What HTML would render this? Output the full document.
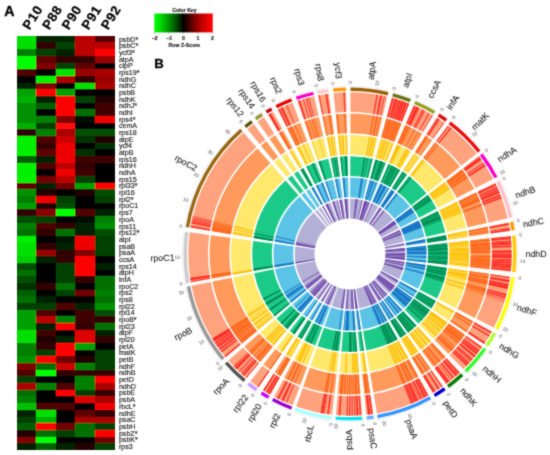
<!DOCTYPE html><html><head><meta charset="utf-8"><title>Figure</title><style>html,body{margin:0;padding:0;background:#fff}svg{display:block}#fig{width:550px;height:455px;overflow:hidden}text{font-family:"Liberation Sans",Arial,sans-serif}</style></head><body><div id="fig"><svg width="550" height="455" viewBox="0 0 550 455"><defs><filter id="sb" filterUnits="userSpaceOnUse" x="0" y="0" width="550" height="455"><feConvolveMatrix order="3" kernelMatrix="1 2 1 2 12 2 1 2 1" divisor="24" edgeMode="duplicate"/></filter></defs><rect width="550" height="455" fill="#fff"/><g filter="url(#sb)"><g shape-rendering="crispEdges"><rect x="16.50" y="35.80" width="19.65" height="6.73" fill="#00E000"/><rect x="36.10" y="35.80" width="19.65" height="6.73" fill="#002600"/><rect x="55.70" y="35.80" width="19.65" height="6.73" fill="#002600"/><rect x="75.30" y="35.80" width="19.65" height="6.73" fill="#BB0000"/><rect x="94.90" y="35.80" width="19.65" height="6.73" fill="#550000"/><rect x="16.50" y="42.48" width="19.65" height="6.73" fill="#00E000"/><rect x="36.10" y="42.48" width="19.65" height="6.73" fill="#300000"/><rect x="55.70" y="42.48" width="19.65" height="6.73" fill="#004000"/><rect x="75.30" y="42.48" width="19.65" height="6.73" fill="#BB0000"/><rect x="94.90" y="42.48" width="19.65" height="6.73" fill="#BB0000"/><rect x="16.50" y="49.16" width="19.65" height="6.73" fill="#008000"/><rect x="36.10" y="49.16" width="19.65" height="6.73" fill="#004000"/><rect x="55.70" y="49.16" width="19.65" height="6.73" fill="#002000"/><rect x="75.30" y="49.16" width="19.65" height="6.73" fill="#BB0000"/><rect x="94.90" y="49.16" width="19.65" height="6.73" fill="#FF0000"/><rect x="16.50" y="55.84" width="19.65" height="6.73" fill="#00FF00"/><rect x="36.10" y="55.84" width="19.65" height="6.73" fill="#600000"/><rect x="55.70" y="55.84" width="19.65" height="6.73" fill="#300000"/><rect x="75.30" y="55.84" width="19.65" height="6.73" fill="#300000"/><rect x="94.90" y="55.84" width="19.65" height="6.73" fill="#990000"/><rect x="16.50" y="62.52" width="19.65" height="6.73" fill="#00FF00"/><rect x="36.10" y="62.52" width="19.65" height="6.73" fill="#800000"/><rect x="55.70" y="62.52" width="19.65" height="6.73" fill="#004000"/><rect x="75.30" y="62.52" width="19.65" height="6.73" fill="#600000"/><rect x="94.90" y="62.52" width="19.65" height="6.73" fill="#000000"/><rect x="16.50" y="69.20" width="19.65" height="6.73" fill="#500000"/><rect x="36.10" y="69.20" width="19.65" height="6.73" fill="#000000"/><rect x="55.70" y="69.20" width="19.65" height="6.73" fill="#00E000"/><rect x="75.30" y="69.20" width="19.65" height="6.73" fill="#990000"/><rect x="94.90" y="69.20" width="19.65" height="6.73" fill="#AA0000"/><rect x="16.50" y="75.87" width="19.65" height="6.73" fill="#000000"/><rect x="36.10" y="75.87" width="19.65" height="6.73" fill="#00F000"/><rect x="55.70" y="75.87" width="19.65" height="6.73" fill="#AA0000"/><rect x="75.30" y="75.87" width="19.65" height="6.73" fill="#300000"/><rect x="94.90" y="75.87" width="19.65" height="6.73" fill="#990000"/><rect x="16.50" y="82.55" width="19.65" height="6.73" fill="#002000"/><rect x="36.10" y="82.55" width="19.65" height="6.73" fill="#800000"/><rect x="55.70" y="82.55" width="19.65" height="6.73" fill="#000000"/><rect x="75.30" y="82.55" width="19.65" height="6.73" fill="#00E000"/><rect x="94.90" y="82.55" width="19.65" height="6.73" fill="#AA0000"/><rect x="16.50" y="89.23" width="19.65" height="6.73" fill="#00A000"/><rect x="36.10" y="89.23" width="19.65" height="6.73" fill="#FF0000"/><rect x="55.70" y="89.23" width="19.65" height="6.73" fill="#00A000"/><rect x="75.30" y="89.23" width="19.65" height="6.73" fill="#000000"/><rect x="94.90" y="89.23" width="19.65" height="6.73" fill="#000000"/><rect x="16.50" y="95.91" width="19.65" height="6.73" fill="#00B000"/><rect x="36.10" y="95.91" width="19.65" height="6.73" fill="#002000"/><rect x="55.70" y="95.91" width="19.65" height="6.73" fill="#FF0000"/><rect x="75.30" y="95.91" width="19.65" height="6.73" fill="#004000"/><rect x="94.90" y="95.91" width="19.65" height="6.73" fill="#200000"/><rect x="16.50" y="102.59" width="19.65" height="6.73" fill="#009000"/><rect x="36.10" y="102.59" width="19.65" height="6.73" fill="#006000"/><rect x="55.70" y="102.59" width="19.65" height="6.73" fill="#FF0000"/><rect x="75.30" y="102.59" width="19.65" height="6.73" fill="#000000"/><rect x="94.90" y="102.59" width="19.65" height="6.73" fill="#400000"/><rect x="16.50" y="109.27" width="19.65" height="6.73" fill="#009000"/><rect x="36.10" y="109.27" width="19.65" height="6.73" fill="#000000"/><rect x="55.70" y="109.27" width="19.65" height="6.73" fill="#FF0000"/><rect x="75.30" y="109.27" width="19.65" height="6.73" fill="#007000"/><rect x="94.90" y="109.27" width="19.65" height="6.73" fill="#400000"/><rect x="16.50" y="115.95" width="19.65" height="6.73" fill="#009000"/><rect x="36.10" y="115.95" width="19.65" height="6.73" fill="#008000"/><rect x="55.70" y="115.95" width="19.65" height="6.73" fill="#800000"/><rect x="75.30" y="115.95" width="19.65" height="6.73" fill="#001000"/><rect x="94.90" y="115.95" width="19.65" height="6.73" fill="#EE0000"/><rect x="16.50" y="122.63" width="19.65" height="6.73" fill="#00B000"/><rect x="36.10" y="122.63" width="19.65" height="6.73" fill="#004000"/><rect x="55.70" y="122.63" width="19.65" height="6.73" fill="#FF1010"/><rect x="75.30" y="122.63" width="19.65" height="6.73" fill="#000000"/><rect x="94.90" y="122.63" width="19.65" height="6.73" fill="#000000"/><rect x="16.50" y="129.31" width="19.65" height="6.73" fill="#300000"/><rect x="36.10" y="129.31" width="19.65" height="6.73" fill="#008000"/><rect x="55.70" y="129.31" width="19.65" height="6.73" fill="#AA0000"/><rect x="75.30" y="129.31" width="19.65" height="6.73" fill="#005000"/><rect x="94.90" y="129.31" width="19.65" height="6.73" fill="#005000"/><rect x="16.50" y="135.99" width="19.65" height="6.73" fill="#00F000"/><rect x="36.10" y="135.99" width="19.65" height="6.73" fill="#500000"/><rect x="55.70" y="135.99" width="19.65" height="6.73" fill="#CC0000"/><rect x="75.30" y="135.99" width="19.65" height="6.73" fill="#003000"/><rect x="94.90" y="135.99" width="19.65" height="6.73" fill="#200000"/><rect x="16.50" y="142.66" width="19.65" height="6.73" fill="#00F000"/><rect x="36.10" y="142.66" width="19.65" height="6.73" fill="#300000"/><rect x="55.70" y="142.66" width="19.65" height="6.73" fill="#EE0000"/><rect x="75.30" y="142.66" width="19.65" height="6.73" fill="#000000"/><rect x="94.90" y="142.66" width="19.65" height="6.73" fill="#003000"/><rect x="16.50" y="149.34" width="19.65" height="6.73" fill="#00F000"/><rect x="36.10" y="149.34" width="19.65" height="6.73" fill="#600000"/><rect x="55.70" y="149.34" width="19.65" height="6.73" fill="#EE0000"/><rect x="75.30" y="149.34" width="19.65" height="6.73" fill="#003000"/><rect x="94.90" y="149.34" width="19.65" height="6.73" fill="#000000"/><rect x="16.50" y="156.02" width="19.65" height="6.73" fill="#006000"/><rect x="36.10" y="156.02" width="19.65" height="6.73" fill="#002000"/><rect x="55.70" y="156.02" width="19.65" height="6.73" fill="#EE0000"/><rect x="75.30" y="156.02" width="19.65" height="6.73" fill="#400000"/><rect x="94.90" y="156.02" width="19.65" height="6.73" fill="#400000"/><rect x="16.50" y="162.70" width="19.65" height="6.73" fill="#00F000"/><rect x="36.10" y="162.70" width="19.65" height="6.73" fill="#500000"/><rect x="55.70" y="162.70" width="19.65" height="6.73" fill="#BB0000"/><rect x="75.30" y="162.70" width="19.65" height="6.73" fill="#300000"/><rect x="94.90" y="162.70" width="19.65" height="6.73" fill="#000000"/><rect x="16.50" y="169.38" width="19.65" height="6.73" fill="#00F000"/><rect x="36.10" y="169.38" width="19.65" height="6.73" fill="#000000"/><rect x="55.70" y="169.38" width="19.65" height="6.73" fill="#EE0000"/><rect x="75.30" y="169.38" width="19.65" height="6.73" fill="#400000"/><rect x="94.90" y="169.38" width="19.65" height="6.73" fill="#000000"/><rect x="16.50" y="176.06" width="19.65" height="6.73" fill="#00F000"/><rect x="36.10" y="176.06" width="19.65" height="6.73" fill="#700000"/><rect x="55.70" y="176.06" width="19.65" height="6.73" fill="#BB0000"/><rect x="75.30" y="176.06" width="19.65" height="6.73" fill="#004000"/><rect x="94.90" y="176.06" width="19.65" height="6.73" fill="#000000"/><rect x="16.50" y="182.74" width="19.65" height="6.73" fill="#600000"/><rect x="36.10" y="182.74" width="19.65" height="6.73" fill="#002000"/><rect x="55.70" y="182.74" width="19.65" height="6.73" fill="#700000"/><rect x="75.30" y="182.74" width="19.65" height="6.73" fill="#00A000"/><rect x="94.90" y="182.74" width="19.65" height="6.73" fill="#FF0000"/><rect x="16.50" y="189.42" width="19.65" height="6.73" fill="#009000"/><rect x="36.10" y="189.42" width="19.65" height="6.73" fill="#200000"/><rect x="55.70" y="189.42" width="19.65" height="6.73" fill="#000000"/><rect x="75.30" y="189.42" width="19.65" height="6.73" fill="#200000"/><rect x="94.90" y="189.42" width="19.65" height="6.73" fill="#005000"/><rect x="16.50" y="196.10" width="19.65" height="6.73" fill="#008000"/><rect x="36.10" y="196.10" width="19.65" height="6.73" fill="#EE0000"/><rect x="55.70" y="196.10" width="19.65" height="6.73" fill="#004000"/><rect x="75.30" y="196.10" width="19.65" height="6.73" fill="#000000"/><rect x="94.90" y="196.10" width="19.65" height="6.73" fill="#004000"/><rect x="16.50" y="202.78" width="19.65" height="6.73" fill="#00A000"/><rect x="36.10" y="202.78" width="19.65" height="6.73" fill="#200000"/><rect x="55.70" y="202.78" width="19.65" height="6.73" fill="#005000"/><rect x="75.30" y="202.78" width="19.65" height="6.73" fill="#000000"/><rect x="94.90" y="202.78" width="19.65" height="6.73" fill="#000000"/><rect x="16.50" y="209.45" width="19.65" height="6.73" fill="#300000"/><rect x="36.10" y="209.45" width="19.65" height="6.73" fill="#880000"/><rect x="55.70" y="209.45" width="19.65" height="6.73" fill="#00FF00"/><rect x="75.30" y="209.45" width="19.65" height="6.73" fill="#500000"/><rect x="94.90" y="209.45" width="19.65" height="6.73" fill="#002000"/><rect x="16.50" y="216.13" width="19.65" height="6.73" fill="#005000"/><rect x="36.10" y="216.13" width="19.65" height="6.73" fill="#004000"/><rect x="55.70" y="216.13" width="19.65" height="6.73" fill="#000000"/><rect x="75.30" y="216.13" width="19.65" height="6.73" fill="#001000"/><rect x="94.90" y="216.13" width="19.65" height="6.73" fill="#008000"/><rect x="16.50" y="222.81" width="19.65" height="6.73" fill="#008000"/><rect x="36.10" y="222.81" width="19.65" height="6.73" fill="#500000"/><rect x="55.70" y="222.81" width="19.65" height="6.73" fill="#300000"/><rect x="75.30" y="222.81" width="19.65" height="6.73" fill="#002000"/><rect x="94.90" y="222.81" width="19.65" height="6.73" fill="#009000"/><rect x="16.50" y="229.49" width="19.65" height="6.73" fill="#007000"/><rect x="36.10" y="229.49" width="19.65" height="6.73" fill="#300000"/><rect x="55.70" y="229.49" width="19.65" height="6.73" fill="#007000"/><rect x="75.30" y="229.49" width="19.65" height="6.73" fill="#002000"/><rect x="94.90" y="229.49" width="19.65" height="6.73" fill="#005000"/><rect x="16.50" y="236.17" width="19.65" height="6.73" fill="#00EE00"/><rect x="36.10" y="236.17" width="19.65" height="6.73" fill="#000000"/><rect x="55.70" y="236.17" width="19.65" height="6.73" fill="#001800"/><rect x="75.30" y="236.17" width="19.65" height="6.73" fill="#EE0000"/><rect x="94.90" y="236.17" width="19.65" height="6.73" fill="#004000"/><rect x="16.50" y="242.85" width="19.65" height="6.73" fill="#00E000"/><rect x="36.10" y="242.85" width="19.65" height="6.73" fill="#300000"/><rect x="55.70" y="242.85" width="19.65" height="6.73" fill="#002000"/><rect x="75.30" y="242.85" width="19.65" height="6.73" fill="#EE0000"/><rect x="94.90" y="242.85" width="19.65" height="6.73" fill="#004000"/><rect x="16.50" y="249.53" width="19.65" height="6.73" fill="#00E000"/><rect x="36.10" y="249.53" width="19.65" height="6.73" fill="#990000"/><rect x="55.70" y="249.53" width="19.65" height="6.73" fill="#300000"/><rect x="75.30" y="249.53" width="19.65" height="6.73" fill="#800000"/><rect x="94.90" y="249.53" width="19.65" height="6.73" fill="#004000"/><rect x="16.50" y="256.21" width="19.65" height="6.73" fill="#00D000"/><rect x="36.10" y="256.21" width="19.65" height="6.73" fill="#002000"/><rect x="55.70" y="256.21" width="19.65" height="6.73" fill="#300000"/><rect x="75.30" y="256.21" width="19.65" height="6.73" fill="#FF0000"/><rect x="94.90" y="256.21" width="19.65" height="6.73" fill="#000000"/><rect x="16.50" y="262.89" width="19.65" height="6.73" fill="#005000"/><rect x="36.10" y="262.89" width="19.65" height="6.73" fill="#000000"/><rect x="55.70" y="262.89" width="19.65" height="6.73" fill="#004000"/><rect x="75.30" y="262.89" width="19.65" height="6.73" fill="#FF0000"/><rect x="94.90" y="262.89" width="19.65" height="6.73" fill="#002000"/><rect x="16.50" y="269.57" width="19.65" height="6.73" fill="#007000"/><rect x="36.10" y="269.57" width="19.65" height="6.73" fill="#000000"/><rect x="55.70" y="269.57" width="19.65" height="6.73" fill="#004000"/><rect x="75.30" y="269.57" width="19.65" height="6.73" fill="#FF0000"/><rect x="94.90" y="269.57" width="19.65" height="6.73" fill="#000000"/><rect x="16.50" y="276.25" width="19.65" height="6.73" fill="#005000"/><rect x="36.10" y="276.25" width="19.65" height="6.73" fill="#000000"/><rect x="55.70" y="276.25" width="19.65" height="6.73" fill="#004000"/><rect x="75.30" y="276.25" width="19.65" height="6.73" fill="#300000"/><rect x="94.90" y="276.25" width="19.65" height="6.73" fill="#007000"/><rect x="16.50" y="282.92" width="19.65" height="6.73" fill="#003000"/><rect x="36.10" y="282.92" width="19.65" height="6.73" fill="#300000"/><rect x="55.70" y="282.92" width="19.65" height="6.73" fill="#007000"/><rect x="75.30" y="282.92" width="19.65" height="6.73" fill="#000000"/><rect x="94.90" y="282.92" width="19.65" height="6.73" fill="#007000"/><rect x="16.50" y="289.60" width="19.65" height="6.73" fill="#006000"/><rect x="36.10" y="289.60" width="19.65" height="6.73" fill="#000000"/><rect x="55.70" y="289.60" width="19.65" height="6.73" fill="#004000"/><rect x="75.30" y="289.60" width="19.65" height="6.73" fill="#700000"/><rect x="94.90" y="289.60" width="19.65" height="6.73" fill="#008000"/><rect x="16.50" y="296.28" width="19.65" height="6.73" fill="#007000"/><rect x="36.10" y="296.28" width="19.65" height="6.73" fill="#002000"/><rect x="55.70" y="296.28" width="19.65" height="6.73" fill="#000000"/><rect x="75.30" y="296.28" width="19.65" height="6.73" fill="#000000"/><rect x="94.90" y="296.28" width="19.65" height="6.73" fill="#007000"/><rect x="16.50" y="302.96" width="19.65" height="6.73" fill="#004000"/><rect x="36.10" y="302.96" width="19.65" height="6.73" fill="#004000"/><rect x="55.70" y="302.96" width="19.65" height="6.73" fill="#500000"/><rect x="75.30" y="302.96" width="19.65" height="6.73" fill="#002000"/><rect x="94.90" y="302.96" width="19.65" height="6.73" fill="#009000"/><rect x="16.50" y="309.64" width="19.65" height="6.73" fill="#00A000"/><rect x="36.10" y="309.64" width="19.65" height="6.73" fill="#500000"/><rect x="55.70" y="309.64" width="19.65" height="6.73" fill="#000000"/><rect x="75.30" y="309.64" width="19.65" height="6.73" fill="#400000"/><rect x="94.90" y="309.64" width="19.65" height="6.73" fill="#005000"/><rect x="16.50" y="316.32" width="19.65" height="6.73" fill="#00A000"/><rect x="36.10" y="316.32" width="19.65" height="6.73" fill="#BB0000"/><rect x="55.70" y="316.32" width="19.65" height="6.73" fill="#008000"/><rect x="75.30" y="316.32" width="19.65" height="6.73" fill="#400000"/><rect x="94.90" y="316.32" width="19.65" height="6.73" fill="#300000"/><rect x="16.50" y="323.00" width="19.65" height="6.73" fill="#00A000"/><rect x="36.10" y="323.00" width="19.65" height="6.73" fill="#002000"/><rect x="55.70" y="323.00" width="19.65" height="6.73" fill="#FF0000"/><rect x="75.30" y="323.00" width="19.65" height="6.73" fill="#300000"/><rect x="94.90" y="323.00" width="19.65" height="6.73" fill="#007000"/><rect x="16.50" y="329.68" width="19.65" height="6.73" fill="#00E000"/><rect x="36.10" y="329.68" width="19.65" height="6.73" fill="#400000"/><rect x="55.70" y="329.68" width="19.65" height="6.73" fill="#000000"/><rect x="75.30" y="329.68" width="19.65" height="6.73" fill="#DD0000"/><rect x="94.90" y="329.68" width="19.65" height="6.73" fill="#002000"/><rect x="16.50" y="336.36" width="19.65" height="6.73" fill="#00E000"/><rect x="36.10" y="336.36" width="19.65" height="6.73" fill="#200000"/><rect x="55.70" y="336.36" width="19.65" height="6.73" fill="#002000"/><rect x="75.30" y="336.36" width="19.65" height="6.73" fill="#DD0000"/><rect x="94.90" y="336.36" width="19.65" height="6.73" fill="#300000"/><rect x="16.50" y="343.04" width="19.65" height="6.73" fill="#008000"/><rect x="36.10" y="343.04" width="19.65" height="6.73" fill="#300000"/><rect x="55.70" y="343.04" width="19.65" height="6.73" fill="#FF0000"/><rect x="75.30" y="343.04" width="19.65" height="6.73" fill="#00A000"/><rect x="94.90" y="343.04" width="19.65" height="6.73" fill="#000000"/><rect x="16.50" y="349.71" width="19.65" height="6.73" fill="#008000"/><rect x="36.10" y="349.71" width="19.65" height="6.73" fill="#004000"/><rect x="55.70" y="349.71" width="19.65" height="6.73" fill="#FF0000"/><rect x="75.30" y="349.71" width="19.65" height="6.73" fill="#000000"/><rect x="94.90" y="349.71" width="19.65" height="6.73" fill="#004000"/><rect x="16.50" y="356.39" width="19.65" height="6.73" fill="#009000"/><rect x="36.10" y="356.39" width="19.65" height="6.73" fill="#FF0000"/><rect x="55.70" y="356.39" width="19.65" height="6.73" fill="#700000"/><rect x="75.30" y="356.39" width="19.65" height="6.73" fill="#200000"/><rect x="94.90" y="356.39" width="19.65" height="6.73" fill="#004000"/><rect x="16.50" y="363.07" width="19.65" height="6.73" fill="#800000"/><rect x="36.10" y="363.07" width="19.65" height="6.73" fill="#007000"/><rect x="55.70" y="363.07" width="19.65" height="6.73" fill="#CC0000"/><rect x="75.30" y="363.07" width="19.65" height="6.73" fill="#008000"/><rect x="94.90" y="363.07" width="19.65" height="6.73" fill="#004000"/><rect x="16.50" y="369.75" width="19.65" height="6.73" fill="#500000"/><rect x="36.10" y="369.75" width="19.65" height="6.73" fill="#00FF00"/><rect x="55.70" y="369.75" width="19.65" height="6.73" fill="#300000"/><rect x="75.30" y="369.75" width="19.65" height="6.73" fill="#300000"/><rect x="94.90" y="369.75" width="19.65" height="6.73" fill="#300000"/><rect x="16.50" y="376.43" width="19.65" height="6.73" fill="#004000"/><rect x="36.10" y="376.43" width="19.65" height="6.73" fill="#000000"/><rect x="55.70" y="376.43" width="19.65" height="6.73" fill="#000000"/><rect x="75.30" y="376.43" width="19.65" height="6.73" fill="#008000"/><rect x="94.90" y="376.43" width="19.65" height="6.73" fill="#FF0000"/><rect x="16.50" y="383.11" width="19.65" height="6.73" fill="#AA0000"/><rect x="36.10" y="383.11" width="19.65" height="6.73" fill="#008000"/><rect x="55.70" y="383.11" width="19.65" height="6.73" fill="#500000"/><rect x="75.30" y="383.11" width="19.65" height="6.73" fill="#008000"/><rect x="94.90" y="383.11" width="19.65" height="6.73" fill="#AA0000"/><rect x="16.50" y="389.79" width="19.65" height="6.73" fill="#007000"/><rect x="36.10" y="389.79" width="19.65" height="6.73" fill="#000000"/><rect x="55.70" y="389.79" width="19.65" height="6.73" fill="#FF0000"/><rect x="75.30" y="389.79" width="19.65" height="6.73" fill="#004000"/><rect x="94.90" y="389.79" width="19.65" height="6.73" fill="#300000"/><rect x="16.50" y="396.47" width="19.65" height="6.73" fill="#008000"/><rect x="36.10" y="396.47" width="19.65" height="6.73" fill="#000000"/><rect x="55.70" y="396.47" width="19.65" height="6.73" fill="#000000"/><rect x="75.30" y="396.47" width="19.65" height="6.73" fill="#DD0000"/><rect x="94.90" y="396.47" width="19.65" height="6.73" fill="#AA0000"/><rect x="16.50" y="403.15" width="19.65" height="6.73" fill="#00C000"/><rect x="36.10" y="403.15" width="19.65" height="6.73" fill="#500000"/><rect x="55.70" y="403.15" width="19.65" height="6.73" fill="#500000"/><rect x="75.30" y="403.15" width="19.65" height="6.73" fill="#000000"/><rect x="94.90" y="403.15" width="19.65" height="6.73" fill="#EE0000"/><rect x="16.50" y="409.83" width="19.65" height="6.73" fill="#002000"/><rect x="36.10" y="409.83" width="19.65" height="6.73" fill="#00E000"/><rect x="55.70" y="409.83" width="19.65" height="6.73" fill="#000000"/><rect x="75.30" y="409.83" width="19.65" height="6.73" fill="#600000"/><rect x="94.90" y="409.83" width="19.65" height="6.73" fill="#300000"/><rect x="16.50" y="416.50" width="19.65" height="6.73" fill="#004000"/><rect x="36.10" y="416.50" width="19.65" height="6.73" fill="#00B000"/><rect x="55.70" y="416.50" width="19.65" height="6.73" fill="#000000"/><rect x="75.30" y="416.50" width="19.65" height="6.73" fill="#AA0000"/><rect x="94.90" y="416.50" width="19.65" height="6.73" fill="#AA0000"/><rect x="16.50" y="423.18" width="19.65" height="6.73" fill="#006000"/><rect x="36.10" y="423.18" width="19.65" height="6.73" fill="#FF0000"/><rect x="55.70" y="423.18" width="19.65" height="6.73" fill="#700000"/><rect x="75.30" y="423.18" width="19.65" height="6.73" fill="#007000"/><rect x="94.90" y="423.18" width="19.65" height="6.73" fill="#004000"/><rect x="16.50" y="429.86" width="19.65" height="6.73" fill="#200000"/><rect x="36.10" y="429.86" width="19.65" height="6.73" fill="#007000"/><rect x="55.70" y="429.86" width="19.65" height="6.73" fill="#004000"/><rect x="75.30" y="429.86" width="19.65" height="6.73" fill="#007000"/><rect x="94.90" y="429.86" width="19.65" height="6.73" fill="#FF0000"/><rect x="16.50" y="436.54" width="19.65" height="6.73" fill="#800000"/><rect x="36.10" y="436.54" width="19.65" height="6.73" fill="#00FF00"/><rect x="55.70" y="436.54" width="19.65" height="6.73" fill="#000000"/><rect x="75.30" y="436.54" width="19.65" height="6.73" fill="#000000"/><rect x="94.90" y="436.54" width="19.65" height="6.73" fill="#700000"/><rect x="16.50" y="443.22" width="19.65" height="6.73" fill="#002000"/><rect x="36.10" y="443.22" width="19.65" height="6.73" fill="#006000"/><rect x="55.70" y="443.22" width="19.65" height="6.73" fill="#002000"/><rect x="75.30" y="443.22" width="19.65" height="6.73" fill="#200000"/><rect x="94.90" y="443.22" width="19.65" height="6.73" fill="#004000"/></g><g font-size="7.1" fill="#1a1a1a" stroke="#333" stroke-width="0.18"><text x="118.9" y="41.50">psbD*</text><text x="118.9" y="48.18">psbC*</text><text x="118.9" y="54.86">ycf3*</text><text x="118.9" y="61.54">atpA</text><text x="118.9" y="68.22">clpP</text><text x="118.9" y="74.90">rps19*</text><text x="118.9" y="81.57">ndhG</text><text x="118.9" y="88.25">ndhC</text><text x="118.9" y="94.93">psbB</text><text x="118.9" y="101.61">ndhK</text><text x="118.9" y="108.29">ndhJ*</text><text x="118.9" y="114.97">ndhI</text><text x="118.9" y="121.65">rps4*</text><text x="118.9" y="128.33">cemA</text><text x="118.9" y="135.01">rps18</text><text x="118.9" y="141.69">atpE</text><text x="118.9" y="148.36">ycf4</text><text x="118.9" y="155.04">atpB</text><text x="118.9" y="161.72">rps16</text><text x="118.9" y="168.40">ndhH</text><text x="118.9" y="175.08">ndhA</text><text x="118.9" y="181.76">rps15</text><text x="118.9" y="188.44">rpl33*</text><text x="118.9" y="195.12">rpl16</text><text x="118.9" y="201.80">rpl2*</text><text x="118.9" y="208.48">rpoC1</text><text x="118.9" y="215.15">rps7</text><text x="118.9" y="221.83">rpoA</text><text x="118.9" y="228.51">rps11</text><text x="118.9" y="235.19">rps12*</text><text x="118.9" y="241.87">atpI</text><text x="118.9" y="248.55">psaB</text><text x="118.9" y="255.23">psaA</text><text x="118.9" y="261.91">ccsA</text><text x="118.9" y="268.59">rps14</text><text x="118.9" y="275.27">atpH</text><text x="118.9" y="281.95">infA</text><text x="118.9" y="288.62">rpoC2</text><text x="118.9" y="295.30">rps2</text><text x="118.9" y="301.98">rps8</text><text x="118.9" y="308.66">rpl22</text><text x="118.9" y="315.34">rpl14</text><text x="118.9" y="322.02">rpoB*</text><text x="118.9" y="328.70">rpl23</text><text x="118.9" y="335.38">atpF</text><text x="118.9" y="342.06">rpl20</text><text x="118.9" y="348.74">petA</text><text x="118.9" y="355.41">matK</text><text x="118.9" y="362.09">petB</text><text x="118.9" y="368.77">ndhF</text><text x="118.9" y="375.45">ndhB</text><text x="118.9" y="382.13">petD</text><text x="118.9" y="388.81">ndhD</text><text x="118.9" y="395.49">psbE</text><text x="118.9" y="402.17">psbA</text><text x="118.9" y="408.85">rbcL*</text><text x="118.9" y="415.53">ndhE</text><text x="118.9" y="422.20">psaC</text><text x="118.9" y="428.88">psbH</text><text x="118.9" y="435.56">psbZ*</text><text x="118.9" y="442.24">psbK*</text><text x="118.9" y="448.92">rps3</text></g><g font-size="13.2" font-weight="bold" fill="#000" stroke="#000" stroke-width="0.25" letter-spacing="0.7"><text transform="translate(29.60,30.5) rotate(-58)">P10</text><text transform="translate(49.20,30.5) rotate(-58)">P88</text><text transform="translate(68.80,30.5) rotate(-58)">P90</text><text transform="translate(88.40,30.5) rotate(-58)">P91</text><text transform="translate(108.00,30.5) rotate(-58)">P92</text></g><text x="4.2" y="15.5" font-size="14.2" font-weight="bold" stroke="#000" stroke-width="0.3">A</text><text x="154.3" y="68" font-size="13.2" font-weight="bold" stroke="#000" stroke-width="0.3">B</text><defs><linearGradient id="ck" x1="0" x2="1" y1="0" y2="0"><stop offset="0" stop-color="#00ff00"/><stop offset="0.06" stop-color="#00f000"/><stop offset="0.25" stop-color="#009400"/><stop offset="0.44" stop-color="#002800"/><stop offset="0.5" stop-color="#000"/><stop offset="0.56" stop-color="#2a0000"/><stop offset="0.75" stop-color="#a00000"/><stop offset="0.94" stop-color="#f50000"/><stop offset="1" stop-color="#ff0000"/></linearGradient></defs><rect x="154.3" y="13.5" width="58.4" height="18.9" fill="url(#ck)"/><g font-size="5.2" font-weight="bold" text-anchor="middle" fill="#111" stroke="#111" stroke-width="0.12"><text x="184.4" y="12">Color Key</text><line x1="154.70" y1="32.4" x2="154.70" y2="34" stroke="#333" stroke-width="0.4"/><text x="154.70" y="39.5">−2</text><line x1="169.13" y1="32.4" x2="169.13" y2="34" stroke="#333" stroke-width="0.4"/><text x="169.13" y="39.5">−1</text><line x1="183.56" y1="32.4" x2="183.56" y2="34" stroke="#333" stroke-width="0.4"/><text x="183.56" y="39.5">0</text><line x1="197.99" y1="32.4" x2="197.99" y2="34" stroke="#333" stroke-width="0.4"/><text x="197.99" y="39.5">1</text><line x1="212.42" y1="32.4" x2="212.42" y2="34" stroke="#333" stroke-width="0.4"/><text x="212.42" y="39.5">2</text><text x="184.4" y="47">Row Z-Score</text></g><path d="M350.16,198.80A55.20,55.20 0 0 1 362.73,200.29L358.18,219.46A35.50,35.50 0 0 0 350.11,218.50Z" fill="#b4afd7"/><path d="M350.23,177.50A76.50,76.50 0 0 1 367.64,179.56L363.10,198.73A56.80,56.80 0 0 0 350.17,197.20Z" fill="#5ac3e6"/><path d="M350.29,156.20A97.80,97.80 0 0 1 372.55,158.83L368.01,178.00A78.10,78.10 0 0 0 350.23,175.90Z" fill="#1fca88"/><path d="M350.35,134.90A119.10,119.10 0 0 1 377.46,138.11L372.92,157.28A99.40,99.40 0 0 0 350.29,154.60Z" fill="#ffe86c"/><path d="M350.42,113.60A140.40,140.40 0 0 1 382.37,117.38L377.83,136.55A120.70,120.70 0 0 0 350.36,133.30Z" fill="#ff9a5c"/><path d="M350.48,92.30A161.70,161.70 0 0 1 387.28,96.66L382.74,115.83A142.00,142.00 0 0 0 350.42,112.00Z" fill="#ffa37e"/><path d="M355.48,199.07A55.20,55.20 0 0 1 356.62,199.20L354.26,218.76A35.50,35.50 0 0 0 353.53,218.68Z" fill="#6c3fa7"/><path d="M356.81,199.22A55.20,55.20 0 0 1 357.94,199.37L355.11,218.87A35.50,35.50 0 0 0 354.38,218.77Z" fill="#754ead"/><path d="M361.62,200.04A55.20,55.20 0 0 1 362.73,200.29L358.18,219.46A35.50,35.50 0 0 0 357.47,219.29Z" fill="#7852af"/><path d="M360.88,178.28A76.50,76.50 0 0 1 363.27,178.66L359.85,198.06A56.80,56.80 0 0 0 358.08,197.78Z" fill="#1e7dc9"/><path d="M363.94,157.20A97.80,97.80 0 0 1 365.80,157.49L362.62,176.93A78.10,78.10 0 0 0 361.13,176.70Z" fill="#028e53"/><path d="M367.33,157.75A97.80,97.80 0 0 1 368.39,157.95L364.69,177.29A78.10,78.10 0 0 0 363.84,177.14Z" fill="#049358"/><path d="M371.27,158.54A97.80,97.80 0 0 1 372.55,158.83L368.01,178.00A78.10,78.10 0 0 0 366.99,177.77Z" fill="#039055"/><path d="M369.00,136.42A119.10,119.10 0 0 1 370.67,136.71L367.25,156.11A99.40,99.40 0 0 0 365.85,155.87Z" fill="#ffbd01"/><path d="M371.70,136.89A119.10,119.10 0 0 1 373.82,137.31L369.88,156.61A99.40,99.40 0 0 0 368.11,156.26Z" fill="#ffbe03"/><path d="M374.57,137.46A119.10,119.10 0 0 1 376.23,137.82L371.89,157.04A99.40,99.40 0 0 0 370.50,156.74Z" fill="#ffc411"/><path d="M372.89,115.48A140.40,140.40 0 0 1 374.32,115.72L370.91,135.12A120.70,120.70 0 0 0 369.68,134.92Z" fill="#ff6010"/><path d="M376.16,116.06A140.40,140.40 0 0 1 378.03,116.43L374.10,135.73A120.70,120.70 0 0 0 372.49,135.41Z" fill="#ff6415"/><path d="M379.47,116.73A140.40,140.40 0 0 1 380.52,116.96L376.24,136.19A120.70,120.70 0 0 0 375.33,135.99Z" fill="#ff6213"/><path d="M376.36,94.46A161.70,161.70 0 0 1 378.01,94.74L374.60,114.15A142.00,142.00 0 0 0 373.15,113.90Z" fill="#ff2f2b"/><path d="M380.13,95.13A161.70,161.70 0 0 1 382.28,95.56L378.35,114.86A142.00,142.00 0 0 0 376.46,114.49Z" fill="#ff2524"/><path d="M383.94,95.90A161.70,161.70 0 0 1 385.15,96.17L380.87,115.40A142.00,142.00 0 0 0 379.80,115.16Z" fill="#ff322d"/><path d="M350.49,87.50A166.50,166.50 0 0 1 388.39,91.99L387.58,95.39A163.00,163.00 0 0 0 350.48,91.00Z" fill="#9c6200"/><path d="M364.29,200.68A55.20,55.20 0 0 1 370.22,202.64L363.01,220.97A35.50,35.50 0 0 0 359.19,219.71Z" fill="#b4afd7"/><path d="M369.80,180.11A76.50,76.50 0 0 1 378.02,182.82L370.81,201.15A56.80,56.80 0 0 0 364.70,199.14Z" fill="#5ac3e6"/><path d="M375.31,159.53A97.80,97.80 0 0 1 385.83,163.00L378.61,181.33A78.10,78.10 0 0 0 370.21,178.56Z" fill="#1fca88"/><path d="M380.83,138.96A119.10,119.10 0 0 1 393.63,143.18L386.41,161.51A99.40,99.40 0 0 0 375.73,157.99Z" fill="#ffe86c"/><path d="M386.34,118.38A140.40,140.40 0 0 1 401.43,123.36L394.22,141.69A120.70,120.70 0 0 0 381.24,137.41Z" fill="#ff9a5c"/><path d="M391.85,97.81A161.70,161.70 0 0 1 409.24,103.54L402.02,121.87A142.00,142.00 0 0 0 386.75,116.84Z" fill="#ffa37e"/><path d="M364.44,200.72A55.20,55.20 0 0 1 367.06,201.50L360.97,220.24A35.50,35.50 0 0 0 359.28,219.74Z" fill="#6a3da6"/><path d="M367.56,201.67A55.20,55.20 0 0 1 369.22,202.26L362.36,220.72A35.50,35.50 0 0 0 361.29,220.34Z" fill="#754ead"/><path d="M369.91,202.52A55.20,55.20 0 0 1 370.22,202.64L363.01,220.97A35.50,35.50 0 0 0 362.80,220.89Z" fill="#754ead"/><path d="M369.95,180.15A76.50,76.50 0 0 1 371.57,180.60L366.02,199.51A56.80,56.80 0 0 0 364.81,199.16Z" fill="#1a79c7"/><path d="M372.41,180.86A76.50,76.50 0 0 1 374.10,181.40L367.89,200.09A56.80,56.80 0 0 0 366.64,199.69Z" fill="#1270c4"/><path d="M375.82,181.99A76.50,76.50 0 0 1 376.96,182.41L370.02,200.84A56.80,56.80 0 0 0 369.17,200.53Z" fill="#1c7bc8"/><path d="M375.55,159.60A97.80,97.80 0 0 1 378.01,160.30L372.36,179.17A78.10,78.10 0 0 0 370.40,178.61Z" fill="#049257"/><path d="M379.58,160.78A97.80,97.80 0 0 1 381.00,161.24L374.76,179.93A78.10,78.10 0 0 0 373.62,179.56Z" fill="#038f55"/><path d="M381.09,161.27A97.80,97.80 0 0 1 383.57,162.14L376.81,180.64A78.10,78.10 0 0 0 374.83,179.95Z" fill="#018c52"/><path d="M384.24,162.39A97.80,97.80 0 0 1 385.18,162.75L378.09,181.13A78.10,78.10 0 0 0 377.34,180.84Z" fill="#06965a"/><path d="M380.94,138.99A119.10,119.10 0 0 1 381.88,139.25L376.61,158.23A99.40,99.40 0 0 0 375.83,158.01Z" fill="#ffc109"/><path d="M382.54,139.43A119.10,119.10 0 0 1 383.59,139.74L378.04,158.64A99.40,99.40 0 0 0 377.16,158.38Z" fill="#ffc20d"/><path d="M383.96,139.85A119.10,119.10 0 0 1 385.28,140.25L379.44,159.06A99.40,99.40 0 0 0 378.35,158.73Z" fill="#ffc513"/><path d="M385.59,140.34A119.10,119.10 0 0 1 386.88,140.75L380.78,159.49A99.40,99.40 0 0 0 379.71,159.14Z" fill="#ffc008"/><path d="M387.82,141.06A119.10,119.10 0 0 1 389.72,141.72L383.15,160.29A99.40,99.40 0 0 0 381.56,159.74Z" fill="#ffc009"/><path d="M391.96,142.53A119.10,119.10 0 0 1 392.94,142.91L385.84,161.28A99.40,99.40 0 0 0 385.02,160.97Z" fill="#ffbf05"/><path d="M393.12,142.98A119.10,119.10 0 0 1 393.63,143.18L386.41,161.51A99.40,99.40 0 0 0 385.99,161.34Z" fill="#ffbd00"/><path d="M386.50,118.43A140.40,140.40 0 0 1 388.09,118.86L382.74,137.83A120.70,120.70 0 0 0 381.38,137.45Z" fill="#ff6416"/><path d="M388.72,119.04A140.40,140.40 0 0 1 390.69,119.63L384.98,138.48A120.70,120.70 0 0 0 383.29,137.98Z" fill="#ff6416"/><path d="M390.80,119.66A140.40,140.40 0 0 1 392.15,120.08L386.23,138.87A120.70,120.70 0 0 0 385.08,138.51Z" fill="#ff681a"/><path d="M392.55,120.20A140.40,140.40 0 0 1 393.94,120.65L387.78,139.36A120.70,120.70 0 0 0 386.58,138.98Z" fill="#ff6618"/><path d="M394.31,120.77A140.40,140.40 0 0 1 396.00,121.35L389.54,139.96A120.70,120.70 0 0 0 388.09,139.47Z" fill="#ff6a1e"/><path d="M396.17,121.41A140.40,140.40 0 0 1 397.48,121.87L390.81,140.41A120.70,120.70 0 0 0 389.69,140.01Z" fill="#ff6a1d"/><path d="M397.67,121.94A140.40,140.40 0 0 1 399.58,122.65L392.63,141.08A120.70,120.70 0 0 0 390.98,140.47Z" fill="#ff691c"/><path d="M400.02,122.81A140.40,140.40 0 0 1 401.43,123.36L394.22,141.69A120.70,120.70 0 0 0 393.00,141.22Z" fill="#ff691c"/><path d="M392.04,97.86A161.70,161.70 0 0 1 393.87,98.36L388.52,117.32A142.00,142.00 0 0 0 386.92,116.88Z" fill="#ff2927"/><path d="M394.59,98.57A161.70,161.70 0 0 1 396.86,99.24L391.16,118.09A142.00,142.00 0 0 0 389.16,117.51Z" fill="#ff2f2b"/><path d="M396.99,99.28A161.70,161.70 0 0 1 398.54,99.76L392.63,118.55A142.00,142.00 0 0 0 391.27,118.13Z" fill="#ff302b"/><path d="M399.01,99.91A161.70,161.70 0 0 1 400.61,100.42L394.44,119.13A142.00,142.00 0 0 0 393.04,118.68Z" fill="#ff2121"/><path d="M401.03,100.56A161.70,161.70 0 0 1 402.98,101.22L396.52,119.84A142.00,142.00 0 0 0 394.81,119.26Z" fill="#ff2b28"/><path d="M403.17,101.29A161.70,161.70 0 0 1 404.68,101.82L398.02,120.36A142.00,142.00 0 0 0 396.69,119.90Z" fill="#ff2120"/><path d="M404.90,101.90A161.70,161.70 0 0 1 407.11,102.72L400.15,121.15A142.00,142.00 0 0 0 398.21,120.43Z" fill="#ff2a27"/><path d="M407.60,102.91A161.70,161.70 0 0 1 409.24,103.54L402.02,121.87A142.00,142.00 0 0 0 400.59,121.32Z" fill="#ff2b28"/><path d="M393.09,93.17A166.50,166.50 0 0 1 411.00,99.07L409.71,102.33A163.00,163.00 0 0 0 392.19,96.55Z" fill="#6b7410"/><path d="M371.70,203.24A55.20,55.20 0 0 1 378.30,206.61L368.20,223.52A35.50,35.50 0 0 0 363.96,221.36Z" fill="#b4afd7"/><path d="M380.08,183.66A76.50,76.50 0 0 1 389.22,188.32L379.12,205.23A56.80,56.80 0 0 0 372.33,201.77Z" fill="#5ac3e6"/><path d="M388.45,164.07A97.80,97.80 0 0 1 400.14,170.03L390.04,186.94A78.10,78.10 0 0 0 380.70,182.19Z" fill="#1fca88"/><path d="M396.82,144.49A119.10,119.10 0 0 1 411.06,151.74L400.96,168.65A99.40,99.40 0 0 0 389.08,162.60Z" fill="#ffe86c"/><path d="M405.20,124.91A140.40,140.40 0 0 1 421.97,133.45L411.88,150.37A120.70,120.70 0 0 0 397.45,143.02Z" fill="#ff9a5c"/><path d="M413.57,105.32A161.70,161.70 0 0 1 432.89,115.16L422.80,132.08A142.00,142.00 0 0 0 405.83,123.43Z" fill="#ffa37e"/><path d="M371.80,203.29A55.20,55.20 0 0 1 372.71,203.69L364.61,221.64A35.50,35.50 0 0 0 364.02,221.39Z" fill="#7752af"/><path d="M378.24,206.57A55.20,55.20 0 0 1 378.30,206.61L368.20,223.52A35.50,35.50 0 0 0 368.16,223.50Z" fill="#754dad"/><path d="M380.32,183.77A76.50,76.50 0 0 1 383.06,185.01L374.55,202.78A56.80,56.80 0 0 0 372.51,201.85Z" fill="#1c7bc8"/><path d="M383.83,185.39A76.50,76.50 0 0 1 386.51,186.77L377.11,204.09A56.80,56.80 0 0 0 375.12,203.05Z" fill="#1574c5"/><path d="M388.07,187.65A76.50,76.50 0 0 1 389.22,188.32L379.12,205.23A56.80,56.80 0 0 0 378.27,204.73Z" fill="#1674c5"/><path d="M388.69,164.18A97.80,97.80 0 0 1 390.08,164.79L382.01,182.76A78.10,78.10 0 0 0 380.89,182.27Z" fill="#008a50"/><path d="M391.59,165.48A97.80,97.80 0 0 1 393.18,166.25L384.48,183.93A78.10,78.10 0 0 0 383.21,183.31Z" fill="#028f54"/><path d="M393.28,166.30A97.80,97.80 0 0 1 394.12,166.72L385.23,184.30A78.10,78.10 0 0 0 384.56,183.96Z" fill="#06975b"/><path d="M394.25,166.78A97.80,97.80 0 0 1 395.41,167.38L386.26,184.83A78.10,78.10 0 0 0 385.34,184.35Z" fill="#039056"/><path d="M395.78,167.58A97.80,97.80 0 0 1 397.20,168.34L387.69,185.60A78.10,78.10 0 0 0 386.56,184.99Z" fill="#018c52"/><path d="M398.10,168.85A97.80,97.80 0 0 1 399.00,169.36L389.13,186.41A78.10,78.10 0 0 0 388.41,186.00Z" fill="#028e53"/><path d="M399.07,169.40A97.80,97.80 0 0 1 400.14,170.03L390.04,186.94A78.10,78.10 0 0 0 389.18,186.44Z" fill="#028d53"/><path d="M396.95,144.54A119.10,119.10 0 0 1 399.15,145.51L391.02,163.46A99.40,99.40 0 0 0 389.18,162.65Z" fill="#ffbe02"/><path d="M399.20,145.54A119.10,119.10 0 0 1 400.63,146.20L392.26,164.03A99.40,99.40 0 0 0 391.06,163.48Z" fill="#ffbe03"/><path d="M405.89,148.83A119.10,119.10 0 0 1 407.76,149.84L398.21,167.07A99.40,99.40 0 0 0 396.65,166.22Z" fill="#ffc007"/><path d="M407.82,149.88A119.10,119.10 0 0 1 408.51,150.26L398.83,167.42A99.40,99.40 0 0 0 398.26,167.10Z" fill="#ffbf06"/><path d="M408.58,150.30A119.10,119.10 0 0 1 409.93,151.08L400.02,168.10A99.40,99.40 0 0 0 398.89,167.46Z" fill="#ffc20d"/><path d="M405.48,125.03A140.40,140.40 0 0 1 407.13,125.75L399.12,143.74A120.70,120.70 0 0 0 397.70,143.12Z" fill="#ff6516"/><path d="M407.45,125.89A140.40,140.40 0 0 1 409.42,126.79L401.08,144.64A120.70,120.70 0 0 0 399.39,143.87Z" fill="#ff691c"/><path d="M409.60,126.88A140.40,140.40 0 0 1 410.44,127.28L401.96,145.06A120.70,120.70 0 0 0 401.24,144.72Z" fill="#ff6111"/><path d="M414.18,129.13A140.40,140.40 0 0 1 415.22,129.67L406.07,147.11A120.70,120.70 0 0 0 405.17,146.65Z" fill="#ff6415"/><path d="M418.29,131.33A140.40,140.40 0 0 1 419.20,131.84L409.49,148.98A120.70,120.70 0 0 0 408.71,148.54Z" fill="#ff691c"/><path d="M421.38,133.10A140.40,140.40 0 0 1 421.97,133.45L411.88,150.37A120.70,120.70 0 0 0 411.37,150.06Z" fill="#ff6415"/><path d="M413.90,105.46A161.70,161.70 0 0 1 415.80,106.29L407.78,124.29A142.00,142.00 0 0 0 406.11,123.56Z" fill="#ff3730"/><path d="M416.17,106.46A161.70,161.70 0 0 1 418.43,107.50L410.10,125.34A142.00,142.00 0 0 0 408.11,124.43Z" fill="#ff2020"/><path d="M418.65,107.59A161.70,161.70 0 0 1 419.61,108.05L411.13,125.83A142.00,142.00 0 0 0 410.28,125.43Z" fill="#ff2d29"/><path d="M422.27,109.35A161.70,161.70 0 0 1 423.34,109.89L414.40,127.44A142.00,142.00 0 0 0 413.46,126.97Z" fill="#ff2221"/><path d="M423.92,110.18A161.70,161.70 0 0 1 425.11,110.81L415.96,128.25A142.00,142.00 0 0 0 414.91,127.70Z" fill="#ff2e2a"/><path d="M428.65,112.72A161.70,161.70 0 0 1 429.70,113.31L419.99,130.45A142.00,142.00 0 0 0 419.07,129.93Z" fill="#ff2423"/><path d="M432.21,114.76A161.70,161.70 0 0 1 432.89,115.16L422.80,132.08A142.00,142.00 0 0 0 422.20,131.72Z" fill="#ff2423"/><path d="M415.46,100.91A166.50,166.50 0 0 1 435.35,111.04L433.56,114.05A163.00,163.00 0 0 0 414.08,104.12Z" fill="#94a020"/><path d="M379.68,207.46A55.20,55.20 0 0 1 382.25,209.20L370.74,225.19A35.50,35.50 0 0 0 369.08,224.07Z" fill="#b4afd7"/><path d="M391.13,189.49A76.50,76.50 0 0 1 394.70,191.91L383.19,207.90A56.80,56.80 0 0 0 380.54,206.11Z" fill="#5ac3e6"/><path d="M402.58,171.53A97.80,97.80 0 0 1 407.14,174.63L395.63,190.62A78.10,78.10 0 0 0 391.99,188.15Z" fill="#1fca88"/><path d="M414.03,153.57A119.10,119.10 0 0 1 419.58,157.34L408.07,173.33A99.40,99.40 0 0 0 403.44,170.19Z" fill="#ffe86c"/><path d="M425.48,135.61A140.40,140.40 0 0 1 432.03,140.06L420.52,156.04A120.70,120.70 0 0 0 414.89,152.23Z" fill="#ff9a5c"/><path d="M436.93,117.65A161.70,161.70 0 0 1 444.47,122.77L432.96,138.76A142.00,142.00 0 0 0 426.34,134.27Z" fill="#ffa37e"/><path d="M379.78,207.52A55.20,55.20 0 0 1 381.36,208.58L370.17,224.79A35.50,35.50 0 0 0 369.15,224.11Z" fill="#744dad"/><path d="M382.04,209.05A55.20,55.20 0 0 1 382.25,209.20L370.74,225.19A35.50,35.50 0 0 0 370.61,225.09Z" fill="#7047aa"/><path d="M391.46,189.71A76.50,76.50 0 0 1 392.54,190.42L381.58,206.79A56.80,56.80 0 0 0 380.78,206.26Z" fill="#1775c6"/><path d="M392.65,190.49A76.50,76.50 0 0 1 394.54,191.80L383.07,207.82A56.80,56.80 0 0 0 381.66,206.84Z" fill="#106dc2"/><path d="M402.64,171.57A97.80,97.80 0 0 1 404.09,172.52L393.20,188.93A78.10,78.10 0 0 0 392.04,188.18Z" fill="#018d52"/><path d="M404.98,173.12A97.80,97.80 0 0 1 406.46,174.14L395.09,190.23A78.10,78.10 0 0 0 393.91,189.41Z" fill="#049257"/><path d="M414.17,153.66A119.10,119.10 0 0 1 415.63,154.61L404.77,171.05A99.40,99.40 0 0 0 403.55,170.26Z" fill="#ffc109"/><path d="M416.85,155.43A119.10,119.10 0 0 1 418.03,156.24L406.78,172.41A99.40,99.40 0 0 0 405.79,171.74Z" fill="#ffc20d"/><path d="M418.92,156.87A119.10,119.10 0 0 1 419.58,157.34L408.07,173.33A99.40,99.40 0 0 0 407.52,172.94Z" fill="#ffc006"/><path d="M425.69,135.75A140.40,140.40 0 0 1 426.33,136.16L415.62,152.69A120.70,120.70 0 0 0 415.07,152.34Z" fill="#ff681b"/><path d="M426.49,136.26A140.40,140.40 0 0 1 428.08,137.32L417.13,153.69A120.70,120.70 0 0 0 415.75,152.78Z" fill="#ff6719"/><path d="M431.49,139.67A140.40,140.40 0 0 1 432.03,140.06L420.52,156.04A120.70,120.70 0 0 0 420.05,155.71Z" fill="#ff6213"/><path d="M437.17,117.81A161.70,161.70 0 0 1 437.91,118.28L427.20,134.82A142.00,142.00 0 0 0 426.55,134.40Z" fill="#ff2826"/><path d="M438.09,118.40A161.70,161.70 0 0 1 439.93,119.61L428.97,135.99A142.00,142.00 0 0 0 427.36,134.92Z" fill="#ff322d"/><path d="M443.85,122.32A161.70,161.70 0 0 1 444.47,122.77L432.96,138.76A142.00,142.00 0 0 0 432.42,138.36Z" fill="#ff2b28"/><path d="M439.51,113.61A166.50,166.50 0 0 1 447.28,118.87L445.23,121.71A163.00,163.00 0 0 0 437.63,116.56Z" fill="#e01010"/><path d="M383.41,210.06A55.20,55.20 0 0 1 393.25,219.70L377.81,231.94A35.50,35.50 0 0 0 371.49,225.74Z" fill="#b4afd7"/><path d="M396.30,193.11A76.50,76.50 0 0 1 409.94,206.46L394.50,218.70A56.80,56.80 0 0 0 384.38,208.79Z" fill="#5ac3e6"/><path d="M409.20,176.15A97.80,97.80 0 0 1 426.62,193.22L411.19,205.47A78.10,78.10 0 0 0 397.27,191.83Z" fill="#1fca88"/><path d="M422.09,159.20A119.10,119.10 0 0 1 443.31,179.99L427.88,192.23A99.40,99.40 0 0 0 410.17,174.88Z" fill="#ffe86c"/><path d="M434.98,142.24A140.40,140.40 0 0 1 460.00,166.75L444.57,178.99A120.70,120.70 0 0 0 423.06,157.92Z" fill="#ff9a5c"/><path d="M447.88,125.29A161.70,161.70 0 0 1 476.69,153.52L461.25,165.76A142.00,142.00 0 0 0 435.95,140.97Z" fill="#ffa37e"/><path d="M383.52,210.15A55.20,55.20 0 0 1 384.72,211.08L372.33,226.40A35.50,35.50 0 0 0 371.56,225.80Z" fill="#754ead"/><path d="M396.36,193.15A76.50,76.50 0 0 1 397.83,194.29L385.51,209.67A56.80,56.80 0 0 0 384.42,208.82Z" fill="#1b7ac8"/><path d="M409.25,176.19A97.80,97.80 0 0 1 410.09,176.84L397.99,192.38A78.10,78.10 0 0 0 397.32,191.86Z" fill="#049358"/><path d="M410.42,177.10A97.80,97.80 0 0 1 411.51,177.96L399.12,193.28A78.10,78.10 0 0 0 398.25,192.59Z" fill="#039055"/><path d="M422.44,159.46A119.10,119.10 0 0 1 424.04,160.71L411.80,176.14A99.40,99.40 0 0 0 410.45,175.10Z" fill="#ffc20d"/><path d="M424.30,160.91A119.10,119.10 0 0 1 424.90,161.40L412.51,176.72A99.40,99.40 0 0 0 412.01,176.31Z" fill="#ffc007"/><path d="M435.24,142.44A140.40,140.40 0 0 1 436.18,143.16L424.09,158.71A120.70,120.70 0 0 0 423.28,158.09Z" fill="#ff6719"/><path d="M437.23,143.98A140.40,140.40 0 0 1 438.30,144.84L425.91,160.16A120.70,120.70 0 0 0 424.99,159.42Z" fill="#ff6112"/><path d="M448.17,125.51A161.70,161.70 0 0 1 449.26,126.35L437.16,141.90A142.00,142.00 0 0 0 436.21,141.17Z" fill="#ff3630"/><path d="M450.46,127.29A161.70,161.70 0 0 1 451.69,128.28L439.30,143.60A142.00,142.00 0 0 0 438.22,142.73Z" fill="#ff2221"/><path d="M450.78,121.47A166.50,166.50 0 0 1 480.45,150.53L477.71,152.71A163.00,163.00 0 0 0 448.66,124.25Z" fill="#ee0808"/><path d="M393.97,220.63A55.20,55.20 0 0 1 398.89,228.37L381.44,237.51A35.50,35.50 0 0 0 378.28,232.54Z" fill="#b4afd7"/><path d="M410.94,207.76A76.50,76.50 0 0 1 417.75,218.48L400.30,227.62A56.80,56.80 0 0 0 395.25,219.67Z" fill="#5ac3e6"/><path d="M427.91,194.88A97.80,97.80 0 0 1 436.62,208.58L419.17,217.73A78.10,78.10 0 0 0 412.22,206.79Z" fill="#1fca88"/><path d="M444.88,182.01A119.10,119.10 0 0 1 455.48,198.69L438.03,207.84A99.40,99.40 0 0 0 429.19,193.92Z" fill="#ffe86c"/><path d="M461.85,169.13A140.40,140.40 0 0 1 474.34,188.80L456.90,197.95A120.70,120.70 0 0 0 446.15,181.04Z" fill="#ff9a5c"/><path d="M478.82,156.26A161.70,161.70 0 0 1 493.21,178.91L475.76,188.06A142.00,142.00 0 0 0 463.12,168.17Z" fill="#ffa37e"/><path d="M394.04,220.72A55.20,55.20 0 0 1 395.37,222.55L379.18,233.78A35.50,35.50 0 0 0 378.32,232.60Z" fill="#6a3da6"/><path d="M395.38,222.57A55.20,55.20 0 0 1 396.34,224.01L379.80,234.71A35.50,35.50 0 0 0 379.18,233.78Z" fill="#6f45aa"/><path d="M411.03,207.88A76.50,76.50 0 0 1 412.66,210.12L396.53,221.42A56.80,56.80 0 0 0 395.32,219.76Z" fill="#1572c5"/><path d="M412.81,210.33A76.50,76.50 0 0 1 414.15,212.33L397.63,223.06A56.80,56.80 0 0 0 396.64,221.58Z" fill="#126fc3"/><path d="M427.91,194.89A97.80,97.80 0 0 1 429.04,196.40L413.12,208.00A78.10,78.10 0 0 0 412.22,206.80Z" fill="#049156"/><path d="M429.33,196.80A97.80,97.80 0 0 1 430.57,198.57L414.34,209.73A78.10,78.10 0 0 0 413.35,208.32Z" fill="#059459"/><path d="M430.61,198.61A97.80,97.80 0 0 1 431.93,200.59L415.43,211.35A78.10,78.10 0 0 0 414.37,209.77Z" fill="#05955a"/><path d="M444.88,182.01A119.10,119.10 0 0 1 446.27,183.89L430.35,195.48A99.40,99.40 0 0 0 429.19,193.92Z" fill="#ffc109"/><path d="M446.52,184.22A119.10,119.10 0 0 1 447.61,185.76L431.46,197.04A99.40,99.40 0 0 0 430.55,195.76Z" fill="#ffbf04"/><path d="M447.79,186.01A119.10,119.10 0 0 1 448.45,186.97L432.17,198.06A99.40,99.40 0 0 0 431.61,197.25Z" fill="#ffc10a"/><path d="M448.63,187.25A119.10,119.10 0 0 1 449.40,188.39L432.96,199.24A99.40,99.40 0 0 0 432.32,198.29Z" fill="#ffbf06"/><path d="M449.42,188.42A119.10,119.10 0 0 1 449.99,189.30L433.45,200.00A99.40,99.40 0 0 0 432.97,199.27Z" fill="#ffc412"/><path d="M462.15,169.53A140.40,140.40 0 0 1 462.96,170.62L447.11,182.32A120.70,120.70 0 0 0 446.41,181.39Z" fill="#ff6314"/><path d="M463.05,170.74A140.40,140.40 0 0 1 464.18,172.29L448.15,183.76A120.70,120.70 0 0 0 447.18,182.42Z" fill="#ff6111"/><path d="M464.57,172.85A140.40,140.40 0 0 1 465.69,174.45L449.46,185.61A120.70,120.70 0 0 0 448.49,184.23Z" fill="#ff6617"/><path d="M465.72,174.49A140.40,140.40 0 0 1 466.41,175.51L450.07,186.52A120.70,120.70 0 0 0 449.48,185.65Z" fill="#ff6719"/><path d="M466.82,176.12A140.40,140.40 0 0 1 467.87,177.73L451.34,188.43A120.70,120.70 0 0 0 450.43,187.05Z" fill="#ff6416"/><path d="M479.16,156.72A161.70,161.70 0 0 1 480.10,157.97L464.25,169.67A142.00,142.00 0 0 0 463.43,168.57Z" fill="#ff332e"/><path d="M480.20,158.11A161.70,161.70 0 0 1 481.50,159.90L465.48,171.36A142.00,142.00 0 0 0 464.33,169.79Z" fill="#ff2524"/><path d="M483.27,162.43A161.70,161.70 0 0 1 484.07,163.60L467.73,174.61A142.00,142.00 0 0 0 467.04,173.58Z" fill="#ff2725"/><path d="M484.55,164.31A161.70,161.70 0 0 1 485.76,166.15L469.22,176.86A142.00,142.00 0 0 0 468.15,175.24Z" fill="#ff2a27"/><path d="M482.64,153.36A166.50,166.50 0 0 1 497.46,176.68L494.36,178.31A163.00,163.00 0 0 0 479.85,155.47Z" fill="#ff00cc"/><path d="M399.58,229.74A55.20,55.20 0 0 1 403.84,241.82L384.62,246.17A35.50,35.50 0 0 0 381.89,238.40Z" fill="#b4afd7"/><path d="M418.72,220.38A76.50,76.50 0 0 1 424.61,237.12L405.40,241.46A56.80,56.80 0 0 0 401.02,229.04Z" fill="#5ac3e6"/><path d="M437.85,211.02A97.80,97.80 0 0 1 445.39,232.42L426.17,236.76A78.10,78.10 0 0 0 420.15,219.68Z" fill="#1fca88"/><path d="M456.98,201.66A119.10,119.10 0 0 1 466.16,227.71L446.95,232.06A99.40,99.40 0 0 0 439.29,210.32Z" fill="#ffe86c"/><path d="M476.12,192.30A140.40,140.40 0 0 1 486.94,223.01L467.72,227.36A120.70,120.70 0 0 0 458.42,200.96Z" fill="#ff9a5c"/><path d="M495.25,182.94A161.70,161.70 0 0 1 507.71,218.31L488.50,222.66A142.00,142.00 0 0 0 477.55,191.60Z" fill="#ffa37e"/><path d="M399.67,229.91A55.20,55.20 0 0 1 400.45,231.60L382.45,239.59A35.50,35.50 0 0 0 381.94,238.51Z" fill="#734bac"/><path d="M400.69,232.15A55.20,55.20 0 0 1 401.08,233.07L382.85,240.54A35.50,35.50 0 0 0 382.60,239.94Z" fill="#6b3ea7"/><path d="M401.16,233.26A55.20,55.20 0 0 1 401.66,234.56L383.23,241.50A35.50,35.50 0 0 0 382.90,240.66Z" fill="#6e43a9"/><path d="M401.76,234.81A55.20,55.20 0 0 1 401.85,235.05L383.34,241.81A35.50,35.50 0 0 0 383.29,241.66Z" fill="#7249ab"/><path d="M418.73,220.40A76.50,76.50 0 0 1 419.74,222.55L401.78,230.65A56.80,56.80 0 0 0 401.03,229.06Z" fill="#1977c7"/><path d="M419.76,222.61A76.50,76.50 0 0 1 420.95,225.39L402.68,232.76A56.80,56.80 0 0 0 401.80,230.69Z" fill="#126fc3"/><path d="M420.99,225.50A76.50,76.50 0 0 1 421.85,227.74L403.35,234.50A56.80,56.80 0 0 0 402.71,232.84Z" fill="#1674c5"/><path d="M437.91,211.14A97.80,97.80 0 0 1 438.77,212.96L420.89,221.23A78.10,78.10 0 0 0 420.20,219.77Z" fill="#06955a"/><path d="M438.81,213.05A97.80,97.80 0 0 1 439.41,214.37L421.40,222.35A78.10,78.10 0 0 0 420.92,221.30Z" fill="#059358"/><path d="M439.56,214.71A97.80,97.80 0 0 1 440.16,216.10L422.00,223.74A78.10,78.10 0 0 0 421.52,222.62Z" fill="#049257"/><path d="M440.22,216.24A97.80,97.80 0 0 1 441.27,218.87L422.89,225.95A78.10,78.10 0 0 0 422.05,223.85Z" fill="#008b50"/><path d="M441.51,219.50A97.80,97.80 0 0 1 441.86,220.43L423.35,227.19A78.10,78.10 0 0 0 423.08,226.45Z" fill="#059459"/><path d="M457.02,201.75A119.10,119.10 0 0 1 457.70,203.15L439.88,211.56A99.40,99.40 0 0 0 439.32,210.39Z" fill="#ffbf05"/><path d="M457.76,203.28A119.10,119.10 0 0 1 458.39,204.63L440.46,212.80A99.40,99.40 0 0 0 439.94,211.67Z" fill="#ffbf06"/><path d="M458.70,205.32A119.10,119.10 0 0 1 459.56,207.28L441.43,215.01A99.40,99.40 0 0 0 440.72,213.37Z" fill="#ffc008"/><path d="M459.66,207.54A119.10,119.10 0 0 1 460.14,208.67L441.92,216.17A99.40,99.40 0 0 0 441.52,215.22Z" fill="#ffc30f"/><path d="M460.17,208.76A119.10,119.10 0 0 1 460.73,210.15L442.42,217.40A99.40,99.40 0 0 0 441.95,216.25Z" fill="#ffc109"/><path d="M460.86,210.46A119.10,119.10 0 0 1 461.35,211.74L442.93,218.73A99.40,99.40 0 0 0 442.52,217.67Z" fill="#ffbf05"/><path d="M461.44,211.98A119.10,119.10 0 0 1 461.86,213.12L443.36,219.88A99.40,99.40 0 0 0 443.01,218.93Z" fill="#ffbf04"/><path d="M476.32,192.71A140.40,140.40 0 0 1 477.21,194.59L459.36,202.92A120.70,120.70 0 0 0 458.59,201.31Z" fill="#ff6415"/><path d="M477.56,195.33A140.40,140.40 0 0 1 477.98,196.27L460.03,204.37A120.70,120.70 0 0 0 459.66,203.57Z" fill="#ff6517"/><path d="M477.99,196.28A140.40,140.40 0 0 1 478.36,197.11L460.35,205.10A120.70,120.70 0 0 0 460.03,204.38Z" fill="#ff691b"/><path d="M478.55,197.55A140.40,140.40 0 0 1 479.16,198.95L461.04,206.67A120.70,120.70 0 0 0 460.51,205.47Z" fill="#ff6516"/><path d="M479.25,199.18A140.40,140.40 0 0 1 480.06,201.12L461.81,208.54A120.70,120.70 0 0 0 461.12,206.87Z" fill="#ff6111"/><path d="M481.23,204.08A140.40,140.40 0 0 1 481.87,205.81L463.37,212.57A120.70,120.70 0 0 0 462.81,211.09Z" fill="#ff6618"/><path d="M495.48,183.41A161.70,161.70 0 0 1 496.51,185.57L478.66,193.91A142.00,142.00 0 0 0 477.75,192.01Z" fill="#ff2625"/><path d="M496.91,186.43A161.70,161.70 0 0 1 497.40,187.52L479.44,195.62A142.00,142.00 0 0 0 479.01,194.67Z" fill="#ff352f"/><path d="M497.40,187.52A161.70,161.70 0 0 1 497.83,188.48L479.82,196.47A142.00,142.00 0 0 0 479.44,195.62Z" fill="#ff2826"/><path d="M498.05,188.98A161.70,161.70 0 0 1 498.75,190.60L480.63,198.32A142.00,142.00 0 0 0 480.02,196.90Z" fill="#ff2f2b"/><path d="M498.86,190.86A161.70,161.70 0 0 1 499.79,193.10L481.54,200.52A142.00,142.00 0 0 0 480.73,198.55Z" fill="#ff2b28"/><path d="M500.13,193.94A161.70,161.70 0 0 1 500.90,195.90L482.52,202.98A142.00,142.00 0 0 0 481.84,201.26Z" fill="#ff352f"/><path d="M501.13,196.51A161.70,161.70 0 0 1 501.87,198.49L483.37,205.26A142.00,142.00 0 0 0 482.72,203.51Z" fill="#ff352f"/><path d="M499.56,180.83A166.50,166.50 0 0 1 512.39,217.25L508.98,218.03A163.00,163.00 0 0 0 496.42,182.37Z" fill="#ffc0cb"/><path d="M404.14,243.23A55.20,55.20 0 0 1 404.62,246.03L385.13,248.88A35.50,35.50 0 0 0 384.82,247.07Z" fill="#b4afd7"/><path d="M425.03,239.08A76.50,76.50 0 0 1 425.70,242.96L406.21,245.80A56.80,56.80 0 0 0 405.71,242.92Z" fill="#5ac3e6"/><path d="M445.92,234.92A97.80,97.80 0 0 1 446.78,239.88L427.28,242.73A78.10,78.10 0 0 0 426.60,238.76Z" fill="#1fca88"/><path d="M466.81,230.76A119.10,119.10 0 0 1 467.85,236.81L448.36,239.65A99.40,99.40 0 0 0 447.49,234.61Z" fill="#ffe86c"/><path d="M487.70,226.61A140.40,140.40 0 0 1 488.93,233.73L469.44,236.58A120.70,120.70 0 0 0 468.38,230.45Z" fill="#ff9a5c"/><path d="M508.59,222.45A161.70,161.70 0 0 1 510.01,230.66L490.51,233.50A142.00,142.00 0 0 0 489.27,226.30Z" fill="#ffa37e"/><path d="M404.18,243.45A55.20,55.20 0 0 1 404.43,244.81L385.00,248.09A35.50,35.50 0 0 0 384.85,247.21Z" fill="#7046aa"/><path d="M425.04,239.14A76.50,76.50 0 0 1 425.57,242.08L406.11,245.15A56.80,56.80 0 0 0 405.72,242.97Z" fill="#1674c5"/><path d="M445.97,235.15A97.80,97.80 0 0 1 446.44,237.75L427.01,241.02A78.10,78.10 0 0 0 426.64,238.95Z" fill="#008b51"/><path d="M446.46,237.86A97.80,97.80 0 0 1 446.78,239.88L427.28,242.73A78.10,78.10 0 0 0 427.03,241.11Z" fill="#028d53"/><path d="M466.82,230.83A119.10,119.10 0 0 1 467.16,232.61L447.78,236.15A99.40,99.40 0 0 0 447.50,234.66Z" fill="#ffbf04"/><path d="M467.26,233.16A119.10,119.10 0 0 1 467.51,234.62L448.07,237.82A99.40,99.40 0 0 0 447.87,236.61Z" fill="#ffbe02"/><path d="M467.68,235.66A119.10,119.10 0 0 1 467.84,236.72L448.35,239.58A99.40,99.40 0 0 0 448.21,238.69Z" fill="#ffbf05"/><path d="M487.78,226.99A140.40,140.40 0 0 1 488.11,228.72L468.73,232.27A120.70,120.70 0 0 0 468.45,230.78Z" fill="#ff6a1d"/><path d="M488.32,229.94A140.40,140.40 0 0 1 488.47,230.83L469.04,234.08A120.70,120.70 0 0 0 468.91,233.32Z" fill="#ff6517"/><path d="M488.53,231.16A140.40,140.40 0 0 1 488.68,232.12L469.22,235.19A120.70,120.70 0 0 0 469.09,234.37Z" fill="#ff6313"/><path d="M508.68,222.89A161.70,161.70 0 0 1 509.06,224.89L489.68,228.44A142.00,142.00 0 0 0 489.35,226.68Z" fill="#ff2825"/><path d="M509.55,227.70A161.70,161.70 0 0 1 509.72,228.80L490.26,231.87A142.00,142.00 0 0 0 490.11,230.90Z" fill="#ff2423"/><path d="M509.73,228.83A161.70,161.70 0 0 1 510.01,230.66L490.51,233.50A142.00,142.00 0 0 0 490.27,231.90Z" fill="#ff332d"/><path d="M513.30,221.52A166.50,166.50 0 0 1 514.76,229.96L511.29,230.47A163.00,163.00 0 0 0 509.87,222.20Z" fill="#ff9900"/><path d="M404.85,247.83A55.20,55.20 0 0 1 404.86,260.09L385.28,257.91A35.50,35.50 0 0 0 385.28,250.03Z" fill="#b4afd7"/><path d="M426.02,245.45A76.50,76.50 0 0 1 426.03,262.43L406.45,260.26A56.80,56.80 0 0 0 406.44,247.65Z" fill="#5ac3e6"/><path d="M447.19,243.06A97.80,97.80 0 0 1 447.20,264.78L427.62,262.61A78.10,78.10 0 0 0 427.61,245.27Z" fill="#1fca88"/><path d="M468.35,240.68A119.10,119.10 0 0 1 468.37,267.13L448.79,264.96A99.40,99.40 0 0 0 448.78,242.89Z" fill="#ffe86c"/><path d="M489.52,238.30A140.40,140.40 0 0 1 489.54,269.48L469.96,267.31A120.70,120.70 0 0 0 469.94,240.50Z" fill="#ff9a5c"/><path d="M510.69,235.92A161.70,161.70 0 0 1 510.71,271.83L491.13,269.66A142.00,142.00 0 0 0 491.11,238.12Z" fill="#ffa37e"/><path d="M404.87,247.95A55.20,55.20 0 0 1 405.04,249.84L385.40,251.33A35.50,35.50 0 0 0 385.29,250.11Z" fill="#7046aa"/><path d="M405.06,250.03A55.20,55.20 0 0 1 405.12,251.00L385.45,252.07A35.50,35.50 0 0 0 385.41,251.45Z" fill="#6e44a9"/><path d="M405.19,253.07A55.20,55.20 0 0 1 405.19,255.19L385.49,254.76A35.50,35.50 0 0 0 385.49,253.40Z" fill="#7148ab"/><path d="M405.18,255.41A55.20,55.20 0 0 1 405.12,257.01L385.45,255.93A35.50,35.50 0 0 0 385.49,254.91Z" fill="#744dad"/><path d="M405.09,257.51A55.20,55.20 0 0 1 404.88,259.89L385.30,257.79A35.50,35.50 0 0 0 385.43,256.26Z" fill="#7148ab"/><path d="M426.06,245.84A76.50,76.50 0 0 1 426.19,247.12L406.57,248.89A56.80,56.80 0 0 0 406.48,247.94Z" fill="#1370c4"/><path d="M426.19,247.15A76.50,76.50 0 0 1 426.36,249.45L406.70,250.62A56.80,56.80 0 0 0 406.57,248.91Z" fill="#1471c4"/><path d="M426.37,249.58A76.50,76.50 0 0 1 426.44,251.03L406.76,251.79A56.80,56.80 0 0 0 406.70,250.72Z" fill="#1b7ac8"/><path d="M426.46,251.48A76.50,76.50 0 0 1 426.50,254.17L406.80,254.13A56.80,56.80 0 0 0 406.77,252.13Z" fill="#1876c6"/><path d="M426.46,256.33A76.50,76.50 0 0 1 426.41,257.68L406.73,256.74A56.80,56.80 0 0 0 406.77,255.73Z" fill="#1573c5"/><path d="M426.21,260.70A76.50,76.50 0 0 1 426.03,262.43L406.45,260.26A56.80,56.80 0 0 0 406.58,258.97Z" fill="#1978c7"/><path d="M447.19,243.14A97.80,97.80 0 0 1 447.37,244.87L427.76,246.71A78.10,78.10 0 0 0 427.62,245.33Z" fill="#05955a"/><path d="M447.39,245.10A97.80,97.80 0 0 1 447.54,246.89L427.89,248.33A78.10,78.10 0 0 0 427.78,246.89Z" fill="#018b51"/><path d="M447.58,247.46A97.80,97.80 0 0 1 447.73,250.27L428.04,251.02A78.10,78.10 0 0 0 427.93,248.78Z" fill="#018d52"/><path d="M447.76,251.24A97.80,97.80 0 0 1 447.80,254.03L428.10,254.03A78.10,78.10 0 0 0 428.07,251.80Z" fill="#06975b"/><path d="M447.80,254.32A97.80,97.80 0 0 1 447.79,255.51L428.09,255.21A78.10,78.10 0 0 0 428.10,254.26Z" fill="#049358"/><path d="M447.77,256.51A97.80,97.80 0 0 1 447.71,258.13L428.03,257.30A78.10,78.10 0 0 0 428.07,256.00Z" fill="#028e54"/><path d="M447.70,258.47A97.80,97.80 0 0 1 447.62,259.95L427.96,258.75A78.10,78.10 0 0 0 428.02,257.57Z" fill="#039055"/><path d="M447.56,260.86A97.80,97.80 0 0 1 447.46,262.17L427.83,260.53A78.10,78.10 0 0 0 427.91,259.48Z" fill="#059358"/><path d="M447.44,262.34A97.80,97.80 0 0 1 447.20,264.78L427.62,262.61A78.10,78.10 0 0 0 427.82,260.66Z" fill="#018b51"/><path d="M468.37,240.85A119.10,119.10 0 0 1 468.55,242.58L448.94,244.47A99.40,99.40 0 0 0 448.79,243.02Z" fill="#ffbe02"/><path d="M468.58,242.90A119.10,119.10 0 0 1 468.71,244.33L449.07,245.93A99.40,99.40 0 0 0 448.97,244.74Z" fill="#ffbf06"/><path d="M468.73,244.57A119.10,119.10 0 0 1 468.80,245.60L449.15,246.99A99.40,99.40 0 0 0 449.09,246.13Z" fill="#ffbf06"/><path d="M468.86,246.38A119.10,119.10 0 0 1 468.91,247.25L449.24,248.37A99.40,99.40 0 0 0 449.20,247.64Z" fill="#ffc008"/><path d="M468.93,247.66A119.10,119.10 0 0 1 469.02,249.62L449.33,250.35A99.40,99.40 0 0 0 449.26,248.71Z" fill="#ffbd01"/><path d="M469.03,249.85A119.10,119.10 0 0 1 469.08,251.90L449.38,252.25A99.40,99.40 0 0 0 449.34,250.54Z" fill="#ffc310"/><path d="M469.09,252.49A119.10,119.10 0 0 1 469.10,254.18L449.40,254.15A99.40,99.40 0 0 0 449.39,252.74Z" fill="#ffbd01"/><path d="M469.10,254.28A119.10,119.10 0 0 1 469.09,255.26L449.39,255.05A99.40,99.40 0 0 0 449.40,254.23Z" fill="#ffbd01"/><path d="M469.09,255.27A119.10,119.10 0 0 1 469.07,256.71L449.37,256.26A99.40,99.40 0 0 0 449.39,255.06Z" fill="#ffbf06"/><path d="M469.06,257.11A119.10,119.10 0 0 1 469.01,258.75L449.32,257.97A99.40,99.40 0 0 0 449.37,256.60Z" fill="#ffc412"/><path d="M469.00,258.80A119.10,119.10 0 0 1 468.92,260.64L449.25,259.54A99.40,99.40 0 0 0 449.32,258.01Z" fill="#ffc30f"/><path d="M468.90,260.94A119.10,119.10 0 0 1 468.84,261.82L449.19,260.53A99.40,99.40 0 0 0 449.23,259.79Z" fill="#ffc412"/><path d="M468.81,262.29A119.10,119.10 0 0 1 468.74,263.30L449.10,261.76A99.40,99.40 0 0 0 449.16,260.92Z" fill="#ffc412"/><path d="M468.69,263.87A119.10,119.10 0 0 1 468.50,265.95L448.90,263.97A99.40,99.40 0 0 0 449.06,262.24Z" fill="#ffc20c"/><path d="M468.41,266.76A119.10,119.10 0 0 1 468.37,267.13L448.79,264.96A99.40,99.40 0 0 0 448.83,264.65Z" fill="#ffc310"/><path d="M489.55,238.55A140.40,140.40 0 0 1 489.63,239.30L470.04,241.37A120.70,120.70 0 0 0 469.97,240.72Z" fill="#ff681b"/><path d="M489.63,239.35A140.40,140.40 0 0 1 489.82,241.25L470.20,243.04A120.70,120.70 0 0 0 470.04,241.40Z" fill="#ff6719"/><path d="M489.90,242.17A140.40,140.40 0 0 1 490.03,243.81L470.38,245.24A120.70,120.70 0 0 0 470.27,243.83Z" fill="#ff6213"/><path d="M490.04,243.93A140.40,140.40 0 0 1 490.16,245.82L470.50,246.97A120.70,120.70 0 0 0 470.39,245.35Z" fill="#ff6112"/><path d="M490.20,246.46A140.40,140.40 0 0 1 490.28,248.12L470.59,248.94A120.70,120.70 0 0 0 470.53,247.52Z" fill="#ff6111"/><path d="M490.28,248.21A140.40,140.40 0 0 1 490.35,250.23L470.66,250.76A120.70,120.70 0 0 0 470.60,249.02Z" fill="#ff681a"/><path d="M490.36,250.65A140.40,140.40 0 0 1 490.40,252.83L470.70,253.00A120.70,120.70 0 0 0 470.67,251.12Z" fill="#ff6112"/><path d="M490.39,255.73A140.40,140.40 0 0 1 490.34,257.99L470.65,257.43A120.70,120.70 0 0 0 470.69,255.49Z" fill="#ff681b"/><path d="M490.32,258.76A140.40,140.40 0 0 1 490.26,260.37L470.58,259.48A120.70,120.70 0 0 0 470.63,258.09Z" fill="#ff6415"/><path d="M490.25,260.58A140.40,140.40 0 0 1 490.14,262.54L470.48,261.34A120.70,120.70 0 0 0 470.57,259.66Z" fill="#ff6517"/><path d="M490.13,262.71A140.40,140.40 0 0 1 489.99,264.66L470.35,263.17A120.70,120.70 0 0 0 470.47,261.49Z" fill="#ff6a1c"/><path d="M489.99,264.71A140.40,140.40 0 0 1 489.84,266.57L470.22,264.81A120.70,120.70 0 0 0 470.35,263.21Z" fill="#ff6719"/><path d="M489.79,267.12A140.40,140.40 0 0 1 489.61,268.85L470.02,266.77A120.70,120.70 0 0 0 470.17,265.28Z" fill="#ff691c"/><path d="M510.72,236.21A161.70,161.70 0 0 1 510.81,237.07L491.22,239.14A142.00,142.00 0 0 0 491.14,238.37Z" fill="#ff2826"/><path d="M510.82,237.12A161.70,161.70 0 0 1 511.03,239.32L491.41,241.11A142.00,142.00 0 0 0 491.22,239.18Z" fill="#ff322d"/><path d="M511.12,240.37A161.70,161.70 0 0 1 511.27,242.27L491.63,243.70A142.00,142.00 0 0 0 491.49,242.03Z" fill="#ff2b28"/><path d="M511.28,242.41A161.70,161.70 0 0 1 511.43,244.58L491.76,245.73A142.00,142.00 0 0 0 491.63,243.82Z" fill="#ff2725"/><path d="M511.47,245.32A161.70,161.70 0 0 1 511.56,247.22L491.88,248.05A142.00,142.00 0 0 0 491.80,246.37Z" fill="#ff2e2a"/><path d="M511.65,250.15A161.70,161.70 0 0 1 511.69,252.66L492.00,252.82A142.00,142.00 0 0 0 491.96,250.62Z" fill="#ff2926"/><path d="M511.70,253.39A161.70,161.70 0 0 1 511.69,255.88L491.99,255.65A142.00,142.00 0 0 0 492.00,253.47Z" fill="#ff2a27"/><path d="M511.69,255.99A161.70,161.70 0 0 1 511.63,258.60L491.94,258.04A142.00,142.00 0 0 0 491.99,255.75Z" fill="#ff2d29"/><path d="M511.61,259.48A161.70,161.70 0 0 1 511.53,261.33L491.85,260.44A142.00,142.00 0 0 0 491.92,258.81Z" fill="#ff2d2a"/><path d="M511.52,261.58A161.70,161.70 0 0 1 511.40,263.84L491.74,262.64A142.00,142.00 0 0 0 491.84,260.65Z" fill="#ff352f"/><path d="M511.39,264.03A161.70,161.70 0 0 1 511.23,266.28L491.59,264.79A142.00,142.00 0 0 0 491.73,262.81Z" fill="#ff3630"/><path d="M511.23,266.34A161.70,161.70 0 0 1 511.05,268.48L491.43,266.71A142.00,142.00 0 0 0 491.59,264.83Z" fill="#ff312c"/><path d="M510.99,269.11A161.70,161.70 0 0 1 510.79,271.10L491.20,269.02A142.00,142.00 0 0 0 491.38,267.27Z" fill="#ff2020"/><path d="M515.46,235.38A166.50,166.50 0 0 1 515.48,272.36L512.01,271.97A163.00,163.00 0 0 0 511.98,235.77Z" fill="#ffcc00"/><path d="M404.65,261.81A55.20,55.20 0 0 1 399.14,279.14L381.61,270.17A35.50,35.50 0 0 0 385.14,259.02Z" fill="#b4afd7"/><path d="M425.73,264.82A76.50,76.50 0 0 1 418.11,288.84L400.57,279.87A56.80,56.80 0 0 0 406.23,262.03Z" fill="#5ac3e6"/><path d="M446.82,267.83A97.80,97.80 0 0 1 437.07,298.54L419.53,289.57A78.10,78.10 0 0 0 427.32,265.04Z" fill="#1fca88"/><path d="M467.90,270.84A119.10,119.10 0 0 1 456.03,308.24L438.50,299.27A99.40,99.40 0 0 0 448.40,268.06Z" fill="#ffe86c"/><path d="M488.99,273.86A140.40,140.40 0 0 1 475.00,317.94L457.46,308.97A120.70,120.70 0 0 0 469.49,271.07Z" fill="#ff9a5c"/><path d="M510.07,276.87A161.70,161.70 0 0 1 493.96,327.64L476.42,318.67A142.00,142.00 0 0 0 490.57,274.08Z" fill="#ffa37e"/><path d="M404.63,261.92A55.20,55.20 0 0 1 404.32,263.80L384.94,260.30A35.50,35.50 0 0 0 385.13,259.10Z" fill="#764fae"/><path d="M404.19,264.51A55.20,55.20 0 0 1 403.90,265.90L384.66,261.66A35.50,35.50 0 0 0 384.85,260.76Z" fill="#754ead"/><path d="M403.45,267.81A55.20,55.20 0 0 1 402.79,270.12L383.95,264.36A35.50,35.50 0 0 0 384.37,262.88Z" fill="#6b3fa7"/><path d="M425.71,265.00A76.50,76.50 0 0 1 425.34,267.26L405.94,263.84A56.80,56.80 0 0 0 406.21,262.16Z" fill="#116fc3"/><path d="M425.20,268.03A76.50,76.50 0 0 1 424.84,269.87L405.56,265.78A56.80,56.80 0 0 0 405.84,264.42Z" fill="#1675c6"/><path d="M424.19,272.67A76.50,76.50 0 0 1 423.79,274.18L404.79,268.98A56.80,56.80 0 0 0 405.08,267.86Z" fill="#1573c5"/><path d="M446.78,268.10A97.80,97.80 0 0 1 446.33,270.92L426.92,267.51A78.10,78.10 0 0 0 427.28,265.26Z" fill="#059459"/><path d="M446.22,271.51A97.80,97.80 0 0 1 445.80,273.66L426.51,269.70A78.10,78.10 0 0 0 426.84,267.98Z" fill="#039156"/><path d="M445.80,273.68A97.80,97.80 0 0 1 445.29,276.03L426.09,271.60A78.10,78.10 0 0 0 426.50,269.71Z" fill="#049257"/><path d="M444.99,277.26A97.80,97.80 0 0 1 444.40,279.55L425.39,274.40A78.10,78.10 0 0 0 425.86,272.57Z" fill="#008b51"/><path d="M444.38,279.64A97.80,97.80 0 0 1 443.99,281.04L425.06,275.59A78.10,78.10 0 0 0 425.37,274.48Z" fill="#028d53"/><path d="M443.94,281.21A97.80,97.80 0 0 1 443.63,282.24L424.77,276.55A78.10,78.10 0 0 0 425.02,275.73Z" fill="#018c51"/><path d="M467.86,271.15A119.10,119.10 0 0 1 467.63,272.64L448.18,269.56A99.40,99.40 0 0 0 448.36,268.32Z" fill="#ffbd01"/><path d="M467.48,273.55A119.10,119.10 0 0 1 467.28,274.72L447.88,271.30A99.40,99.40 0 0 0 448.05,270.32Z" fill="#ffbe02"/><path d="M467.26,274.87A119.10,119.10 0 0 1 466.90,276.78L447.56,273.01A99.40,99.40 0 0 0 447.86,271.42Z" fill="#ffbe02"/><path d="M466.90,276.79A119.10,119.10 0 0 1 466.64,278.09L447.34,274.11A99.40,99.40 0 0 0 447.56,273.02Z" fill="#ffc310"/><path d="M466.63,278.15A119.10,119.10 0 0 1 466.45,278.98L447.19,274.85A99.40,99.40 0 0 0 447.33,274.16Z" fill="#ffc20c"/><path d="M466.37,279.38A119.10,119.10 0 0 1 466.19,280.19L446.97,275.85A99.40,99.40 0 0 0 447.12,275.18Z" fill="#ffbf04"/><path d="M465.43,283.34A119.10,119.10 0 0 1 464.86,285.50L445.86,280.29A99.40,99.40 0 0 0 446.34,278.49Z" fill="#ffc412"/><path d="M464.35,287.30A119.10,119.10 0 0 1 463.76,289.25L444.95,283.42A99.40,99.40 0 0 0 445.43,281.79Z" fill="#ffc412"/><path d="M488.97,274.00A140.40,140.40 0 0 1 488.80,275.15L469.32,272.18A120.70,120.70 0 0 0 469.47,271.19Z" fill="#ff6416"/><path d="M488.61,276.38A140.40,140.40 0 0 1 488.22,278.65L468.82,275.19A120.70,120.70 0 0 0 469.16,273.24Z" fill="#ff6517"/><path d="M487.97,279.98A140.40,140.40 0 0 1 487.66,281.59L468.35,277.72A120.70,120.70 0 0 0 468.62,276.34Z" fill="#ff6516"/><path d="M487.64,281.72A140.40,140.40 0 0 1 487.49,282.45L468.20,278.46A120.70,120.70 0 0 0 468.32,277.83Z" fill="#ff6111"/><path d="M487.47,282.52A140.40,140.40 0 0 1 487.02,284.60L467.80,280.31A120.70,120.70 0 0 0 468.18,278.52Z" fill="#ff6415"/><path d="M486.07,288.61A140.40,140.40 0 0 1 485.60,290.39L466.57,285.29A120.70,120.70 0 0 0 466.98,283.75Z" fill="#ff6314"/><path d="M485.47,290.87A140.40,140.40 0 0 1 485.03,292.47L466.08,287.07A120.70,120.70 0 0 0 466.46,285.70Z" fill="#ff691b"/><path d="M484.82,293.20A140.40,140.40 0 0 1 484.58,294.01L465.70,288.39A120.70,120.70 0 0 0 465.90,287.70Z" fill="#ff691c"/><path d="M484.21,295.23A140.40,140.40 0 0 1 484.10,295.59L465.28,289.75A120.70,120.70 0 0 0 465.38,289.44Z" fill="#ff6618"/><path d="M510.05,277.03A161.70,161.70 0 0 1 509.85,278.36L490.38,275.39A142.00,142.00 0 0 0 490.55,274.23Z" fill="#ff312c"/><path d="M509.63,279.77A161.70,161.70 0 0 1 509.19,282.39L489.79,278.93A142.00,142.00 0 0 0 490.18,276.63Z" fill="#ff2b28"/><path d="M508.91,283.93A161.70,161.70 0 0 1 508.55,285.78L489.23,281.91A142.00,142.00 0 0 0 489.55,280.28Z" fill="#ff2322"/><path d="M508.52,285.93A161.70,161.70 0 0 1 508.35,286.76L489.05,282.77A142.00,142.00 0 0 0 489.20,282.04Z" fill="#ff2222"/><path d="M508.33,286.85A161.70,161.70 0 0 1 507.81,289.24L488.59,284.95A142.00,142.00 0 0 0 489.04,282.85Z" fill="#ff2524"/><path d="M506.71,293.86A161.70,161.70 0 0 1 506.17,295.91L487.15,290.81A142.00,142.00 0 0 0 487.62,289.00Z" fill="#ff3630"/><path d="M506.02,296.46A161.70,161.70 0 0 1 505.51,298.30L486.57,292.91A142.00,142.00 0 0 0 487.02,291.29Z" fill="#ff352f"/><path d="M505.27,299.15A161.70,161.70 0 0 1 505.00,300.07L486.11,294.46A142.00,142.00 0 0 0 486.35,293.65Z" fill="#ff362f"/><path d="M504.57,301.48A161.70,161.70 0 0 1 504.44,301.90L485.63,296.06A142.00,142.00 0 0 0 485.74,295.70Z" fill="#ff2c29"/><path d="M514.83,277.55A166.50,166.50 0 0 1 498.23,329.82L495.12,328.23A163.00,163.00 0 0 0 511.36,277.05Z" fill="#ffff00"/><path d="M398.45,280.46A55.20,55.20 0 0 1 395.83,284.76L379.48,273.78A35.50,35.50 0 0 0 381.16,271.02Z" fill="#b4afd7"/><path d="M417.14,290.67A76.50,76.50 0 0 1 413.52,296.63L397.16,285.66A56.80,56.80 0 0 0 399.85,281.22Z" fill="#5ac3e6"/><path d="M435.83,300.88A97.80,97.80 0 0 1 431.20,308.50L414.85,297.53A78.10,78.10 0 0 0 418.54,291.43Z" fill="#1fca88"/><path d="M454.53,311.09A119.10,119.10 0 0 1 448.89,320.38L432.53,309.40A99.40,99.40 0 0 0 437.24,301.64Z" fill="#ffe86c"/><path d="M473.22,321.29A140.40,140.40 0 0 1 466.57,332.25L450.22,321.27A120.70,120.70 0 0 0 455.93,311.85Z" fill="#ff9a5c"/><path d="M491.92,331.50A161.70,161.70 0 0 1 484.26,344.12L467.90,333.14A142.00,142.00 0 0 0 474.63,322.06Z" fill="#ffa37e"/><path d="M398.38,280.58A55.20,55.20 0 0 1 397.71,281.77L380.68,271.86A35.50,35.50 0 0 0 381.11,271.10Z" fill="#6c40a7"/><path d="M397.68,281.81A55.20,55.20 0 0 1 397.24,282.56L380.38,272.37A35.50,35.50 0 0 0 380.67,271.89Z" fill="#744cac"/><path d="M417.00,290.91A76.50,76.50 0 0 1 416.16,292.40L399.12,282.51A56.80,56.80 0 0 0 399.75,281.41Z" fill="#116fc3"/><path d="M414.08,295.79A76.50,76.50 0 0 1 413.52,296.63L397.16,285.66A56.80,56.80 0 0 0 397.58,285.03Z" fill="#1876c6"/><path d="M435.80,300.94A97.80,97.80 0 0 1 434.52,303.20L417.50,293.29A78.10,78.10 0 0 0 418.52,291.49Z" fill="#06975b"/><path d="M434.28,303.62A97.80,97.80 0 0 1 433.34,305.17L416.56,294.86A78.10,78.10 0 0 0 417.30,293.63Z" fill="#06965a"/><path d="M433.14,305.50A97.80,97.80 0 0 1 431.80,307.61L415.32,296.81A78.10,78.10 0 0 0 416.39,295.13Z" fill="#049358"/><path d="M431.61,307.89A97.80,97.80 0 0 1 431.20,308.50L414.85,297.53A78.10,78.10 0 0 0 415.17,297.03Z" fill="#059459"/><path d="M454.35,311.40A119.10,119.10 0 0 1 453.43,313.05L436.32,303.29A99.40,99.40 0 0 0 437.09,301.91Z" fill="#ffbe04"/><path d="M473.07,321.57A140.40,140.40 0 0 1 472.21,323.11L455.06,313.41A120.70,120.70 0 0 0 455.80,312.09Z" fill="#ff671a"/><path d="M471.40,324.53A140.40,140.40 0 0 1 470.62,325.86L453.69,315.77A120.70,120.70 0 0 0 454.37,314.63Z" fill="#ff6618"/><path d="M467.58,330.72A140.40,140.40 0 0 1 466.57,332.25L450.22,321.27A120.70,120.70 0 0 0 451.09,319.96Z" fill="#ff6618"/><path d="M491.74,331.82A161.70,161.70 0 0 1 490.75,333.60L473.60,323.90A142.00,142.00 0 0 0 474.47,322.34Z" fill="#ff3730"/><path d="M489.82,335.23A161.70,161.70 0 0 1 488.92,336.76L471.99,326.68A142.00,142.00 0 0 0 472.78,325.33Z" fill="#ff332e"/><path d="M485.42,342.36A161.70,161.70 0 0 1 484.26,344.12L467.90,333.14A142.00,142.00 0 0 0 468.92,331.60Z" fill="#ff2a27"/><path d="M496.13,333.80A166.50,166.50 0 0 1 488.25,346.79L485.34,344.84A163.00,163.00 0 0 0 493.06,332.13Z" fill="#b0ff30"/><path d="M395.21,285.67A55.20,55.20 0 0 1 388.71,293.35L374.90,279.31A35.50,35.50 0 0 0 379.08,274.37Z" fill="#b4afd7"/><path d="M412.66,297.89A76.50,76.50 0 0 1 403.65,308.54L389.83,294.49A56.80,56.80 0 0 0 396.52,286.59Z" fill="#5ac3e6"/><path d="M430.10,310.11A97.80,97.80 0 0 1 418.59,323.72L404.77,309.68A78.10,78.10 0 0 0 413.97,298.81Z" fill="#1fca88"/><path d="M447.55,322.33A119.10,119.10 0 0 1 433.52,338.90L419.71,324.86A99.40,99.40 0 0 0 431.41,311.03Z" fill="#ffe86c"/><path d="M464.99,334.55A140.40,140.40 0 0 1 448.46,354.09L434.64,340.05A120.70,120.70 0 0 0 448.86,323.25Z" fill="#ff9a5c"/><path d="M482.44,346.77A161.70,161.70 0 0 1 463.40,369.27L449.58,355.23A142.00,142.00 0 0 0 466.31,335.47Z" fill="#ffa37e"/><path d="M395.10,285.83A55.20,55.20 0 0 1 394.30,286.94L378.49,275.18A35.50,35.50 0 0 0 379.01,274.47Z" fill="#734bac"/><path d="M394.29,286.95A55.20,55.20 0 0 1 393.41,288.10L377.92,275.93A35.50,35.50 0 0 0 378.48,275.19Z" fill="#7148ab"/><path d="M393.36,288.16A55.20,55.20 0 0 1 392.08,289.72L377.07,276.97A35.50,35.50 0 0 0 377.89,275.97Z" fill="#6d41a8"/><path d="M391.94,289.89A55.20,55.20 0 0 1 390.51,291.49L376.06,278.11A35.50,35.50 0 0 0 376.97,277.08Z" fill="#7751af"/><path d="M412.43,298.21A76.50,76.50 0 0 1 411.31,299.75L395.52,287.97A56.80,56.80 0 0 0 396.35,286.83Z" fill="#1675c6"/><path d="M410.91,300.29A76.50,76.50 0 0 1 409.08,302.60L393.87,290.08A56.80,56.80 0 0 0 395.22,288.37Z" fill="#0f6dc2"/><path d="M408.75,303.00A76.50,76.50 0 0 1 407.17,304.83L392.45,291.74A56.80,56.80 0 0 0 393.62,290.38Z" fill="#1a79c7"/><path d="M407.14,304.87A76.50,76.50 0 0 1 405.66,306.48L391.33,292.96A56.80,56.80 0 0 0 392.42,291.77Z" fill="#1371c4"/><path d="M430.07,310.16A97.80,97.80 0 0 1 429.07,311.56L413.14,299.97A78.10,78.10 0 0 0 413.94,298.85Z" fill="#028d53"/><path d="M428.67,312.10A97.80,97.80 0 0 1 427.52,313.63L411.90,301.62A78.10,78.10 0 0 0 412.83,300.39Z" fill="#008a50"/><path d="M427.42,313.76A97.80,97.80 0 0 1 426.23,315.26L410.88,302.92A78.10,78.10 0 0 0 411.82,301.72Z" fill="#018d52"/><path d="M425.98,315.57A97.80,97.80 0 0 1 424.96,316.82L409.86,304.17A78.10,78.10 0 0 0 410.68,303.17Z" fill="#049358"/><path d="M424.58,317.26A97.80,97.80 0 0 1 423.71,318.28L408.86,305.33A78.10,78.10 0 0 0 409.56,304.52Z" fill="#059559"/><path d="M422.92,319.18A97.80,97.80 0 0 1 422.09,320.09L407.57,306.78A78.10,78.10 0 0 0 408.23,306.05Z" fill="#049357"/><path d="M422.05,320.13A97.80,97.80 0 0 1 421.37,320.87L406.99,307.40A78.10,78.10 0 0 0 407.54,306.81Z" fill="#049257"/><path d="M447.31,322.67A119.10,119.10 0 0 1 446.75,323.46L430.74,311.97A99.40,99.40 0 0 0 431.21,311.31Z" fill="#ffbd01"/><path d="M446.66,323.58A119.10,119.10 0 0 1 445.70,324.89L429.87,313.17A99.40,99.40 0 0 0 430.67,312.07Z" fill="#ffbf06"/><path d="M445.55,325.10A119.10,119.10 0 0 1 444.69,326.23L429.03,314.29A99.40,99.40 0 0 0 429.75,313.34Z" fill="#ffbf04"/><path d="M444.26,326.81A119.10,119.10 0 0 1 443.62,327.63L428.13,315.45A99.40,99.40 0 0 0 428.67,314.76Z" fill="#ffc513"/><path d="M443.50,327.77A119.10,119.10 0 0 1 442.16,329.44L426.92,316.96A99.40,99.40 0 0 0 428.04,315.57Z" fill="#ffc20c"/><path d="M441.32,330.45A119.10,119.10 0 0 1 440.38,331.57L425.43,318.74A99.40,99.40 0 0 0 426.22,317.81Z" fill="#ffbf04"/><path d="M439.96,332.05A119.10,119.10 0 0 1 439.21,332.90L424.46,319.85A99.40,99.40 0 0 0 425.08,319.14Z" fill="#ffc109"/><path d="M438.42,333.79A119.10,119.10 0 0 1 437.55,334.74L423.07,321.39A99.40,99.40 0 0 0 423.80,320.59Z" fill="#ffc413"/><path d="M436.99,335.35A119.10,119.10 0 0 1 435.82,336.59L421.62,322.93A99.40,99.40 0 0 0 422.60,321.89Z" fill="#ffbd00"/><path d="M464.63,335.07A140.40,140.40 0 0 1 463.75,336.30L447.79,324.75A120.70,120.70 0 0 0 448.54,323.70Z" fill="#ff6618"/><path d="M463.67,336.40A140.40,140.40 0 0 1 463.14,337.14L447.26,325.47A120.70,120.70 0 0 0 447.72,324.84Z" fill="#ff681a"/><path d="M462.83,337.55A140.40,140.40 0 0 1 462.01,338.65L446.29,326.77A120.70,120.70 0 0 0 447.00,325.83Z" fill="#ff681a"/><path d="M461.94,338.74A140.40,140.40 0 0 1 461.20,339.71L445.60,327.69A120.70,120.70 0 0 0 446.23,326.85Z" fill="#ff6415"/><path d="M461.05,339.91A140.40,140.40 0 0 1 459.81,341.48L444.40,329.21A120.70,120.70 0 0 0 445.47,327.85Z" fill="#ff6213"/><path d="M459.20,342.24A140.40,140.40 0 0 1 457.89,343.85L442.75,331.24A120.70,120.70 0 0 0 443.88,329.86Z" fill="#ff691c"/><path d="M455.39,346.76A140.40,140.40 0 0 1 454.69,347.55L440.00,334.43A120.70,120.70 0 0 0 440.61,333.74Z" fill="#ff6415"/><path d="M453.93,348.39A140.40,140.40 0 0 1 452.72,349.72L438.30,336.29A120.70,120.70 0 0 0 439.35,335.15Z" fill="#ff6719"/><path d="M452.55,349.90A140.40,140.40 0 0 1 451.16,351.36L436.97,337.70A120.70,120.70 0 0 0 438.16,336.44Z" fill="#ff681b"/><path d="M482.02,347.37A161.70,161.70 0 0 1 481.01,348.79L465.05,337.24A142.00,142.00 0 0 0 465.93,335.99Z" fill="#ff322d"/><path d="M479.95,350.23A161.70,161.70 0 0 1 479.00,351.49L463.29,339.61A142.00,142.00 0 0 0 464.12,338.50Z" fill="#ff2b28"/><path d="M478.92,351.60A161.70,161.70 0 0 1 478.07,352.72L462.47,340.69A142.00,142.00 0 0 0 463.22,339.71Z" fill="#ff3630"/><path d="M477.90,352.94A161.70,161.70 0 0 1 476.47,354.76L461.06,342.48A142.00,142.00 0 0 0 462.32,340.89Z" fill="#ff2c29"/><path d="M475.77,355.63A161.70,161.70 0 0 1 474.26,357.48L459.12,344.87A142.00,142.00 0 0 0 460.45,343.25Z" fill="#ff2423"/><path d="M472.95,359.02A161.70,161.70 0 0 1 471.70,360.47L456.87,347.50A142.00,142.00 0 0 0 457.97,346.23Z" fill="#ff3731"/><path d="M471.38,360.83A161.70,161.70 0 0 1 470.57,361.74L455.88,348.62A142.00,142.00 0 0 0 456.59,347.82Z" fill="#ff2e2a"/><path d="M469.70,362.71A161.70,161.70 0 0 1 468.30,364.24L453.89,350.81A142.00,142.00 0 0 0 455.12,349.47Z" fill="#ff312d"/><path d="M468.11,364.44A161.70,161.70 0 0 1 466.51,366.13L452.32,352.46A142.00,142.00 0 0 0 453.72,350.99Z" fill="#ff3731"/><path d="M486.37,349.52A166.50,166.50 0 0 1 466.76,372.70L464.31,370.20A163.00,163.00 0 0 0 483.51,347.52Z" fill="#33ff33"/><path d="M387.59,294.42A55.20,55.20 0 0 1 382.82,298.38L371.11,282.54A35.50,35.50 0 0 0 374.17,280.00Z" fill="#b4afd7"/><path d="M402.09,310.02A76.50,76.50 0 0 1 395.48,315.51L383.77,299.67A56.80,56.80 0 0 0 388.68,295.59Z" fill="#5ac3e6"/><path d="M416.60,325.62A97.80,97.80 0 0 1 408.15,332.64L396.43,316.80A78.10,78.10 0 0 0 403.18,311.19Z" fill="#1fca88"/><path d="M431.10,341.22A119.10,119.10 0 0 1 420.81,349.76L409.10,333.92A99.40,99.40 0 0 0 417.69,326.79Z" fill="#ffe86c"/><path d="M445.61,356.82A140.40,140.40 0 0 1 433.47,366.89L421.76,351.05A120.70,120.70 0 0 0 432.19,342.39Z" fill="#ff9a5c"/><path d="M460.11,372.41A161.70,161.70 0 0 1 446.14,384.02L434.42,368.18A142.00,142.00 0 0 0 446.70,357.99Z" fill="#ffa37e"/><path d="M387.48,294.53A55.20,55.20 0 0 1 386.67,295.26L373.58,280.54A35.50,35.50 0 0 0 374.10,280.06Z" fill="#6e44a9"/><path d="M386.07,295.78A55.20,55.20 0 0 1 384.87,296.79L372.42,281.52A35.50,35.50 0 0 0 373.20,280.87Z" fill="#764fae"/><path d="M384.10,297.41A55.20,55.20 0 0 1 382.82,298.38L371.11,282.54A35.50,35.50 0 0 0 371.93,281.92Z" fill="#7249ab"/><path d="M402.04,310.07A76.50,76.50 0 0 1 400.61,311.36L387.58,296.59A56.80,56.80 0 0 0 388.64,295.63Z" fill="#1977c7"/><path d="M399.45,312.37A76.50,76.50 0 0 1 398.10,313.49L385.71,298.17A56.80,56.80 0 0 0 386.71,297.34Z" fill="#1c7bc8"/><path d="M396.30,314.90A76.50,76.50 0 0 1 395.48,315.51L383.77,299.67A56.80,56.80 0 0 0 384.38,299.22Z" fill="#1776c6"/><path d="M416.37,325.84A97.80,97.80 0 0 1 414.57,327.45L401.57,312.66A78.10,78.10 0 0 0 403.00,311.37Z" fill="#028f54"/><path d="M413.64,328.27A97.80,97.80 0 0 1 412.24,329.44L399.70,314.24A78.10,78.10 0 0 0 400.82,313.31Z" fill="#018c51"/><path d="M411.82,329.78A97.80,97.80 0 0 1 410.00,331.24L397.91,315.68A78.10,78.10 0 0 0 399.37,314.52Z" fill="#059459"/><path d="M409.67,331.49A97.80,97.80 0 0 1 408.15,332.64L396.43,316.80A78.10,78.10 0 0 0 397.65,315.88Z" fill="#008b51"/><path d="M431.10,341.23A119.10,119.10 0 0 1 429.95,342.28L416.73,327.68A99.40,99.40 0 0 0 417.68,326.80Z" fill="#ffc20e"/><path d="M429.80,342.42A119.10,119.10 0 0 1 428.92,343.20L415.86,328.45A99.40,99.40 0 0 0 416.60,327.79Z" fill="#ffc30f"/><path d="M427.62,344.33A119.10,119.10 0 0 1 425.90,345.78L413.34,330.60A99.40,99.40 0 0 0 414.78,329.39Z" fill="#ffbd01"/><path d="M424.67,346.78A119.10,119.10 0 0 1 423.18,347.96L411.08,332.42A99.40,99.40 0 0 0 412.32,331.44Z" fill="#ffc20c"/><path d="M422.53,348.47A119.10,119.10 0 0 1 421.12,349.54L409.35,333.73A99.40,99.40 0 0 0 410.53,332.85Z" fill="#ffbe03"/><path d="M445.27,357.13A140.40,140.40 0 0 1 444.13,358.17L430.92,343.56A120.70,120.70 0 0 0 431.90,342.66Z" fill="#ff691c"/><path d="M443.81,358.46A140.40,140.40 0 0 1 443.19,359.02L430.11,344.28A120.70,120.70 0 0 0 430.65,343.80Z" fill="#ff6111"/><path d="M440.52,361.32A140.40,140.40 0 0 1 439.24,362.39L426.72,347.18A120.70,120.70 0 0 0 427.82,346.26Z" fill="#ff6111"/><path d="M438.35,363.12A140.40,140.40 0 0 1 437.72,363.62L425.41,348.24A120.70,120.70 0 0 0 425.95,347.81Z" fill="#ff6617"/><path d="M436.59,364.52A140.40,140.40 0 0 1 435.03,365.72L423.10,350.04A120.70,120.70 0 0 0 424.44,349.01Z" fill="#ff681b"/><path d="M459.72,372.78A161.70,161.70 0 0 1 458.41,373.98L445.20,359.36A142.00,142.00 0 0 0 446.35,358.31Z" fill="#ff322d"/><path d="M458.04,374.31A161.70,161.70 0 0 1 457.32,374.95L444.25,360.21A142.00,142.00 0 0 0 444.88,359.65Z" fill="#ff2725"/><path d="M457.18,375.08A161.70,161.70 0 0 1 455.48,376.56L442.63,361.63A142.00,142.00 0 0 0 444.12,360.33Z" fill="#ff332e"/><path d="M454.26,377.60A161.70,161.70 0 0 1 452.78,378.83L440.26,363.62A142.00,142.00 0 0 0 441.56,362.54Z" fill="#ff2e2a"/><path d="M451.75,379.67A161.70,161.70 0 0 1 451.03,380.25L438.72,364.87A142.00,142.00 0 0 0 439.35,364.36Z" fill="#ff3630"/><path d="M449.73,381.29A161.70,161.70 0 0 1 447.94,382.67L436.00,366.99A142.00,142.00 0 0 0 437.58,365.78Z" fill="#ff332e"/><path d="M447.90,382.69A161.70,161.70 0 0 1 446.46,383.78L434.71,367.97A142.00,142.00 0 0 0 435.97,367.02Z" fill="#ff2c29"/><path d="M463.38,375.93A166.50,166.50 0 0 1 448.99,387.88L446.91,385.06A163.00,163.00 0 0 0 461.00,373.37Z" fill="#008000"/><path d="M381.74,299.16A55.20,55.20 0 0 1 378.31,301.39L368.20,284.48A35.50,35.50 0 0 0 370.41,283.04Z" fill="#b4afd7"/><path d="M393.99,316.59A76.50,76.50 0 0 1 389.23,319.68L379.13,302.76A56.80,56.80 0 0 0 382.66,300.47Z" fill="#5ac3e6"/><path d="M406.24,334.02A97.80,97.80 0 0 1 400.15,337.96L390.05,321.05A78.10,78.10 0 0 0 394.91,317.90Z" fill="#1fca88"/><path d="M418.48,351.44A119.10,119.10 0 0 1 411.07,356.25L400.97,339.34A99.40,99.40 0 0 0 407.16,335.32Z" fill="#ffe86c"/><path d="M430.73,368.87A140.40,140.40 0 0 1 422.00,374.54L411.89,357.62A120.70,120.70 0 0 0 419.40,352.75Z" fill="#ff9a5c"/><path d="M442.98,386.29A161.70,161.70 0 0 1 432.92,392.82L422.82,375.91A142.00,142.00 0 0 0 431.65,370.18Z" fill="#ffa37e"/><path d="M381.63,299.24A55.20,55.20 0 0 1 379.67,300.55L369.08,283.94A35.50,35.50 0 0 0 370.34,283.10Z" fill="#754ead"/><path d="M393.93,316.63A76.50,76.50 0 0 1 392.40,317.68L381.48,301.28A56.80,56.80 0 0 0 382.62,300.50Z" fill="#1d7dc9"/><path d="M391.09,318.53A76.50,76.50 0 0 1 390.24,319.06L379.88,302.31A56.80,56.80 0 0 0 380.51,301.91Z" fill="#1a78c7"/><path d="M389.75,319.36A76.50,76.50 0 0 1 389.23,319.68L379.13,302.76A56.80,56.80 0 0 0 379.51,302.53Z" fill="#1573c5"/><path d="M406.18,334.05A97.80,97.80 0 0 1 405.31,334.66L394.17,318.41A78.10,78.10 0 0 0 394.86,317.93Z" fill="#039055"/><path d="M404.79,335.01A97.80,97.80 0 0 1 403.26,336.02L392.53,319.50A78.10,78.10 0 0 0 393.76,318.69Z" fill="#06975b"/><path d="M402.95,336.23A97.80,97.80 0 0 1 400.71,337.62L390.50,320.78A78.10,78.10 0 0 0 392.28,319.67Z" fill="#008a50"/><path d="M418.13,351.69A119.10,119.10 0 0 1 416.45,352.84L405.46,336.49A99.40,99.40 0 0 0 406.86,335.53Z" fill="#ffc20e"/><path d="M416.04,353.11A119.10,119.10 0 0 1 414.24,354.29L403.61,337.70A99.40,99.40 0 0 0 405.12,336.72Z" fill="#ffbd00"/><path d="M413.82,354.56A119.10,119.10 0 0 1 412.03,355.67L401.77,338.85A99.40,99.40 0 0 0 403.27,337.92Z" fill="#ffc20c"/><path d="M411.31,356.11A119.10,119.10 0 0 1 411.07,356.25L400.97,339.34A99.40,99.40 0 0 0 401.17,339.22Z" fill="#ffc411"/><path d="M430.46,369.06A140.40,140.40 0 0 1 429.49,369.73L418.34,353.49A120.70,120.70 0 0 0 419.17,352.91Z" fill="#ff6719"/><path d="M427.85,370.84A140.40,140.40 0 0 1 426.44,371.76L415.72,355.24A120.70,120.70 0 0 0 416.92,354.45Z" fill="#ff6112"/><path d="M424.31,373.12A140.40,140.40 0 0 1 423.59,373.57L413.26,356.79A120.70,120.70 0 0 0 413.88,356.41Z" fill="#ff6212"/><path d="M423.57,373.58A140.40,140.40 0 0 1 422.39,374.30L412.23,357.42A120.70,120.70 0 0 0 413.24,356.80Z" fill="#ff671a"/><path d="M422.38,374.31A140.40,140.40 0 0 1 422.00,374.54L411.89,357.62A120.70,120.70 0 0 0 412.22,357.43Z" fill="#ff6517"/><path d="M442.67,386.51A161.70,161.70 0 0 1 441.55,387.29L430.40,371.05A142.00,142.00 0 0 0 431.38,370.37Z" fill="#ff3630"/><path d="M439.66,388.57A161.70,161.70 0 0 1 438.04,389.63L427.31,373.11A142.00,142.00 0 0 0 428.73,372.17Z" fill="#ff2221"/><path d="M435.58,391.20A161.70,161.70 0 0 1 434.75,391.71L424.43,374.93A142.00,142.00 0 0 0 425.15,374.48Z" fill="#ff2725"/><path d="M434.73,391.72A161.70,161.70 0 0 1 433.37,392.55L423.21,375.67A142.00,142.00 0 0 0 424.41,374.95Z" fill="#ff2322"/><path d="M433.36,392.56A161.70,161.70 0 0 1 432.92,392.82L422.82,375.91A142.00,142.00 0 0 0 423.20,375.68Z" fill="#ff332d"/><path d="M445.74,390.22A166.50,166.50 0 0 1 435.38,396.94L433.59,393.94A163.00,163.00 0 0 0 443.73,387.36Z" fill="#0000cc"/><path d="M376.94,302.18A55.20,55.20 0 0 1 359.21,308.43L355.92,289.00A35.50,35.50 0 0 0 367.32,284.99Z" fill="#b4afd7"/><path d="M387.33,320.77A76.50,76.50 0 0 1 362.76,329.43L359.47,310.00A56.80,56.80 0 0 0 377.72,303.58Z" fill="#5ac3e6"/><path d="M397.73,339.36A97.80,97.80 0 0 1 366.31,350.43L363.02,331.01A78.10,78.10 0 0 0 388.11,322.17Z" fill="#1fca88"/><path d="M408.12,357.95A119.10,119.10 0 0 1 369.86,371.43L366.58,352.01A99.40,99.40 0 0 0 398.51,340.76Z" fill="#ffe86c"/><path d="M418.52,376.55A140.40,140.40 0 0 1 373.41,392.43L370.13,373.01A120.70,120.70 0 0 0 408.90,359.35Z" fill="#ff9a5c"/><path d="M428.91,395.14A161.70,161.70 0 0 1 376.97,413.44L373.68,394.01A142.00,142.00 0 0 0 419.30,377.94Z" fill="#ffa37e"/><path d="M376.80,302.25A55.20,55.20 0 0 1 375.84,302.78L366.62,285.37A35.50,35.50 0 0 0 367.24,285.03Z" fill="#6e44a9"/><path d="M375.42,303.00A55.20,55.20 0 0 1 374.02,303.70L365.45,285.96A35.50,35.50 0 0 0 366.35,285.51Z" fill="#764fae"/><path d="M373.49,303.95A55.20,55.20 0 0 1 371.17,304.98L363.61,286.79A35.50,35.50 0 0 0 365.10,286.13Z" fill="#7249ab"/><path d="M387.27,320.81A76.50,76.50 0 0 1 385.58,321.72L376.41,304.28A56.80,56.80 0 0 0 377.67,303.60Z" fill="#1c7bc8"/><path d="M384.75,322.15A76.50,76.50 0 0 1 383.19,322.93L374.64,305.18A56.80,56.80 0 0 0 375.80,304.60Z" fill="#1776c6"/><path d="M381.95,323.51A76.50,76.50 0 0 1 379.86,324.43L372.17,306.29A56.80,56.80 0 0 0 373.72,305.61Z" fill="#126fc3"/><path d="M379.60,324.54A76.50,76.50 0 0 1 378.84,324.85L371.42,306.61A56.80,56.80 0 0 0 371.98,306.38Z" fill="#1371c4"/><path d="M397.45,339.52A97.80,97.80 0 0 1 395.33,340.66L386.20,323.21A78.10,78.10 0 0 0 387.89,322.29Z" fill="#018c51"/><path d="M394.66,341.01A97.80,97.80 0 0 1 393.04,341.82L384.37,324.13A78.10,78.10 0 0 0 385.67,323.48Z" fill="#059459"/><path d="M392.74,341.96A97.80,97.80 0 0 1 390.63,342.96L382.45,325.04A78.10,78.10 0 0 0 384.13,324.25Z" fill="#008b51"/><path d="M390.40,343.06A97.80,97.80 0 0 1 387.92,344.15L380.28,325.99A78.10,78.10 0 0 0 382.27,325.12Z" fill="#049257"/><path d="M387.37,344.38A97.80,97.80 0 0 1 386.87,344.58L379.45,326.34A78.10,78.10 0 0 0 379.85,326.17Z" fill="#039055"/><path d="M408.11,357.96A119.10,119.10 0 0 1 406.75,358.71L397.36,341.39A99.40,99.40 0 0 0 398.50,340.76Z" fill="#ffbd01"/><path d="M406.64,358.77A119.10,119.10 0 0 1 405.60,359.32L396.41,341.90A99.40,99.40 0 0 0 397.27,341.44Z" fill="#ffc20c"/><path d="M404.69,359.80A119.10,119.10 0 0 1 402.68,360.82L393.96,343.15A99.40,99.40 0 0 0 395.64,342.30Z" fill="#ffbe03"/><path d="M401.83,361.23A119.10,119.10 0 0 1 400.11,362.05L391.82,344.17A99.40,99.40 0 0 0 393.25,343.50Z" fill="#ffc007"/><path d="M399.65,362.26A119.10,119.10 0 0 1 398.04,362.98L390.10,344.95A99.40,99.40 0 0 0 391.44,344.35Z" fill="#ffc007"/><path d="M397.52,363.21A119.10,119.10 0 0 1 396.38,363.70L388.70,345.55A99.40,99.40 0 0 0 389.66,345.15Z" fill="#ffbf05"/><path d="M396.23,363.76A119.10,119.10 0 0 1 394.91,364.31L387.48,346.06A99.40,99.40 0 0 0 388.58,345.61Z" fill="#ffc10b"/><path d="M418.11,376.77A140.40,140.40 0 0 1 416.75,377.52L407.39,360.18A120.70,120.70 0 0 0 408.55,359.55Z" fill="#ff691c"/><path d="M416.53,377.64A140.40,140.40 0 0 1 415.79,378.03L406.56,360.63A120.70,120.70 0 0 0 407.19,360.29Z" fill="#ff6111"/><path d="M413.22,379.36A140.40,140.40 0 0 1 411.73,380.10L403.07,362.41A120.70,120.70 0 0 0 404.35,361.77Z" fill="#ff6111"/><path d="M411.11,380.41A140.40,140.40 0 0 1 410.38,380.75L401.91,362.97A120.70,120.70 0 0 0 402.53,362.67Z" fill="#ff6617"/><path d="M409.60,381.12A140.40,140.40 0 0 1 407.81,381.94L399.70,363.99A120.70,120.70 0 0 0 401.24,363.29Z" fill="#ff681b"/><path d="M405.97,382.76A140.40,140.40 0 0 1 404.22,383.51L396.61,365.34A120.70,120.70 0 0 0 398.12,364.69Z" fill="#ff6719"/><path d="M404.09,383.56A140.40,140.40 0 0 1 402.94,384.04L395.51,365.79A120.70,120.70 0 0 0 396.50,365.38Z" fill="#ff6618"/><path d="M428.44,395.40A161.70,161.70 0 0 1 426.88,396.25L417.52,378.92A142.00,142.00 0 0 0 418.88,378.17Z" fill="#ff322d"/><path d="M426.62,396.39A161.70,161.70 0 0 1 425.77,396.85L416.54,379.44A142.00,142.00 0 0 0 417.29,379.05Z" fill="#ff2725"/><path d="M425.67,396.90A161.70,161.70 0 0 1 423.67,397.94L414.70,380.40A142.00,142.00 0 0 0 416.45,379.49Z" fill="#ff332e"/><path d="M422.82,398.38A161.70,161.70 0 0 1 421.09,399.23L412.43,381.54A142.00,142.00 0 0 0 413.94,380.79Z" fill="#ff2e2a"/><path d="M420.38,399.58A161.70,161.70 0 0 1 419.54,399.98L411.07,382.20A142.00,142.00 0 0 0 411.80,381.85Z" fill="#ff3630"/><path d="M418.64,400.41A161.70,161.70 0 0 1 416.59,401.35L408.47,383.40A142.00,142.00 0 0 0 410.28,382.57Z" fill="#ff332e"/><path d="M416.56,401.36A161.70,161.70 0 0 1 414.91,402.10L407.00,384.06A142.00,142.00 0 0 0 408.45,383.41Z" fill="#ff2c29"/><path d="M414.46,402.30A161.70,161.70 0 0 1 412.44,403.16L404.83,384.99A142.00,142.00 0 0 0 406.61,384.23Z" fill="#ff302c"/><path d="M412.30,403.22A161.70,161.70 0 0 1 410.97,403.77L403.54,385.52A142.00,142.00 0 0 0 404.71,385.04Z" fill="#ff352f"/><path d="M431.25,399.33A166.50,166.50 0 0 1 377.77,418.17L377.18,414.72A163.00,163.00 0 0 0 429.55,396.27Z" fill="#3399ff"/><path d="M357.95,308.62A55.20,55.20 0 0 1 355.58,308.92L353.59,289.32A35.50,35.50 0 0 0 355.11,289.13Z" fill="#b4afd7"/><path d="M361.02,329.70A76.50,76.50 0 0 1 357.73,330.11L355.74,310.51A56.80,56.80 0 0 0 358.18,310.21Z" fill="#5ac3e6"/><path d="M364.08,350.78A97.80,97.80 0 0 1 359.88,351.30L357.89,331.70A78.10,78.10 0 0 0 361.25,331.29Z" fill="#1fca88"/><path d="M367.15,371.86A119.10,119.10 0 0 1 362.04,372.49L360.04,352.89A99.40,99.40 0 0 0 364.31,352.36Z" fill="#ffe86c"/><path d="M370.22,392.94A140.40,140.40 0 0 1 364.19,393.68L362.20,374.08A120.70,120.70 0 0 0 367.38,373.44Z" fill="#ff9a5c"/><path d="M373.29,414.01A161.70,161.70 0 0 1 366.34,414.87L364.35,395.27A142.00,142.00 0 0 0 370.45,394.52Z" fill="#ffa37e"/><path d="M357.70,308.66A55.20,55.20 0 0 1 355.58,308.92L353.59,289.32A35.50,35.50 0 0 0 354.95,289.15Z" fill="#7046aa"/><path d="M360.76,329.74A76.50,76.50 0 0 1 359.11,329.96L356.76,310.40A56.80,56.80 0 0 0 357.99,310.24Z" fill="#1674c5"/><path d="M363.78,350.82A97.80,97.80 0 0 1 362.74,350.97L360.18,331.43A78.10,78.10 0 0 0 361.01,331.32Z" fill="#008b51"/><path d="M366.70,371.92A119.10,119.10 0 0 1 364.29,372.24L361.93,352.68A99.40,99.40 0 0 0 363.93,352.42Z" fill="#ffc008"/><path d="M369.78,393.00A140.40,140.40 0 0 1 368.29,393.20L365.72,373.67A120.70,120.70 0 0 0 367.00,373.50Z" fill="#ff6415"/><path d="M367.66,393.28A140.40,140.40 0 0 1 365.55,393.54L363.36,373.96A120.70,120.70 0 0 0 365.19,373.74Z" fill="#ff6011"/><path d="M372.78,414.09A161.70,161.70 0 0 1 371.06,414.32L368.49,394.79A142.00,142.00 0 0 0 370.00,394.58Z" fill="#ff2322"/><path d="M370.34,414.42A161.70,161.70 0 0 1 367.90,414.71L365.72,395.13A142.00,142.00 0 0 0 367.86,394.87Z" fill="#ff2322"/><path d="M373.98,418.76A166.50,166.50 0 0 1 366.83,419.65L366.47,416.17A163.00,163.00 0 0 0 373.47,415.30Z" fill="#66b3ff"/><path d="M354.12,309.05A55.20,55.20 0 0 1 345.18,308.99L346.90,289.36A35.50,35.50 0 0 0 352.65,289.40Z" fill="#b4afd7"/><path d="M355.71,330.29A76.50,76.50 0 0 1 343.32,330.21L345.04,310.58A56.80,56.80 0 0 0 354.24,310.64Z" fill="#5ac3e6"/><path d="M357.30,351.53A97.80,97.80 0 0 1 341.46,351.43L343.18,331.80A78.10,78.10 0 0 0 355.83,331.88Z" fill="#1fca88"/><path d="M358.89,372.77A119.10,119.10 0 0 1 339.60,372.64L341.32,353.02A99.40,99.40 0 0 0 357.42,353.12Z" fill="#ffe86c"/><path d="M360.48,394.01A140.40,140.40 0 0 1 337.74,393.86L339.46,374.24A120.70,120.70 0 0 0 359.01,374.36Z" fill="#ff9a5c"/><path d="M362.07,415.25A161.70,161.70 0 0 1 335.88,415.08L337.60,395.46A142.00,142.00 0 0 0 360.60,395.60Z" fill="#ffa37e"/><path d="M353.86,309.06A55.20,55.20 0 0 1 352.72,309.13L351.75,289.46A35.50,35.50 0 0 0 352.48,289.41Z" fill="#6c3fa7"/><path d="M352.53,309.14A55.20,55.20 0 0 1 351.39,309.18L350.90,289.49A35.50,35.50 0 0 0 351.63,289.46Z" fill="#754ead"/><path d="M347.66,309.15A55.20,55.20 0 0 1 345.84,309.04L347.33,289.40A35.50,35.50 0 0 0 348.49,289.47Z" fill="#7852af"/><path d="M355.56,330.30A76.50,76.50 0 0 1 353.15,330.44L352.34,310.75A56.80,56.80 0 0 0 354.13,310.65Z" fill="#1e7dc9"/><path d="M348.78,330.49A76.50,76.50 0 0 1 347.24,330.45L347.95,310.76A56.80,56.80 0 0 0 349.09,310.79Z" fill="#106ec3"/><path d="M347.18,330.45A76.50,76.50 0 0 1 345.29,330.36L346.51,310.69A56.80,56.80 0 0 0 347.91,310.76Z" fill="#106dc2"/><path d="M344.02,330.27A76.50,76.50 0 0 1 343.32,330.21L345.04,310.58A56.80,56.80 0 0 0 345.56,310.63Z" fill="#106dc2"/><path d="M357.08,351.54A97.80,97.80 0 0 1 355.20,351.66L354.15,331.99A78.10,78.10 0 0 0 355.65,331.90Z" fill="#049358"/><path d="M354.39,351.70A97.80,97.80 0 0 1 353.31,351.74L352.64,332.06A78.10,78.10 0 0 0 353.50,332.02Z" fill="#039055"/><path d="M351.77,351.78A97.80,97.80 0 0 1 348.94,351.79L349.16,332.10A78.10,78.10 0 0 0 351.41,332.09Z" fill="#008a50"/><path d="M341.64,351.44A97.80,97.80 0 0 1 341.46,351.43L343.18,331.80A78.10,78.10 0 0 0 343.33,331.81Z" fill="#018c51"/><path d="M358.77,372.78A119.10,119.10 0 0 1 357.07,372.89L355.90,353.22A99.40,99.40 0 0 0 357.32,353.13Z" fill="#ffbe03"/><path d="M356.52,372.92A119.10,119.10 0 0 1 354.37,373.02L353.64,353.33A99.40,99.40 0 0 0 355.44,353.25Z" fill="#ffc411"/><path d="M353.97,373.03A119.10,119.10 0 0 1 352.27,373.08L351.90,353.38A99.40,99.40 0 0 0 353.31,353.34Z" fill="#ffc109"/><path d="M346.76,373.06A119.10,119.10 0 0 1 344.87,372.99L345.72,353.31A99.40,99.40 0 0 0 347.30,353.36Z" fill="#ffc412"/><path d="M359.83,394.06A140.40,140.40 0 0 1 358.38,394.15L357.21,374.48A120.70,120.70 0 0 0 358.45,374.40Z" fill="#ff6010"/><path d="M357.40,394.20A140.40,140.40 0 0 1 355.50,394.29L354.73,374.61A120.70,120.70 0 0 0 356.36,374.53Z" fill="#ff6415"/><path d="M354.74,394.32A140.40,140.40 0 0 1 353.65,394.35L353.14,374.66A120.70,120.70 0 0 0 354.07,374.63Z" fill="#ff6213"/><path d="M352.51,394.38A140.40,140.40 0 0 1 351.56,394.39L351.34,374.69A120.70,120.70 0 0 0 352.16,374.68Z" fill="#ff6719"/><path d="M350.47,394.40A140.40,140.40 0 0 1 349.04,394.40L349.17,374.70A120.70,120.70 0 0 0 350.40,374.70Z" fill="#ff6719"/><path d="M348.11,394.39A140.40,140.40 0 0 1 346.95,394.37L347.38,374.67A120.70,120.70 0 0 0 348.38,374.69Z" fill="#ff6719"/><path d="M345.52,394.33A140.40,140.40 0 0 1 344.02,394.27L344.85,374.59A120.70,120.70 0 0 0 346.14,374.64Z" fill="#ff6010"/><path d="M342.95,394.22A140.40,140.40 0 0 1 341.87,394.16L343.01,374.50A120.70,120.70 0 0 0 343.94,374.55Z" fill="#ff6719"/><path d="M341.81,394.16A140.40,140.40 0 0 1 339.87,394.03L341.29,374.39A120.70,120.70 0 0 0 342.96,374.49Z" fill="#ff6314"/><path d="M361.32,415.30A161.70,161.70 0 0 1 359.65,415.41L358.48,395.75A142.00,142.00 0 0 0 359.94,395.65Z" fill="#ff2f2b"/><path d="M358.53,415.48A161.70,161.70 0 0 1 356.34,415.58L355.57,395.89A142.00,142.00 0 0 0 357.49,395.80Z" fill="#ff2524"/><path d="M355.45,415.61A161.70,161.70 0 0 1 354.21,415.65L353.70,395.95A142.00,142.00 0 0 0 354.79,395.92Z" fill="#ff322d"/><path d="M352.90,415.67A161.70,161.70 0 0 1 351.79,415.69L351.57,395.99A142.00,142.00 0 0 0 352.54,395.98Z" fill="#ff2624"/><path d="M350.54,415.70A161.70,161.70 0 0 1 348.89,415.70L349.03,396.00A142.00,142.00 0 0 0 350.47,396.00Z" fill="#ff342e"/><path d="M347.83,415.69A161.70,161.70 0 0 1 346.49,415.66L346.92,395.97A142.00,142.00 0 0 0 348.09,395.99Z" fill="#ff2a27"/><path d="M340.57,415.42A161.70,161.70 0 0 1 338.33,415.28L339.75,395.63A142.00,142.00 0 0 0 341.71,395.76Z" fill="#ff3630"/><path d="M362.43,420.04A166.50,166.50 0 0 1 335.46,419.86L335.77,416.38A163.00,163.00 0 0 0 362.16,416.55Z" fill="#00e5ee"/><path d="M343.88,308.86A55.20,55.20 0 0 1 331.63,306.05L338.18,287.48A35.50,35.50 0 0 0 346.06,289.28Z" fill="#b4afd7"/><path d="M341.51,330.03A76.50,76.50 0 0 1 324.54,326.14L331.10,307.56A56.80,56.80 0 0 0 343.70,310.45Z" fill="#5ac3e6"/><path d="M339.15,351.20A97.80,97.80 0 0 1 317.45,346.22L324.01,327.65A78.10,78.10 0 0 0 341.33,331.62Z" fill="#1fca88"/><path d="M336.79,372.36A119.10,119.10 0 0 1 310.36,366.31L316.92,347.73A99.40,99.40 0 0 0 338.97,352.79Z" fill="#ffe86c"/><path d="M334.42,393.53A140.40,140.40 0 0 1 303.27,386.40L309.83,367.82A120.70,120.70 0 0 0 336.61,373.95Z" fill="#ff9a5c"/><path d="M332.06,414.70A161.70,161.70 0 0 1 296.18,406.48L302.74,387.90A142.00,142.00 0 0 0 334.25,395.12Z" fill="#ffa37e"/><path d="M342.72,308.72A55.20,55.20 0 0 1 340.87,308.44L344.13,289.01A35.50,35.50 0 0 0 345.32,289.19Z" fill="#7046aa"/><path d="M339.82,329.82A76.50,76.50 0 0 1 338.66,329.66L341.58,310.17A56.80,56.80 0 0 0 342.44,310.30Z" fill="#1775c6"/><path d="M337.25,350.97A97.80,97.80 0 0 1 334.66,350.59L337.75,331.13A78.10,78.10 0 0 0 339.82,331.43Z" fill="#039055"/><path d="M334.05,350.49A97.80,97.80 0 0 1 332.09,350.15L335.70,330.78A78.10,78.10 0 0 0 337.26,331.05Z" fill="#028e53"/><path d="M334.06,372.03A119.10,119.10 0 0 1 332.72,371.84L335.58,352.35A99.40,99.40 0 0 0 336.69,352.51Z" fill="#ffc20c"/><path d="M332.50,371.81A119.10,119.10 0 0 1 330.50,371.49L333.72,352.06A99.40,99.40 0 0 0 335.40,352.32Z" fill="#ffc411"/><path d="M329.78,371.37A119.10,119.10 0 0 1 328.68,371.18L332.20,351.79A99.40,99.40 0 0 0 333.12,351.96Z" fill="#ffc10a"/><path d="M331.66,393.20A140.40,140.40 0 0 1 330.03,392.97L332.84,373.47A120.70,120.70 0 0 0 334.23,373.67Z" fill="#ff681b"/><path d="M327.78,392.63A140.40,140.40 0 0 1 326.68,392.45L329.95,373.02A120.70,120.70 0 0 0 330.90,373.18Z" fill="#ff681a"/><path d="M326.42,392.41A140.40,140.40 0 0 1 324.29,392.03L327.90,372.66A120.70,120.70 0 0 0 329.73,372.99Z" fill="#ff691c"/><path d="M328.88,414.31A161.70,161.70 0 0 1 327.01,414.06L329.81,394.56A142.00,142.00 0 0 0 331.45,394.78Z" fill="#ff2221"/><path d="M324.41,413.66A161.70,161.70 0 0 1 323.14,413.45L326.41,394.03A142.00,142.00 0 0 0 327.53,394.21Z" fill="#ff352f"/><path d="M322.85,413.40A161.70,161.70 0 0 1 320.39,412.97L324.00,393.60A142.00,142.00 0 0 0 326.15,393.98Z" fill="#ff2725"/><path d="M331.53,419.47A166.50,166.50 0 0 1 294.59,411.01L295.75,407.71A163.00,163.00 0 0 0 331.92,415.99Z" fill="#aaffff"/><path d="M330.45,305.62A55.20,55.20 0 0 1 324.09,302.74L333.34,285.35A35.50,35.50 0 0 0 337.43,287.20Z" fill="#b4afd7"/><path d="M322.91,325.54A76.50,76.50 0 0 1 314.10,321.55L323.34,304.16A56.80,56.80 0 0 0 329.89,307.12Z" fill="#5ac3e6"/><path d="M315.37,345.46A97.80,97.80 0 0 1 304.10,340.36L313.35,322.96A78.10,78.10 0 0 0 322.34,327.04Z" fill="#1fca88"/><path d="M307.82,365.38A119.10,119.10 0 0 1 294.10,359.17L303.35,341.77A99.40,99.40 0 0 0 314.80,346.96Z" fill="#ffe86c"/><path d="M300.28,385.30A140.40,140.40 0 0 1 284.11,377.98L293.35,360.58A120.70,120.70 0 0 0 307.26,366.88Z" fill="#ff9a5c"/><path d="M292.74,405.22A161.70,161.70 0 0 1 274.11,396.79L283.36,379.39A142.00,142.00 0 0 0 299.71,386.80Z" fill="#ffa37e"/><path d="M328.40,304.80A55.20,55.20 0 0 1 326.66,304.02L334.99,286.17A35.50,35.50 0 0 0 336.11,286.67Z" fill="#7046aa"/><path d="M325.68,303.55A55.20,55.20 0 0 1 325.02,303.23L333.94,285.66A35.50,35.50 0 0 0 334.36,285.87Z" fill="#764fae"/><path d="M320.05,324.39A76.50,76.50 0 0 1 317.95,323.46L326.21,305.58A56.80,56.80 0 0 0 327.76,306.27Z" fill="#0f6cc2"/><path d="M316.89,322.96A76.50,76.50 0 0 1 315.39,322.22L324.30,304.65A56.80,56.80 0 0 0 325.41,305.20Z" fill="#116fc3"/><path d="M311.67,343.97A97.80,97.80 0 0 1 309.06,342.82L317.31,324.93A78.10,78.10 0 0 0 319.39,325.85Z" fill="#06965a"/><path d="M308.25,342.44A97.80,97.80 0 0 1 306.27,341.48L315.08,323.86A78.10,78.10 0 0 0 316.66,324.62Z" fill="#05955a"/><path d="M306.25,341.47A97.80,97.80 0 0 1 305.75,341.22L314.66,323.65A78.10,78.10 0 0 0 315.06,323.85Z" fill="#039156"/><path d="M303.34,363.58A119.10,119.10 0 0 1 301.96,362.98L309.91,344.96A99.40,99.40 0 0 0 311.06,345.45Z" fill="#ffbd01"/><path d="M300.69,362.41A119.10,119.10 0 0 1 299.61,361.92L307.95,344.07A99.40,99.40 0 0 0 308.85,344.48Z" fill="#ffbe03"/><path d="M299.41,361.82A119.10,119.10 0 0 1 297.65,360.98L306.31,343.28A99.40,99.40 0 0 0 307.78,343.99Z" fill="#ffc10b"/><path d="M297.65,360.98A119.10,119.10 0 0 1 296.45,360.38L305.31,342.79A99.40,99.40 0 0 0 306.31,343.28Z" fill="#ffbd01"/><path d="M296.37,360.34A119.10,119.10 0 0 1 296.11,360.21L305.02,342.64A99.40,99.40 0 0 0 305.24,342.75Z" fill="#ffbe02"/><path d="M295.20,383.26A140.40,140.40 0 0 1 294.13,382.80L301.97,364.73A120.70,120.70 0 0 0 302.89,365.13Z" fill="#ff6416"/><path d="M292.43,382.05A140.40,140.40 0 0 1 290.33,381.09L298.70,363.26A120.70,120.70 0 0 0 300.50,364.08Z" fill="#ff6517"/><path d="M288.50,380.21A140.40,140.40 0 0 1 287.03,379.49L295.87,361.88A120.70,120.70 0 0 0 297.13,362.50Z" fill="#ff6516"/><path d="M286.85,379.40A140.40,140.40 0 0 1 286.47,379.21L295.39,361.64A120.70,120.70 0 0 0 295.71,361.80Z" fill="#ff6111"/><path d="M286.89,402.87A161.70,161.70 0 0 1 285.65,402.34L293.49,384.27A142.00,142.00 0 0 0 294.58,384.74Z" fill="#ff312c"/><path d="M283.69,401.48A161.70,161.70 0 0 1 281.28,400.37L289.65,382.54A142.00,142.00 0 0 0 291.77,383.51Z" fill="#ff2b28"/><path d="M279.17,399.36A161.70,161.70 0 0 1 277.48,398.53L286.31,380.92A142.00,142.00 0 0 0 287.80,381.65Z" fill="#ff2322"/><path d="M277.27,398.42A161.70,161.70 0 0 1 276.84,398.20L285.75,380.63A142.00,142.00 0 0 0 286.13,380.83Z" fill="#ff2222"/><path d="M291.04,409.71A166.50,166.50 0 0 1 271.86,401.02L273.50,397.93A163.00,163.00 0 0 0 292.28,406.44Z" fill="#9900cc"/><path d="M322.76,302.01A55.20,55.20 0 0 1 320.32,300.54L330.91,283.93A35.50,35.50 0 0 0 332.48,284.88Z" fill="#b4afd7"/><path d="M312.25,320.54A76.50,76.50 0 0 1 308.86,318.50L319.46,301.89A56.80,56.80 0 0 0 321.97,303.40Z" fill="#5ac3e6"/><path d="M301.74,339.06A97.80,97.80 0 0 1 297.41,336.46L308.00,319.85A78.10,78.10 0 0 0 311.46,321.93Z" fill="#1fca88"/><path d="M291.23,357.59A119.10,119.10 0 0 1 285.96,354.41L296.55,337.81A99.40,99.40 0 0 0 300.95,340.45Z" fill="#ffe86c"/><path d="M280.71,376.11A140.40,140.40 0 0 1 274.50,372.37L285.09,355.76A120.70,120.70 0 0 0 290.44,358.98Z" fill="#ff9a5c"/><path d="M270.20,394.64A161.70,161.70 0 0 1 263.05,390.33L273.64,373.72A142.00,142.00 0 0 0 279.92,377.50Z" fill="#ffa37e"/><path d="M322.54,301.89A55.20,55.20 0 0 1 321.46,301.25L331.65,284.39A35.50,35.50 0 0 0 332.34,284.80Z" fill="#6b3fa7"/><path d="M311.97,320.38A76.50,76.50 0 0 1 310.88,319.74L320.95,302.81A56.80,56.80 0 0 0 321.76,303.28Z" fill="#116ec3"/><path d="M301.64,339.01A97.80,97.80 0 0 1 300.25,338.20L310.27,321.24A78.10,78.10 0 0 0 311.38,321.89Z" fill="#018b51"/><path d="M299.57,337.79A97.80,97.80 0 0 1 298.37,337.06L308.77,320.33A78.10,78.10 0 0 0 309.73,320.92Z" fill="#028f54"/><path d="M290.76,357.32A119.10,119.10 0 0 1 289.72,356.72L299.69,339.73A99.40,99.40 0 0 0 300.56,340.23Z" fill="#ffc30e"/><path d="M288.37,355.91A119.10,119.10 0 0 1 286.74,354.91L297.20,338.22A99.40,99.40 0 0 0 298.56,339.06Z" fill="#ffbf04"/><path d="M286.69,354.88A119.10,119.10 0 0 1 285.96,354.41L296.55,337.81A99.40,99.40 0 0 0 297.16,338.19Z" fill="#ffbf04"/><path d="M280.63,376.06A140.40,140.40 0 0 1 278.87,375.05L288.85,358.07A120.70,120.70 0 0 0 290.36,358.94Z" fill="#ff681a"/><path d="M278.62,374.90A140.40,140.40 0 0 1 276.89,373.86L287.15,357.05A120.70,120.70 0 0 0 288.64,357.94Z" fill="#ff691b"/><path d="M270.10,394.58A161.70,161.70 0 0 1 268.08,393.41L278.06,376.43A142.00,142.00 0 0 0 279.84,377.46Z" fill="#ff352f"/><path d="M267.79,393.24A161.70,161.70 0 0 1 265.80,392.05L276.06,375.23A142.00,142.00 0 0 0 277.81,376.28Z" fill="#ff332e"/><path d="M264.67,391.35A161.70,161.70 0 0 1 263.05,390.33L273.64,373.72A142.00,142.00 0 0 0 275.07,374.62Z" fill="#ff2927"/><path d="M267.83,398.81A166.50,166.50 0 0 1 260.47,394.38L262.35,391.43A163.00,163.00 0 0 0 269.56,395.77Z" fill="#cc00ff"/><path d="M318.73,299.49A55.20,55.20 0 0 1 315.95,297.45L328.10,281.94A35.50,35.50 0 0 0 329.89,283.26Z" fill="#b4afd7"/><path d="M306.67,317.05A76.50,76.50 0 0 1 302.82,314.22L314.97,298.71A56.80,56.80 0 0 0 317.83,300.81Z" fill="#5ac3e6"/><path d="M294.61,334.60A97.80,97.80 0 0 1 289.68,330.98L301.83,315.48A78.10,78.10 0 0 0 305.76,318.36Z" fill="#1fca88"/><path d="M282.54,352.15A119.10,119.10 0 0 1 276.54,347.75L288.69,332.24A99.40,99.40 0 0 0 293.70,335.92Z" fill="#ffe86c"/><path d="M270.48,369.71A140.40,140.40 0 0 1 263.41,364.52L275.56,349.01A120.70,120.70 0 0 0 281.63,353.47Z" fill="#ff9a5c"/><path d="M258.41,387.26A161.70,161.70 0 0 1 250.27,381.28L262.42,365.78A142.00,142.00 0 0 0 269.57,371.03Z" fill="#ffa37e"/><path d="M318.68,299.45A55.20,55.20 0 0 1 317.55,298.66L329.13,282.72A35.50,35.50 0 0 0 329.86,283.23Z" fill="#7148ab"/><path d="M316.20,297.64A55.20,55.20 0 0 1 315.95,297.45L328.10,281.94A35.50,35.50 0 0 0 328.26,282.07Z" fill="#764fae"/><path d="M306.61,317.01A76.50,76.50 0 0 1 305.78,316.42L317.16,300.35A56.80,56.80 0 0 0 317.79,300.78Z" fill="#106ec3"/><path d="M294.36,334.43A97.80,97.80 0 0 1 292.16,332.87L303.81,316.98A78.10,78.10 0 0 0 305.57,318.23Z" fill="#018d53"/><path d="M282.43,352.08A119.10,119.10 0 0 1 280.48,350.71L291.98,334.71A99.40,99.40 0 0 0 293.60,335.85Z" fill="#ffc310"/><path d="M270.41,369.66A140.40,140.40 0 0 1 269.41,368.97L280.72,352.84A120.70,120.70 0 0 0 281.57,353.43Z" fill="#ff6111"/><path d="M258.33,387.20A161.70,161.70 0 0 1 257.19,386.41L268.49,370.28A142.00,142.00 0 0 0 269.50,370.98Z" fill="#ff2e2a"/><path d="M255.69,391.22A166.50,166.50 0 0 1 247.31,385.06L249.47,382.31A163.00,163.00 0 0 0 257.68,388.33Z" fill="#cc99ff"/><path d="M314.68,296.42A55.20,55.20 0 0 1 308.48,290.37L323.30,277.39A35.50,35.50 0 0 0 327.29,281.28Z" fill="#b4afd7"/><path d="M301.05,312.79A76.50,76.50 0 0 1 292.46,304.41L307.28,291.43A56.80,56.80 0 0 0 313.66,297.65Z" fill="#5ac3e6"/><path d="M287.42,329.16A97.80,97.80 0 0 1 276.44,318.45L291.25,305.46A78.10,78.10 0 0 0 300.03,314.02Z" fill="#1fca88"/><path d="M273.79,345.53A119.10,119.10 0 0 1 260.41,332.48L275.23,319.50A99.40,99.40 0 0 0 286.40,330.39Z" fill="#ffe86c"/><path d="M260.17,361.90A140.40,140.40 0 0 1 244.39,346.52L259.21,333.54A120.70,120.70 0 0 0 272.77,346.76Z" fill="#ff9a5c"/><path d="M246.54,378.27A161.70,161.70 0 0 1 228.37,360.55L243.19,347.57A142.00,142.00 0 0 0 259.14,363.13Z" fill="#ffa37e"/><path d="M314.67,296.41A55.20,55.20 0 0 1 313.07,295.03L326.25,280.39A35.50,35.50 0 0 0 327.28,281.28Z" fill="#6d42a8"/><path d="M312.70,294.69A55.20,55.20 0 0 1 311.43,293.49L325.19,279.39A35.50,35.50 0 0 0 326.01,280.17Z" fill="#7046aa"/><path d="M311.03,293.09A55.20,55.20 0 0 1 310.24,292.29L324.43,278.62A35.50,35.50 0 0 0 324.94,279.14Z" fill="#7751af"/><path d="M300.76,312.55A76.50,76.50 0 0 1 299.73,311.67L312.68,296.82A56.80,56.80 0 0 0 313.44,297.47Z" fill="#116fc3"/><path d="M299.38,311.36A76.50,76.50 0 0 1 297.29,309.44L310.86,295.16A56.80,56.80 0 0 0 312.42,296.59Z" fill="#126fc3"/><path d="M295.50,307.69A76.50,76.50 0 0 1 294.90,307.06L309.09,293.40A56.80,56.80 0 0 0 309.54,293.86Z" fill="#1a79c7"/><path d="M287.11,328.90A97.80,97.80 0 0 1 285.20,327.25L298.25,312.50A78.10,78.10 0 0 0 299.78,313.81Z" fill="#028e54"/><path d="M284.89,326.97A97.80,97.80 0 0 1 284.04,326.21L297.33,311.67A78.10,78.10 0 0 0 298.00,312.27Z" fill="#018b51"/><path d="M281.94,324.23A97.80,97.80 0 0 1 280.61,322.92L294.58,309.03A78.10,78.10 0 0 0 295.65,310.08Z" fill="#008b51"/><path d="M273.76,345.50A119.10,119.10 0 0 1 273.12,344.97L285.84,329.92A99.40,99.40 0 0 0 286.37,330.36Z" fill="#ffc109"/><path d="M273.04,344.90A119.10,119.10 0 0 1 271.85,343.88L284.78,329.01A99.40,99.40 0 0 0 285.77,329.86Z" fill="#ffbe03"/><path d="M270.77,342.93A119.10,119.10 0 0 1 269.47,341.75L282.79,327.24A99.40,99.40 0 0 0 283.88,328.22Z" fill="#ffc10a"/><path d="M268.98,341.30A119.10,119.10 0 0 1 267.82,340.21L281.41,325.95A99.40,99.40 0 0 0 282.38,326.86Z" fill="#ffbd00"/><path d="M267.31,339.72A119.10,119.10 0 0 1 265.95,338.38L279.85,324.42A99.40,99.40 0 0 0 280.99,325.54Z" fill="#ffbd01"/><path d="M260.00,361.76A140.40,140.40 0 0 1 259.40,361.26L272.11,346.21A120.70,120.70 0 0 0 272.63,346.64Z" fill="#ff6212"/><path d="M259.21,361.10A140.40,140.40 0 0 1 258.58,360.56L271.41,345.60A120.70,120.70 0 0 0 271.95,346.07Z" fill="#ff681b"/><path d="M257.91,359.98A140.40,140.40 0 0 1 256.37,358.62L269.51,343.94A120.70,120.70 0 0 0 270.83,345.11Z" fill="#ff6112"/><path d="M255.94,358.23A140.40,140.40 0 0 1 255.27,357.63L268.57,343.09A120.70,120.70 0 0 0 269.14,343.61Z" fill="#ff6010"/><path d="M254.03,356.48A140.40,140.40 0 0 1 253.37,355.86L266.93,341.57A120.70,120.70 0 0 0 267.49,342.10Z" fill="#ff6314"/><path d="M251.66,354.20A140.40,140.40 0 0 1 250.05,352.60L264.07,338.76A120.70,120.70 0 0 0 265.46,340.14Z" fill="#ff6a1d"/><path d="M249.70,352.24A140.40,140.40 0 0 1 248.87,351.39L263.06,337.72A120.70,120.70 0 0 0 263.77,338.46Z" fill="#ff6415"/><path d="M246.35,378.11A161.70,161.70 0 0 1 245.65,377.53L258.37,362.48A142.00,142.00 0 0 0 258.98,362.99Z" fill="#ff3731"/><path d="M243.94,376.06A161.70,161.70 0 0 1 242.16,374.49L255.30,359.81A142.00,142.00 0 0 0 256.86,361.19Z" fill="#ff2e2a"/><path d="M241.67,374.05A161.70,161.70 0 0 1 240.90,373.35L254.20,358.81A142.00,142.00 0 0 0 254.87,359.42Z" fill="#ff2725"/><path d="M239.47,372.02A161.70,161.70 0 0 1 238.71,371.31L252.27,357.02A142.00,142.00 0 0 0 252.93,357.64Z" fill="#ff2020"/><path d="M236.74,369.41A161.70,161.70 0 0 1 234.88,367.56L248.91,353.72A142.00,142.00 0 0 0 250.54,355.35Z" fill="#ff2020"/><path d="M234.48,367.14A161.70,161.70 0 0 1 233.53,366.16L247.72,352.50A142.00,142.00 0 0 0 248.55,353.36Z" fill="#ff2c29"/><path d="M243.47,381.96A166.50,166.50 0 0 1 224.76,363.72L227.39,361.41A163.00,163.00 0 0 0 245.71,379.27Z" fill="#555555"/><path d="M307.50,289.22A55.20,55.20 0 0 1 295.88,264.85L315.19,260.98A35.50,35.50 0 0 0 322.67,276.65Z" fill="#b4afd7"/><path d="M291.10,302.81A76.50,76.50 0 0 1 274.99,269.04L294.31,265.17A56.80,56.80 0 0 0 306.27,290.24Z" fill="#5ac3e6"/><path d="M274.70,316.41A97.80,97.80 0 0 1 254.11,273.23L273.42,269.36A78.10,78.10 0 0 0 289.87,303.84Z" fill="#1fca88"/><path d="M258.30,330.00A119.10,119.10 0 0 1 233.23,277.42L252.54,273.55A99.40,99.40 0 0 0 273.47,317.43Z" fill="#ffe86c"/><path d="M241.90,343.59A140.40,140.40 0 0 1 212.34,281.61L231.66,277.73A120.70,120.70 0 0 0 257.07,331.02Z" fill="#ff9a5c"/><path d="M225.50,357.18A161.70,161.70 0 0 1 191.46,285.80L210.77,281.92A142.00,142.00 0 0 0 240.67,344.61Z" fill="#ffa37e"/><path d="M307.44,289.15A55.20,55.20 0 0 1 306.05,287.40L321.74,275.48A35.50,35.50 0 0 0 322.63,276.61Z" fill="#744cad"/><path d="M305.89,287.19A55.20,55.20 0 0 1 304.95,285.91L321.03,274.52A35.50,35.50 0 0 0 321.63,275.35Z" fill="#7046aa"/><path d="M302.56,282.22A55.20,55.20 0 0 1 302.07,281.38L319.18,271.61A35.50,35.50 0 0 0 319.49,272.15Z" fill="#744dad"/><path d="M291.06,302.77A76.50,76.50 0 0 1 289.79,301.18L305.29,289.03A56.80,56.80 0 0 0 306.24,290.21Z" fill="#1b7ac8"/><path d="M287.83,298.58A76.50,76.50 0 0 1 286.53,296.71L302.87,285.71A56.80,56.80 0 0 0 303.84,287.10Z" fill="#1c7bc8"/><path d="M286.46,296.60A76.50,76.50 0 0 1 285.61,295.31L302.19,284.67A56.80,56.80 0 0 0 302.82,285.63Z" fill="#116fc3"/><path d="M284.57,293.64A76.50,76.50 0 0 1 284.01,292.70L301.01,282.74A56.80,56.80 0 0 0 301.42,283.43Z" fill="#1775c6"/><path d="M274.56,316.23A97.80,97.80 0 0 1 273.54,314.98L288.94,302.69A78.10,78.10 0 0 0 289.75,303.70Z" fill="#028e53"/><path d="M270.29,310.66A97.80,97.80 0 0 1 269.15,309.03L285.43,297.94A78.10,78.10 0 0 0 286.34,299.25Z" fill="#018c52"/><path d="M266.69,305.23A97.80,97.80 0 0 1 265.26,302.83L282.33,293.00A78.10,78.10 0 0 0 283.47,294.91Z" fill="#039055"/><path d="M263.73,300.07A97.80,97.80 0 0 1 262.82,298.32L280.38,289.40A78.10,78.10 0 0 0 281.11,290.79Z" fill="#018c52"/><path d="M257.95,329.58A119.10,119.10 0 0 1 256.76,328.10L272.18,315.84A99.40,99.40 0 0 0 273.18,317.08Z" fill="#ffc10a"/><path d="M256.07,327.22A119.10,119.10 0 0 1 255.43,326.39L271.07,314.42A99.40,99.40 0 0 0 271.60,315.11Z" fill="#ffc10b"/><path d="M254.59,325.28A119.10,119.10 0 0 1 253.52,323.83L269.48,312.28A99.40,99.40 0 0 0 270.37,313.49Z" fill="#ffbd00"/><path d="M252.17,321.93A119.10,119.10 0 0 1 251.01,320.22L267.38,309.27A99.40,99.40 0 0 0 268.36,310.70Z" fill="#ffc30e"/><path d="M250.12,318.88A119.10,119.10 0 0 1 249.68,318.19L266.27,307.57A99.40,99.40 0 0 0 266.64,308.15Z" fill="#ffc10b"/><path d="M248.52,316.35A119.10,119.10 0 0 1 247.74,315.06L264.66,304.96A99.40,99.40 0 0 0 265.31,306.03Z" fill="#ffbe03"/><path d="M247.51,314.67A119.10,119.10 0 0 1 247.02,313.83L264.05,303.94A99.40,99.40 0 0 0 264.46,304.63Z" fill="#ffc30f"/><path d="M241.88,343.56A140.40,140.40 0 0 1 240.82,342.27L256.14,329.88A120.70,120.70 0 0 0 257.05,331.00Z" fill="#ff6314"/><path d="M240.52,341.91A140.40,140.40 0 0 1 239.19,340.21L254.74,328.12A120.70,120.70 0 0 0 255.89,329.57Z" fill="#ff6112"/><path d="M238.69,339.57A140.40,140.40 0 0 1 237.64,338.19L253.41,326.38A120.70,120.70 0 0 0 254.31,327.57Z" fill="#ff671a"/><path d="M237.10,337.47A140.40,140.40 0 0 1 236.11,336.11L252.09,324.59A120.70,120.70 0 0 0 252.95,325.76Z" fill="#ff6010"/><path d="M235.65,335.46A140.40,140.40 0 0 1 234.67,334.07L250.86,322.84A120.70,120.70 0 0 0 251.70,324.03Z" fill="#ff6719"/><path d="M234.56,333.91A140.40,140.40 0 0 1 233.71,332.67L250.03,321.63A120.70,120.70 0 0 0 250.76,322.70Z" fill="#ff6415"/><path d="M233.43,332.25A140.40,140.40 0 0 1 232.42,330.73L248.92,319.96A120.70,120.70 0 0 0 249.78,321.27Z" fill="#ff6010"/><path d="M232.12,330.26A140.40,140.40 0 0 1 231.51,329.32L248.14,318.75A120.70,120.70 0 0 0 248.66,319.56Z" fill="#ff6212"/><path d="M231.49,329.29A140.40,140.40 0 0 1 230.28,327.35L247.08,317.05A120.70,120.70 0 0 0 248.12,318.72Z" fill="#ff6719"/><path d="M225.47,357.15A161.70,161.70 0 0 1 224.25,355.66L239.57,343.27A142.00,142.00 0 0 0 240.64,344.58Z" fill="#ff352f"/><path d="M221.81,352.55A161.70,161.70 0 0 1 220.60,350.96L236.36,339.15A142.00,142.00 0 0 0 237.42,340.55Z" fill="#ff2a27"/><path d="M219.98,350.13A161.70,161.70 0 0 1 218.84,348.57L234.81,337.04A142.00,142.00 0 0 0 235.82,338.42Z" fill="#ff2a27"/><path d="M218.30,347.82A161.70,161.70 0 0 1 217.18,346.22L233.36,334.99A142.00,142.00 0 0 0 234.35,336.39Z" fill="#ff302b"/><path d="M217.04,346.03A161.70,161.70 0 0 1 216.07,344.60L232.38,333.57A142.00,142.00 0 0 0 233.24,334.82Z" fill="#ff2f2b"/><path d="M215.74,344.12A161.70,161.70 0 0 1 214.58,342.37L231.08,331.60A142.00,142.00 0 0 0 232.10,333.14Z" fill="#ff352f"/><path d="M214.23,341.83A161.70,161.70 0 0 1 213.54,340.74L230.16,330.18A142.00,142.00 0 0 0 230.77,331.13Z" fill="#ff2524"/><path d="M213.51,340.71A161.70,161.70 0 0 1 212.12,338.47L228.92,328.18A142.00,142.00 0 0 0 230.14,330.14Z" fill="#ff2423"/><path d="M221.80,360.24A166.50,166.50 0 0 1 186.75,286.74L190.18,286.05A163.00,163.00 0 0 0 224.50,358.01Z" fill="#999999"/><path d="M295.65,263.66A55.20,55.20 0 0 1 295.30,246.59L314.82,249.24A35.50,35.50 0 0 0 315.05,260.21Z" fill="#b4afd7"/><path d="M274.68,267.39A76.50,76.50 0 0 1 274.19,243.74L293.71,246.38A56.80,56.80 0 0 0 294.08,263.94Z" fill="#5ac3e6"/><path d="M253.71,271.12A97.80,97.80 0 0 1 253.08,240.88L272.61,243.52A78.10,78.10 0 0 0 273.11,267.67Z" fill="#1fca88"/><path d="M232.74,274.85A119.10,119.10 0 0 1 231.98,238.02L251.50,240.66A99.40,99.40 0 0 0 252.13,271.40Z" fill="#ffe86c"/><path d="M211.77,278.57A140.40,140.40 0 0 1 210.87,235.16L230.39,237.81A120.70,120.70 0 0 0 231.16,275.13Z" fill="#ff9a5c"/><path d="M190.80,282.30A161.70,161.70 0 0 1 189.76,232.31L209.28,234.95A142.00,142.00 0 0 0 210.19,278.85Z" fill="#ffa37e"/><path d="M295.61,263.43A55.20,55.20 0 0 1 295.38,261.97L314.87,259.13A35.50,35.50 0 0 0 315.02,260.06Z" fill="#6c41a8"/><path d="M274.68,267.37A76.50,76.50 0 0 1 274.30,265.04L293.80,262.20A56.80,56.80 0 0 0 294.07,263.93Z" fill="#1775c6"/><path d="M253.63,270.65A97.80,97.80 0 0 1 253.26,268.34L272.74,265.45A78.10,78.10 0 0 0 273.04,267.30Z" fill="#039156"/><path d="M232.74,274.83A119.10,119.10 0 0 1 232.36,272.56L251.81,269.49A99.40,99.40 0 0 0 252.13,271.39Z" fill="#ffbf05"/><path d="M211.76,278.54A140.40,140.40 0 0 1 211.58,277.52L231.01,274.22A120.70,120.70 0 0 0 231.16,275.10Z" fill="#ff691c"/><path d="M211.48,276.90A140.40,140.40 0 0 1 211.13,274.65L230.61,271.75A120.70,120.70 0 0 0 230.92,273.68Z" fill="#ff6112"/><path d="M190.79,282.27A161.70,161.70 0 0 1 190.58,281.09L210.01,277.79A142.00,142.00 0 0 0 210.19,278.82Z" fill="#ff332e"/><path d="M190.46,280.37A161.70,161.70 0 0 1 190.06,277.78L209.54,274.88A142.00,142.00 0 0 0 209.90,277.16Z" fill="#ff2524"/><path d="M186.07,283.14A166.50,166.50 0 0 1 185.01,231.66L188.47,232.13A163.00,163.00 0 0 0 189.52,282.53Z" fill="#cccccc"/><path d="M295.53,245.03A55.20,55.20 0 0 1 313.62,212.49L326.60,227.30A35.50,35.50 0 0 0 314.97,248.23Z" fill="#b4afd7"/><path d="M274.52,241.57A76.50,76.50 0 0 1 299.58,196.47L312.56,211.28A56.80,56.80 0 0 0 293.95,244.77Z" fill="#5ac3e6"/><path d="M253.50,238.11A97.80,97.80 0 0 1 285.54,180.45L298.53,195.26A78.10,78.10 0 0 0 272.94,241.31Z" fill="#1fca88"/><path d="M232.48,234.65A119.10,119.10 0 0 1 271.50,164.43L284.49,179.24A99.40,99.40 0 0 0 251.92,237.85Z" fill="#ffe86c"/><path d="M211.47,231.19A140.40,140.40 0 0 1 257.46,148.41L270.45,163.23A120.70,120.70 0 0 0 230.90,234.39Z" fill="#ff9a5c"/><path d="M190.45,227.73A161.70,161.70 0 0 1 243.43,132.39L256.41,147.21A142.00,142.00 0 0 0 209.89,230.93Z" fill="#ffa37e"/><path d="M295.54,245.00A55.20,55.20 0 0 1 296.04,242.35L315.30,246.50A35.50,35.50 0 0 0 314.98,248.21Z" fill="#744dad"/><path d="M296.27,241.36A55.20,55.20 0 0 1 296.37,240.94L315.51,245.60A35.50,35.50 0 0 0 315.44,245.87Z" fill="#6d42a8"/><path d="M274.54,241.46A76.50,76.50 0 0 1 274.89,239.48L294.23,243.22A56.80,56.80 0 0 0 293.97,244.69Z" fill="#1a79c8"/><path d="M275.39,237.12A76.50,76.50 0 0 1 275.67,235.90L294.81,240.56A56.80,56.80 0 0 0 294.60,241.47Z" fill="#1a79c7"/><path d="M253.53,237.93A97.80,97.80 0 0 1 253.94,235.66L273.29,239.35A78.10,78.10 0 0 0 272.96,241.17Z" fill="#018b51"/><path d="M254.29,233.90A97.80,97.80 0 0 1 254.52,232.81L273.76,237.08A78.10,78.10 0 0 0 273.57,237.95Z" fill="#018c52"/><path d="M254.96,230.94A97.80,97.80 0 0 1 254.98,230.86L274.12,235.52A78.10,78.10 0 0 0 274.10,235.58Z" fill="#059458"/><path d="M232.58,234.08A119.10,119.10 0 0 1 232.80,232.82L252.18,236.32A99.40,99.40 0 0 0 252.00,237.37Z" fill="#ffc20d"/><path d="M232.80,232.82A119.10,119.10 0 0 1 233.00,231.74L252.35,235.42A99.40,99.40 0 0 0 252.18,236.32Z" fill="#ffc008"/><path d="M233.36,229.93A119.10,119.10 0 0 1 233.63,228.63L252.88,232.83A99.40,99.40 0 0 0 252.65,233.91Z" fill="#ffc30f"/><path d="M233.91,227.37A119.10,119.10 0 0 1 234.28,225.82L253.42,230.48A99.40,99.40 0 0 0 253.12,231.78Z" fill="#ffbe02"/><path d="M211.55,230.69A140.40,140.40 0 0 1 211.79,229.32L231.18,232.79A120.70,120.70 0 0 0 230.98,233.96Z" fill="#ff6314"/><path d="M211.82,229.15A140.40,140.40 0 0 1 212.05,227.87L231.41,231.53A120.70,120.70 0 0 0 231.21,232.64Z" fill="#ff6111"/><path d="M212.11,227.59A140.40,140.40 0 0 1 212.46,225.81L231.76,229.77A120.70,120.70 0 0 0 231.46,231.29Z" fill="#ff6a1d"/><path d="M212.54,225.43A140.40,140.40 0 0 1 212.83,224.07L232.07,228.27A120.70,120.70 0 0 0 231.83,229.44Z" fill="#ff671a"/><path d="M212.97,223.43A140.40,140.40 0 0 1 213.24,222.23L232.43,226.69A120.70,120.70 0 0 0 232.20,227.72Z" fill="#ff6517"/><path d="M213.44,221.39A140.40,140.40 0 0 1 213.59,220.78L232.73,225.44A120.70,120.70 0 0 0 232.60,225.97Z" fill="#ff6a1d"/><path d="M190.54,227.15A161.70,161.70 0 0 1 190.82,225.58L210.21,229.04A142.00,142.00 0 0 0 209.97,230.42Z" fill="#ff2423"/><path d="M191.19,223.58A161.70,161.70 0 0 1 191.59,221.54L210.89,225.49A142.00,142.00 0 0 0 210.54,227.28Z" fill="#ff2b28"/><path d="M191.68,221.10A161.70,161.70 0 0 1 192.02,219.53L211.26,223.73A142.00,142.00 0 0 0 210.97,225.10Z" fill="#ff302c"/><path d="M192.18,218.79A161.70,161.70 0 0 1 192.49,217.41L211.68,221.87A142.00,142.00 0 0 0 211.41,223.08Z" fill="#ff332e"/><path d="M192.72,216.45A161.70,161.70 0 0 1 192.89,215.74L212.03,220.40A142.00,142.00 0 0 0 211.88,221.02Z" fill="#ff2222"/><path d="M185.71,226.95A166.50,166.50 0 0 1 240.26,128.78L242.57,131.41A163.00,163.00 0 0 0 189.17,227.52Z" fill="#9a6810"/><path d="M314.93,211.37A55.20,55.20 0 0 1 317.15,209.64L328.87,225.47A35.50,35.50 0 0 0 327.45,226.58Z" fill="#b4afd7"/><path d="M301.40,194.92A76.50,76.50 0 0 1 304.47,192.52L316.20,208.35A56.80,56.80 0 0 0 313.92,210.13Z" fill="#5ac3e6"/><path d="M287.87,178.47A97.80,97.80 0 0 1 291.80,175.40L303.52,191.23A78.10,78.10 0 0 0 300.39,193.68Z" fill="#1fca88"/><path d="M274.34,162.02A119.10,119.10 0 0 1 279.12,158.29L290.85,174.12A99.40,99.40 0 0 0 286.85,177.23Z" fill="#ffe86c"/><path d="M260.81,145.57A140.40,140.40 0 0 1 266.45,141.17L278.17,157.00A120.70,120.70 0 0 0 273.32,160.78Z" fill="#ff9a5c"/><path d="M247.28,129.12A161.70,161.70 0 0 1 253.77,124.05L265.50,139.88A142.00,142.00 0 0 0 259.79,144.33Z" fill="#ffa37e"/><path d="M244.23,125.41A166.50,166.50 0 0 1 250.92,120.19L253.00,123.01A163.00,163.00 0 0 0 246.45,128.12Z" fill="#555500"/><path d="M318.39,208.74A55.20,55.20 0 0 1 320.59,207.29L331.09,223.96A35.50,35.50 0 0 0 329.67,224.90Z" fill="#b4afd7"/><path d="M306.20,191.28A76.50,76.50 0 0 1 309.25,189.26L319.74,205.93A56.80,56.80 0 0 0 317.48,207.43Z" fill="#5ac3e6"/><path d="M294.00,173.82A97.80,97.80 0 0 1 297.90,171.23L308.39,187.91A78.10,78.10 0 0 0 305.28,189.97Z" fill="#1fca88"/><path d="M281.81,156.36A119.10,119.10 0 0 1 286.55,153.21L297.05,169.88A99.40,99.40 0 0 0 293.09,172.51Z" fill="#ffe86c"/><path d="M269.61,138.89A140.40,140.40 0 0 1 275.20,135.18L285.70,151.85A120.70,120.70 0 0 0 280.89,155.04Z" fill="#ff9a5c"/><path d="M257.41,121.43A161.70,161.70 0 0 1 263.86,117.16L274.35,133.83A142.00,142.00 0 0 0 268.69,137.58Z" fill="#ffa37e"/><path d="M254.67,117.49A166.50,166.50 0 0 1 261.30,113.09L263.17,116.06A163.00,163.00 0 0 0 256.67,120.36Z" fill="#999933"/><path d="M321.97,206.45A55.20,55.20 0 0 1 323.76,205.43L333.13,222.77A35.50,35.50 0 0 0 331.97,223.42Z" fill="#b4afd7"/><path d="M311.15,188.10A76.50,76.50 0 0 1 313.64,186.69L323.00,204.03A56.80,56.80 0 0 0 321.15,205.07Z" fill="#5ac3e6"/><path d="M300.33,169.75A97.80,97.80 0 0 1 303.51,167.95L312.88,185.29A78.10,78.10 0 0 0 310.34,186.72Z" fill="#1fca88"/><path d="M289.52,151.40A119.10,119.10 0 0 1 293.39,149.21L302.75,166.55A99.40,99.40 0 0 0 299.52,168.37Z" fill="#ffe86c"/><path d="M278.70,133.05A140.40,140.40 0 0 1 283.27,130.47L292.63,147.81A120.70,120.70 0 0 0 288.70,150.02Z" fill="#ff9a5c"/><path d="M267.88,114.70A161.70,161.70 0 0 1 273.14,111.73L282.50,129.07A142.00,142.00 0 0 0 277.89,131.67Z" fill="#ffa37e"/><path d="M322.12,206.36A55.20,55.20 0 0 1 323.03,205.83L332.66,223.02A35.50,35.50 0 0 0 332.07,223.36Z" fill="#764fae"/><path d="M311.46,187.91A76.50,76.50 0 0 1 313.08,187.00L322.59,204.25A56.80,56.80 0 0 0 321.39,204.93Z" fill="#1675c6"/><path d="M300.56,169.61A97.80,97.80 0 0 1 302.98,168.24L312.45,185.52A78.10,78.10 0 0 0 310.52,186.61Z" fill="#018d52"/><path d="M289.75,151.26A119.10,119.10 0 0 1 291.58,150.21L301.24,167.38A99.40,99.40 0 0 0 299.72,168.26Z" fill="#ffc412"/><path d="M279.27,132.72A140.40,140.40 0 0 1 281.24,131.59L290.89,148.77A120.70,120.70 0 0 0 289.19,149.74Z" fill="#ff6415"/><path d="M268.54,114.32A161.70,161.70 0 0 1 270.81,113.02L280.46,130.19A142.00,142.00 0 0 0 278.46,131.34Z" fill="#ff2423"/><path d="M265.44,110.57A166.50,166.50 0 0 1 270.86,107.51L272.52,110.59A163.00,163.00 0 0 0 267.22,113.58Z" fill="#cc0000"/><path d="M325.28,204.64A55.20,55.20 0 0 1 330.43,202.39L337.41,220.81A35.50,35.50 0 0 0 334.10,222.26Z" fill="#b4afd7"/><path d="M315.75,185.60A76.50,76.50 0 0 1 322.87,182.47L329.86,200.89A56.80,56.80 0 0 0 324.57,203.21Z" fill="#5ac3e6"/><path d="M306.21,166.55A97.80,97.80 0 0 1 315.32,162.56L322.30,180.98A78.10,78.10 0 0 0 315.03,184.17Z" fill="#1fca88"/><path d="M296.67,147.51A119.10,119.10 0 0 1 307.77,142.64L314.75,161.06A99.40,99.40 0 0 0 305.49,165.12Z" fill="#ffe86c"/><path d="M287.13,128.46A140.40,140.40 0 0 1 300.21,122.72L307.20,141.14A120.70,120.70 0 0 0 295.96,146.08Z" fill="#ff9a5c"/><path d="M277.60,109.42A161.70,161.70 0 0 1 292.66,102.81L299.64,121.23A142.00,142.00 0 0 0 286.42,127.03Z" fill="#ffa37e"/><path d="M325.51,204.53A55.20,55.20 0 0 1 327.75,203.48L335.69,221.51A35.50,35.50 0 0 0 334.25,222.19Z" fill="#7046aa"/><path d="M315.98,185.48A76.50,76.50 0 0 1 317.48,184.76L325.85,202.59A56.80,56.80 0 0 0 324.74,203.13Z" fill="#1876c6"/><path d="M321.23,183.12A76.50,76.50 0 0 1 322.87,182.47L329.86,200.89A56.80,56.80 0 0 0 328.64,201.37Z" fill="#1674c5"/><path d="M306.48,166.42A97.80,97.80 0 0 1 307.42,165.95L316.00,183.69A78.10,78.10 0 0 0 315.25,184.06Z" fill="#018d52"/><path d="M311.67,164.02A97.80,97.80 0 0 1 313.33,163.33L320.72,181.60A78.10,78.10 0 0 0 319.39,182.15Z" fill="#028e54"/><path d="M297.08,147.30A119.10,119.10 0 0 1 299.27,146.25L307.66,164.07A99.40,99.40 0 0 0 305.84,164.95Z" fill="#ffc20c"/><path d="M302.64,144.72A119.10,119.10 0 0 1 303.92,144.17L311.54,162.34A99.40,99.40 0 0 0 310.47,162.80Z" fill="#ffc006"/><path d="M307.19,142.86A119.10,119.10 0 0 1 307.77,142.64L314.75,161.06A99.40,99.40 0 0 0 314.27,161.24Z" fill="#ffbe03"/><path d="M287.54,128.26A140.40,140.40 0 0 1 288.89,127.60L297.46,145.34A120.70,120.70 0 0 0 296.30,145.90Z" fill="#ff6415"/><path d="M289.60,127.26A140.40,140.40 0 0 1 291.53,126.35L299.73,144.26A120.70,120.70 0 0 0 298.07,145.04Z" fill="#ff6011"/><path d="M294.49,125.04A140.40,140.40 0 0 1 295.37,124.67L303.03,142.81A120.70,120.70 0 0 0 302.28,143.13Z" fill="#ff6213"/><path d="M278.06,109.19A161.70,161.70 0 0 1 279.61,108.42L288.19,126.16A142.00,142.00 0 0 0 286.82,126.83Z" fill="#ff2322"/><path d="M280.43,108.03A161.70,161.70 0 0 1 282.66,106.99L290.86,124.90A142.00,142.00 0 0 0 288.91,125.81Z" fill="#ff2322"/><path d="M286.07,105.47A161.70,161.70 0 0 1 287.08,105.04L294.74,123.19A142.00,142.00 0 0 0 293.86,123.57Z" fill="#ff2926"/><path d="M275.45,105.12A166.50,166.50 0 0 1 290.96,98.32L292.20,101.59A163.00,163.00 0 0 0 277.02,108.25Z" fill="#ee0000"/><path d="M332.02,201.81A55.20,55.20 0 0 1 337.76,200.17L342.13,219.38A35.50,35.50 0 0 0 338.44,220.44Z" fill="#b4afd7"/><path d="M325.08,181.67A76.50,76.50 0 0 1 333.04,179.40L337.41,198.61A56.80,56.80 0 0 0 331.50,200.30Z" fill="#5ac3e6"/><path d="M318.14,161.53A97.80,97.80 0 0 1 328.32,158.63L332.68,177.84A78.10,78.10 0 0 0 324.56,180.16Z" fill="#1fca88"/><path d="M311.21,141.40A119.10,119.10 0 0 1 323.59,137.86L327.96,157.07A99.40,99.40 0 0 0 317.62,160.02Z" fill="#ffe86c"/><path d="M304.27,121.26A140.40,140.40 0 0 1 318.87,117.09L323.24,136.30A120.70,120.70 0 0 0 310.68,139.88Z" fill="#ff9a5c"/><path d="M297.33,101.12A161.70,161.70 0 0 1 314.15,96.32L318.52,115.53A142.00,142.00 0 0 0 303.75,119.74Z" fill="#ffa37e"/><path d="M332.13,201.77A55.20,55.20 0 0 1 334.11,201.14L339.78,220.00A35.50,35.50 0 0 0 338.51,220.41Z" fill="#744cac"/><path d="M336.96,200.36A55.20,55.20 0 0 1 337.76,200.17L342.13,219.38A35.50,35.50 0 0 0 341.61,219.51Z" fill="#7751ae"/><path d="M325.31,181.60A76.50,76.50 0 0 1 326.57,181.18L332.61,199.93A56.80,56.80 0 0 0 331.66,200.24Z" fill="#1b7ac8"/><path d="M318.46,161.43A97.80,97.80 0 0 1 320.40,160.79L326.36,179.56A78.10,78.10 0 0 0 324.81,180.07Z" fill="#039156"/><path d="M311.56,141.27A119.10,119.10 0 0 1 312.36,141.00L318.59,159.69A99.40,99.40 0 0 0 317.92,159.92Z" fill="#ffc412"/><path d="M318.75,139.07A119.10,119.10 0 0 1 319.71,138.82L324.72,157.87A99.40,99.40 0 0 0 323.92,158.08Z" fill="#ffc30f"/><path d="M304.95,121.03A140.40,140.40 0 0 1 306.67,120.45L312.75,139.19A120.70,120.70 0 0 0 311.27,139.68Z" fill="#ff6a1d"/><path d="M308.99,119.72A140.40,140.40 0 0 1 309.91,119.45L315.53,138.33A120.70,120.70 0 0 0 314.75,138.56Z" fill="#ff6617"/><path d="M311.51,118.98A140.40,140.40 0 0 1 312.64,118.66L317.89,137.65A120.70,120.70 0 0 0 316.91,137.92Z" fill="#ff6516"/><path d="M313.59,118.40A140.40,140.40 0 0 1 314.51,118.16L319.49,137.22A120.70,120.70 0 0 0 318.70,137.43Z" fill="#ff6a1d"/><path d="M298.11,100.85A161.70,161.70 0 0 1 300.10,100.19L306.18,118.93A142.00,142.00 0 0 0 304.43,119.51Z" fill="#ff2826"/><path d="M302.77,99.35A161.70,161.70 0 0 1 303.82,99.03L309.45,117.91A142.00,142.00 0 0 0 308.53,118.19Z" fill="#ff2d29"/><path d="M305.67,98.50A161.70,161.70 0 0 1 306.98,98.13L312.22,117.12A142.00,142.00 0 0 0 311.07,117.44Z" fill="#ff312c"/><path d="M308.07,97.83A161.70,161.70 0 0 1 309.13,97.55L314.11,116.61A142.00,142.00 0 0 0 313.18,116.86Z" fill="#ff322d"/><path d="M295.77,96.58A166.50,166.50 0 0 1 313.08,91.64L313.86,95.06A163.00,163.00 0 0 0 296.91,99.89Z" fill="#ff00cc"/><path d="M339.12,199.88A55.20,55.20 0 0 1 342.75,199.28L345.34,218.81A35.50,35.50 0 0 0 343.00,219.20Z" fill="#b4afd7"/><path d="M334.92,179.00A76.50,76.50 0 0 1 339.95,178.16L342.54,197.69A56.80,56.80 0 0 0 338.80,198.31Z" fill="#5ac3e6"/><path d="M330.72,158.12A97.80,97.80 0 0 1 337.15,157.05L339.74,176.58A78.10,78.10 0 0 0 334.60,177.43Z" fill="#1fca88"/><path d="M326.52,137.24A119.10,119.10 0 0 1 334.35,135.93L336.94,155.46A99.40,99.40 0 0 0 330.40,156.55Z" fill="#ffe86c"/><path d="M322.32,116.36A140.40,140.40 0 0 1 331.55,114.82L334.14,134.35A120.70,120.70 0 0 0 326.20,135.67Z" fill="#ff9a5c"/><path d="M318.12,95.47A161.70,161.70 0 0 1 328.75,93.70L331.34,113.23A142.00,142.00 0 0 0 322.01,114.79Z" fill="#ffa37e"/><path d="M339.26,199.86A55.20,55.20 0 0 1 341.57,199.45L344.58,218.92A35.50,35.50 0 0 0 343.09,219.18Z" fill="#754ead"/><path d="M334.99,178.99A76.50,76.50 0 0 1 336.81,178.64L340.21,198.05A56.80,56.80 0 0 0 338.85,198.30Z" fill="#1b7ac8"/><path d="M330.79,158.11A97.80,97.80 0 0 1 331.83,157.90L335.49,177.26A78.10,78.10 0 0 0 334.66,177.42Z" fill="#039055"/><path d="M333.33,157.63A97.80,97.80 0 0 1 335.14,157.33L338.14,176.81A78.10,78.10 0 0 0 336.69,177.04Z" fill="#06975b"/><path d="M336.06,157.20A97.80,97.80 0 0 1 337.15,157.05L339.74,176.58A78.10,78.10 0 0 0 338.87,176.70Z" fill="#008a50"/><path d="M326.95,137.15A119.10,119.10 0 0 1 328.95,136.78L332.43,156.17A99.40,99.40 0 0 0 330.76,156.48Z" fill="#ffc007"/><path d="M330.12,136.57A119.10,119.10 0 0 1 332.25,136.23L335.18,155.71A99.40,99.40 0 0 0 333.40,156.00Z" fill="#ffc20e"/><path d="M333.44,136.06A119.10,119.10 0 0 1 334.35,135.93L336.94,155.46A99.40,99.40 0 0 0 336.18,155.56Z" fill="#ffbd00"/><path d="M322.64,116.29A140.40,140.40 0 0 1 323.80,116.07L327.48,135.42A120.70,120.70 0 0 0 326.48,135.61Z" fill="#ff6719"/><path d="M328.61,115.24A140.40,140.40 0 0 1 330.27,114.99L333.04,134.50A120.70,120.70 0 0 0 331.61,134.71Z" fill="#ff6112"/><path d="M318.49,95.40A161.70,161.70 0 0 1 319.83,95.14L323.50,114.49A142.00,142.00 0 0 0 322.33,114.72Z" fill="#ff3630"/><path d="M325.36,94.19A161.70,161.70 0 0 1 327.27,93.91L330.04,113.41A142.00,142.00 0 0 0 328.36,113.66Z" fill="#ff2221"/><path d="M317.18,90.77A166.50,166.50 0 0 1 328.12,88.94L328.58,92.41A163.00,163.00 0 0 0 317.87,94.20Z" fill="#ffcccc"/><path d="M344.39,199.09A55.20,55.20 0 0 1 348.64,198.82L349.13,218.51A35.50,35.50 0 0 0 346.39,218.68Z" fill="#b4afd7"/><path d="M342.23,177.90A76.50,76.50 0 0 1 348.12,177.52L348.60,197.22A56.80,56.80 0 0 0 344.23,197.49Z" fill="#5ac3e6"/><path d="M340.07,156.71A97.80,97.80 0 0 1 347.59,156.23L348.08,175.92A78.10,78.10 0 0 0 342.07,176.30Z" fill="#1fca88"/><path d="M337.90,135.52A119.10,119.10 0 0 1 347.07,134.94L347.55,154.63A99.40,99.40 0 0 0 339.90,155.11Z" fill="#ffe86c"/><path d="M335.74,114.33A140.40,140.40 0 0 1 346.55,113.64L347.03,133.34A120.70,120.70 0 0 0 337.74,133.92Z" fill="#ff9a5c"/><path d="M333.57,93.14A161.70,161.70 0 0 1 346.02,92.35L346.51,112.04A142.00,142.00 0 0 0 335.58,112.73Z" fill="#ffa37e"/><path d="M344.40,199.09A55.20,55.20 0 0 1 346.99,198.88L348.06,218.55A35.50,35.50 0 0 0 346.40,218.68Z" fill="#6d42a8"/><path d="M342.58,177.86A76.50,76.50 0 0 1 344.57,177.69L345.97,197.34A56.80,56.80 0 0 0 344.49,197.47Z" fill="#1a79c7"/><path d="M340.23,156.69A97.80,97.80 0 0 1 341.77,156.55L343.43,176.18A78.10,78.10 0 0 0 342.20,176.29Z" fill="#049257"/><path d="M344.57,156.35A97.80,97.80 0 0 1 346.97,156.25L347.58,175.94A78.10,78.10 0 0 0 345.66,176.02Z" fill="#018c52"/><path d="M338.11,135.50A119.10,119.10 0 0 1 340.19,135.30L341.81,154.94A99.40,99.40 0 0 0 340.08,155.10Z" fill="#ffc007"/><path d="M341.37,135.21A119.10,119.10 0 0 1 343.48,135.08L344.56,154.75A99.40,99.40 0 0 0 342.80,154.86Z" fill="#ffbe03"/><path d="M345.63,134.98A119.10,119.10 0 0 1 347.07,134.94L347.55,154.63A99.40,99.40 0 0 0 346.35,154.67Z" fill="#ffbf05"/><path d="M336.18,114.28A140.40,140.40 0 0 1 337.86,114.13L339.56,133.75A120.70,120.70 0 0 0 338.12,133.89Z" fill="#ff6a1d"/><path d="M344.19,113.72A140.40,140.40 0 0 1 345.59,113.67L346.21,133.36A120.70,120.70 0 0 0 345.01,133.40Z" fill="#ff6517"/><path d="M343.31,92.44A161.70,161.70 0 0 1 344.92,92.38L345.54,112.07A142.00,142.00 0 0 0 344.13,112.12Z" fill="#ff2c29"/><path d="M333.09,88.36A166.50,166.50 0 0 1 345.90,87.55L345.99,91.05A163.00,163.00 0 0 0 333.44,91.84Z" fill="#ff9900"/><path d="M350.49,87.50L350.50,84.60M353.08,87.53L353.12,85.63M355.67,87.60L355.73,85.70M358.25,87.70L358.34,85.81M360.83,87.85L360.96,85.96M363.41,88.04L363.56,86.15M365.99,88.27L366.17,86.38M368.56,88.54L368.77,86.65M371.13,88.85L371.37,86.96M373.69,89.19L373.96,87.31M376.25,89.58L376.70,86.72M378.80,90.01L379.13,88.14M381.34,90.48L381.70,88.61M383.88,90.98L384.26,89.12M386.41,91.53L386.82,89.67M393.09,93.17L393.84,90.37M395.59,93.86L396.11,92.03M398.07,94.59L398.62,92.77M400.54,95.36L401.12,93.55M403.00,96.16L403.60,94.36M405.44,97.00L406.07,95.21M407.87,97.88L408.53,96.10M410.29,98.80L410.98,97.03M415.46,100.91L416.60,98.24M417.83,101.94L418.60,100.21M420.18,103.01L420.98,101.29M422.52,104.12L423.35,102.41M424.84,105.27L425.69,103.57M427.14,106.45L428.02,104.76M429.42,107.66L430.33,105.99M431.68,108.91L432.62,107.26M433.93,110.20L434.89,108.56M439.51,113.61L441.07,111.16M441.68,115.01L442.73,113.43M443.83,116.45L444.90,114.89M445.95,117.93L447.05,116.38M450.78,121.47L452.54,119.16M452.83,123.05L454.00,121.55M454.85,124.66L456.05,123.18M456.85,126.30L458.07,124.85M458.82,127.98L460.06,126.54M460.76,129.68L462.02,128.27M462.68,131.42L463.96,130.02M464.57,133.19L465.88,131.81M466.43,134.98L467.76,133.62M468.27,136.80L469.62,135.46M470.07,138.65L472.16,136.64M471.85,140.53L473.24,139.24M473.60,142.44L475.01,141.17M475.32,144.37L476.75,143.12M477.00,146.33L478.45,145.10M478.66,148.32L480.13,147.11M480.29,150.33L481.77,149.15M482.64,153.36L484.95,151.60M484.19,155.43L485.72,154.30M485.70,157.53L487.25,156.43M487.18,159.65L488.75,158.57M488.63,161.79L490.22,160.74M490.05,163.95L491.65,162.92M491.43,166.14L493.04,165.14M492.78,168.35L494.41,167.37M494.09,170.57L495.74,169.62M495.37,172.82L497.03,171.90M496.61,175.09L499.17,173.72M499.56,180.83L502.16,179.55M500.68,183.16L502.40,182.35M501.76,185.51L503.49,184.73M502.81,187.87L504.55,187.12M503.81,190.26L505.57,189.53M504.79,192.65L506.55,191.95M505.72,195.06L507.50,194.39M506.62,197.49L508.40,196.85M507.48,199.93L509.27,199.31M508.30,202.38L510.10,201.79M509.08,204.85L511.85,203.99M509.82,207.32L511.65,206.79M510.53,209.81L512.36,209.31M511.20,212.31L513.04,211.84M511.82,214.82L513.67,214.37M513.30,221.52L516.15,220.95M513.79,224.06L515.65,223.72M514.23,226.61L516.11,226.29M514.64,229.16L516.52,228.88M515.46,235.38L518.34,235.06M515.73,237.95L517.62,237.77M515.95,240.53L517.85,240.38M516.14,243.11L518.04,242.99M516.29,245.69L518.19,245.60M516.40,248.28L518.30,248.21M516.47,250.86L518.37,250.83M516.50,253.45L518.40,253.44M516.49,256.03L518.39,256.06M516.44,258.62L518.34,258.67M516.34,261.20L519.24,261.33M516.21,263.79L518.11,263.90M516.04,266.37L517.93,266.51M515.83,268.95L517.72,269.12M515.58,271.52L517.47,271.72M514.83,277.55L517.70,277.96M514.44,280.10L516.32,280.40M514.02,282.65L515.89,282.98M513.55,285.20L515.42,285.56M513.05,287.74L514.91,288.12M512.50,290.26L514.36,290.68M511.92,292.78L513.77,293.23M511.30,295.29L513.14,295.77M510.64,297.79L512.47,298.29M509.94,300.28L511.76,300.81M509.20,302.76L511.97,303.61M508.42,305.23L510.23,305.81M507.61,307.68L509.41,308.30M506.75,310.13L508.54,310.77M505.86,312.55L507.64,313.22M504.94,314.97L506.70,315.66M503.97,317.37L505.73,318.09M502.97,319.75L504.71,320.50M501.93,322.12L503.66,322.90M500.85,324.47L502.57,325.28M499.74,326.81L502.35,328.07M498.59,329.12L500.28,329.98M496.13,333.80L498.67,335.19M494.87,336.06L496.52,337.00M493.58,338.30L495.22,339.27M492.25,340.52L493.88,341.51M490.89,342.72L492.50,343.74M489.50,344.90L491.09,345.94M486.37,349.52L488.75,351.19M484.87,351.63L486.41,352.75M483.34,353.71L484.86,354.85M481.77,355.77L483.28,356.93M480.18,357.81L481.66,358.99M478.55,359.82L480.02,361.02M476.89,361.80L478.34,363.03M475.20,363.76L476.63,365.01M473.48,365.69L474.89,366.97M471.73,367.60L473.12,368.89M469.95,369.47L472.04,371.48M468.14,371.32L469.49,372.66M463.38,375.93L465.36,378.05M461.48,377.68L462.75,379.09M459.54,379.39L460.79,380.82M457.58,381.08L458.81,382.53M455.59,382.73L456.80,384.20M453.58,384.36L454.76,385.85M451.54,385.95L452.70,387.46M449.48,387.51L450.62,389.04M445.74,390.22L447.41,392.59M443.61,391.69L444.68,393.26M441.46,393.13L442.50,394.72M439.29,394.53L440.31,396.14M437.10,395.90L438.09,397.52M431.25,399.33L432.67,401.86M428.99,400.57L429.89,402.24M426.70,401.78L427.58,403.47M424.40,402.95L425.24,404.65M422.07,404.09L422.90,405.81M419.73,405.19L420.53,406.92M417.38,406.26L418.15,408.00M415.00,407.29L415.75,409.04M412.61,408.28L413.33,410.04M410.21,409.23L410.90,411.00M407.79,410.15L408.80,412.87M405.36,411.03L405.99,412.82M402.91,411.87L403.52,413.67M400.46,412.67L401.03,414.48M397.98,413.44L398.53,415.26M395.50,414.16L396.02,415.99M393.01,414.85L393.50,416.68M390.51,415.50L390.97,417.34M387.99,416.11L388.43,417.96M385.47,416.68L385.87,418.53M382.94,417.21L383.51,420.05M380.40,417.70L380.75,419.57M377.85,418.15L378.17,420.03M373.98,418.76L374.40,421.63M371.42,419.12L371.66,421.00M368.85,419.43L369.06,421.32M362.43,420.04L362.64,422.93M359.85,420.21L359.96,422.11M357.26,420.34L357.35,422.24M354.68,420.43L354.73,422.33M352.09,420.49L352.12,422.39M349.51,420.50L349.50,422.40M346.92,420.47L346.88,422.37M344.33,420.40L344.27,422.30M341.75,420.30L341.66,422.19M339.17,420.15L339.04,422.04M336.59,419.96L336.36,422.85M331.53,419.47L331.21,422.35M328.96,419.17L328.72,421.05M326.40,418.82L326.13,420.70M323.84,418.43L323.54,420.31M321.29,418.01L320.96,419.88M318.74,417.54L318.39,419.41M316.21,417.03L315.82,418.90M313.68,416.49L313.26,418.34M311.16,415.91L310.72,417.75M308.65,415.28L308.18,417.12M306.15,414.62L305.39,417.42M303.66,413.92L303.13,415.75M301.18,413.18L300.62,415.00M298.71,412.40L298.13,414.21M296.26,411.59L295.65,413.39M291.04,409.71L290.01,412.42M288.63,408.78L287.93,410.54M286.23,407.80L285.50,409.56M283.85,406.79L283.09,408.54M281.48,405.75L280.70,407.48M279.13,404.67L278.33,406.39M276.80,403.55L275.97,405.25M274.49,402.39L273.63,404.09M272.19,401.20L271.30,402.88M267.83,398.81L266.40,401.34M265.60,397.52L264.63,399.16M263.38,396.19L262.39,397.81M261.18,394.83L260.16,396.44M255.69,391.22L254.05,393.61M253.57,389.74L252.47,391.28M251.48,388.22L250.35,389.75M249.40,386.67L248.26,388.19M247.36,385.10L246.18,386.59M243.47,381.96L241.61,384.19M241.49,380.29L240.25,381.73M239.54,378.59L238.28,380.01M237.62,376.85L236.34,378.26M235.73,375.09L234.42,376.48M233.86,373.30L232.53,374.67M232.02,371.49L230.67,372.83M230.21,369.64L228.84,370.96M228.43,367.77L227.04,369.06M226.68,365.86L225.27,367.14M224.95,363.93L222.77,365.85M221.80,360.24L219.57,362.09M220.17,358.24L218.69,359.43M218.56,356.21L217.06,357.38M216.99,354.16L215.47,355.30M215.45,352.08L213.92,353.20M213.95,349.98L212.39,351.07M212.47,347.85L210.90,348.92M211.03,345.70L209.44,346.75M209.62,343.53L208.02,344.56M208.25,341.34L206.63,342.34M206.91,339.13L204.42,340.61M205.60,336.90L203.96,337.84M204.33,334.64L202.67,335.56M203.10,332.37L201.42,333.27M201.90,330.08L200.21,330.95M200.74,327.77L199.03,328.61M199.61,325.44L197.89,326.26M198.52,323.10L196.79,323.89M197.46,320.74L195.72,321.50M196.44,318.36L194.69,319.10M195.46,315.97L192.77,317.05M194.52,313.56L192.74,314.24M193.61,311.14L191.83,311.79M192.74,308.70L190.95,309.33M191.91,306.25L190.11,306.85M191.12,303.79L189.31,304.36M190.36,301.32L188.54,301.86M189.65,298.83L187.82,299.34M188.97,296.34L187.13,296.82M188.33,293.83L186.49,294.28M187.73,291.31L184.91,291.96M187.17,288.79L185.32,289.18M186.07,283.14L183.21,283.65M185.64,280.59L183.76,280.89M185.24,278.04L183.36,278.31M184.89,275.47L183.01,275.72M184.58,272.91L182.69,273.12M184.30,270.33L182.41,270.52M184.07,267.76L182.18,267.92M183.88,265.18L181.98,265.31M183.72,262.60L181.82,262.70M183.61,260.01L181.71,260.08M183.54,257.43L180.64,257.49M183.50,254.84L181.60,254.85M183.51,252.26L181.61,252.24M183.56,249.67L181.66,249.62M183.64,247.09L181.75,247.01M183.77,244.50L181.87,244.39M183.94,241.92L182.04,241.78M184.15,239.34L182.25,239.18M184.39,236.77L182.50,236.57M184.68,234.20L182.80,233.97M185.71,226.95L182.85,226.48M186.15,224.40L184.28,224.06M186.63,221.86L184.77,221.49M187.15,219.33L185.29,218.93M187.71,216.80L185.86,216.38M188.31,214.28L186.46,213.83M188.94,211.78L187.10,211.30M189.62,209.28L187.79,208.77M190.33,206.80L188.51,206.26M191.08,204.32L189.27,203.75M191.88,201.86L189.12,200.95M192.70,199.41L190.91,198.79M193.57,196.97L191.79,196.32M194.48,194.55L192.70,193.87M195.42,192.14L193.65,191.43M196.40,189.75L194.64,189.01M197.41,187.37L195.67,186.61M198.47,185.01L196.74,184.22M199.56,182.66L197.84,181.85M200.68,180.33L198.98,179.49M201.85,178.02L199.27,176.70M203.04,175.73L201.37,174.84M204.28,173.46L202.61,172.54M205.55,171.20L203.90,170.26M206.85,168.97L205.22,168.00M208.19,166.76L206.57,165.76M209.56,164.56L207.96,163.54M210.97,162.39L209.38,161.35M212.41,160.24L210.84,159.18M213.88,158.12L212.33,157.02M215.38,156.02L213.04,154.31M216.92,153.94L215.40,152.80M218.49,151.88L216.99,150.72M220.09,149.85L218.61,148.66M221.73,147.85L220.26,146.64M223.39,145.87L221.95,144.63M225.09,143.91L223.66,142.66M226.81,141.99L225.41,140.71M228.57,140.09L227.18,138.79M230.35,138.21L228.99,136.89M232.16,136.37L230.11,134.32M234.01,134.55L232.68,133.19M235.87,132.77L234.57,131.38M237.77,131.01L236.49,129.60M239.70,129.28L238.44,127.86M244.23,125.41L242.39,123.17M246.24,123.79L245.05,122.30M248.27,122.19L247.11,120.69M250.33,120.63L249.20,119.10M254.67,117.49L253.01,115.12M256.80,116.03L255.73,114.46M258.95,114.60L257.91,113.01M261.13,113.20L260.11,111.60M265.44,110.57L263.97,108.07M267.68,109.27L266.74,107.62M269.94,108.01L269.03,106.35M275.45,105.12L274.15,102.53M277.77,103.98L276.95,102.27M280.11,102.88L279.31,101.15M282.46,101.81L281.69,100.08M284.84,100.78L284.09,99.03M287.22,99.79L286.51,98.03M289.63,98.83L288.94,97.06M295.77,96.58L294.82,93.84M298.22,95.76L297.63,93.95M300.68,94.97L300.12,93.16M303.16,94.23L302.62,92.40M305.64,93.52L305.14,91.69M308.14,92.85L307.67,91.01M310.65,92.22L310.20,90.37M317.18,90.77L316.60,87.92M319.71,90.28L319.37,88.41M322.26,89.83L321.95,87.95M324.82,89.42L324.53,87.54M327.37,89.04L327.12,87.16M333.09,88.36L332.79,85.48M335.66,88.12L335.50,86.23M338.24,87.92L338.11,86.02M340.82,87.75L340.72,85.86M343.41,87.63L343.33,85.73" stroke="#b8b8b8" stroke-width="0.4" fill="none"/><g font-size="4.7" fill="#8c8c8c" stroke="#999" stroke-width="0.2"><text transform="translate(350.51,83.70) rotate(-89.83)" dy="1.5">0</text><text transform="translate(376.85,85.83) rotate(-80.93)" dy="1.5">10</text><text transform="translate(394.08,89.50) rotate(-75.00)" dy="1.5">0</text><text transform="translate(416.95,97.41) rotate(-66.85)" dy="1.5">0</text><text transform="translate(441.55,110.40) rotate(-57.48)" dy="1.5">0</text><text transform="translate(453.08,118.44) rotate(-52.75)" dy="1.5">0</text><text transform="translate(472.81,136.02) rotate(-43.85)" dy="1.5">10</text><text transform="translate(485.67,151.06) rotate(-37.19)" dy="1.5">0</text><text transform="translate(499.96,173.29) rotate(-28.29)" dy="1.5">10</text><text transform="translate(502.97,179.16) rotate(-26.07)" dy="1.5">0</text><text transform="translate(512.71,203.73) rotate(-17.17)" dy="1.5">10</text><text transform="translate(517.03,220.78) rotate(-11.25)" dy="1.5">0</text><text transform="translate(519.23,234.96) rotate(-6.42)" dy="1.5">0</text><text transform="translate(520.14,261.37) rotate(2.48)" dy="1.5">10</text><text transform="translate(518.59,278.08) rotate(8.13)" dy="1.5">0</text><text transform="translate(512.83,303.88) rotate(17.03)" dy="1.5">10</text><text transform="translate(503.16,328.47) rotate(25.93)" dy="1.5">20</text><text transform="translate(499.46,335.63) rotate(28.64)" dy="1.5">0</text><text transform="translate(489.48,351.70) rotate(35.01)" dy="1.5">0</text><text transform="translate(472.69,372.11) rotate(43.91)" dy="1.5">10</text><text transform="translate(465.97,378.71) rotate(47.08)" dy="1.5">0</text><text transform="translate(447.92,393.33) rotate(54.90)" dy="1.5">0</text><text transform="translate(433.11,402.64) rotate(60.79)" dy="1.5">0</text><text transform="translate(409.11,413.71) rotate(69.69)" dy="1.5">10</text><text transform="translate(383.69,420.93) rotate(78.59)" dy="1.5">20</text><text transform="translate(374.53,422.52) rotate(81.72)" dy="1.5">0</text><text transform="translate(362.71,423.83) rotate(85.72)" dy="1.5">0</text><text transform="translate(336.28,423.75) rotate(-85.38)" dy="1.5" text-anchor="end">10</text><text transform="translate(331.11,423.25) rotate(-83.63)" dy="1.5" text-anchor="end">0</text><text transform="translate(305.15,418.29) rotate(-74.73)" dy="1.5" text-anchor="end">10</text><text transform="translate(289.69,413.26) rotate(-69.26)" dy="1.5" text-anchor="end">0</text><text transform="translate(265.96,402.12) rotate(-60.43)" dy="1.5" text-anchor="end">0</text><text transform="translate(253.54,394.35) rotate(-55.50)" dy="1.5" text-anchor="end">0</text><text transform="translate(241.03,384.88) rotate(-50.22)" dy="1.5" text-anchor="end">0</text><text transform="translate(222.10,366.44) rotate(-41.32)" dy="1.5" text-anchor="end">10</text><text transform="translate(218.88,362.67) rotate(-39.65)" dy="1.5" text-anchor="end">0</text><text transform="translate(203.64,341.07) rotate(-30.75)" dy="1.5" text-anchor="end">10</text><text transform="translate(191.93,317.38) rotate(-21.85)" dy="1.5" text-anchor="end">20</text><text transform="translate(184.03,292.16) rotate(-12.95)" dy="1.5" text-anchor="end">30</text><text transform="translate(182.33,283.81) rotate(-10.08)" dy="1.5" text-anchor="end">0</text><text transform="translate(179.74,257.51) rotate(-1.18)" dy="1.5" text-anchor="end">10</text><text transform="translate(181.96,226.33) rotate(9.35)" dy="1.5" text-anchor="end">0</text><text transform="translate(188.27,200.67) rotate(18.25)" dy="1.5" text-anchor="end">10</text><text transform="translate(198.46,176.29) rotate(27.15)" dy="1.5" text-anchor="end">20</text><text transform="translate(212.31,153.78) rotate(36.05)" dy="1.5" text-anchor="end">30</text><text transform="translate(229.47,133.68) rotate(44.95)" dy="1.5" text-anchor="end">40</text><text transform="translate(241.81,122.48) rotate(50.56)" dy="1.5" text-anchor="end">0</text><text transform="translate(252.49,114.38) rotate(55.07)" dy="1.5" text-anchor="end">0</text><text transform="translate(263.52,107.29) rotate(59.48)" dy="1.5" text-anchor="end">0</text><text transform="translate(273.75,101.73) rotate(63.40)" dy="1.5" text-anchor="end">0</text><text transform="translate(294.53,92.99) rotate(70.99)" dy="1.5" text-anchor="end">0</text><text transform="translate(316.43,87.04) rotate(78.63)" dy="1.5" text-anchor="end">0</text><text transform="translate(332.70,84.58) rotate(84.17)" dy="1.5" text-anchor="end">0</text></g><g font-size="8.9" fill="#111" stroke="#222" stroke-width="0.06"><text transform="translate(370.63,79.72) rotate(-83.25)" dy="3.1">atpA</text><text transform="translate(404.95,87.32) rotate(-71.75)" dy="3.1">atpI</text><text transform="translate(429.66,97.62) rotate(-63.01)" dy="3.1">ccsA</text><text transform="translate(448.48,108.74) rotate(-55.86)" dy="3.1">infA</text><text transform="translate(472.82,128.64) rotate(-45.59)" dy="3.1">matK</text><text transform="translate(498.13,159.88) rotate(-32.43)" dy="3.1">ndhA</text><text transform="translate(515.53,195.68) rotate(-19.41)" dy="3.1">ndhB</text><text transform="translate(522.95,224.20) rotate(-9.78)" dy="3.1">ndhC</text><text transform="translate(525.50,253.86) rotate(-0.05)" dy="3.1">ndhD</text><text transform="translate(517.28,307.10) rotate(17.61)" dy="3.1">ndhF</text><text transform="translate(500.03,345.06) rotate(31.25)" dy="3.1">ndhG</text><text transform="translate(483.97,367.37) rotate(40.24)" dy="3.1">ndhH</text><text transform="translate(462.10,389.03) rotate(50.30)" dy="3.1">ndhK</text><text transform="translate(445.52,401.23) rotate(57.03)" dy="3.1">petD</text><text transform="translate(408.31,419.53) rotate(70.59)" dy="3.1">psaA</text><text transform="translate(371.51,428.18) rotate(82.96)" dy="3.1">psaC</text><text transform="translate(348.88,429.50) rotate(-89.63)" dy="3.1" text-anchor="end">psbA</text><text transform="translate(310.80,425.07) rotate(-77.09)" dy="3.1" text-anchor="end">rbcL</text><text transform="translate(277.60,413.87) rotate(-65.63)" dy="3.1" text-anchor="end">rpl2</text><text transform="translate(259.48,404.35) rotate(-58.95)" dy="3.1" text-anchor="end">rpl20</text><text transform="translate(246.13,395.46) rotate(-53.71)" dy="3.1" text-anchor="end">rpl22</text><text transform="translate(227.47,379.65) rotate(-45.72)" dy="3.1" text-anchor="end">rpoA</text><text transform="translate(191.59,329.54) rotate(-25.50)" dy="3.1" text-anchor="end">rpoB</text><text transform="translate(174.54,257.63) rotate(-1.19)" dy="3.1" text-anchor="end">rpoC1</text><text transform="translate(196.59,168.76) rotate(29.06)" dy="3.1" text-anchor="end">rpoC2</text><text transform="translate(242.00,115.67) rotate(52.02)" dy="3.1" text-anchor="end">rps12</text><text transform="translate(252.98,107.75) rotate(56.44)" dy="3.1" text-anchor="end">rps14</text><text transform="translate(263.71,101.18) rotate(60.55)" dy="3.1" text-anchor="end">rps16</text><text transform="translate(279.50,93.28) rotate(66.31)" dy="3.1" text-anchor="end">rps2</text><text transform="translate(301.89,85.22) rotate(74.09)" dy="3.1" text-anchor="end">rps3</text><text transform="translate(321.15,80.89) rotate(80.54)" dy="3.1" text-anchor="end">rps8</text><text transform="translate(338.92,78.85) rotate(86.38)" dy="3.1" text-anchor="end">ycf3</text></g></g></svg></div></body></html>
